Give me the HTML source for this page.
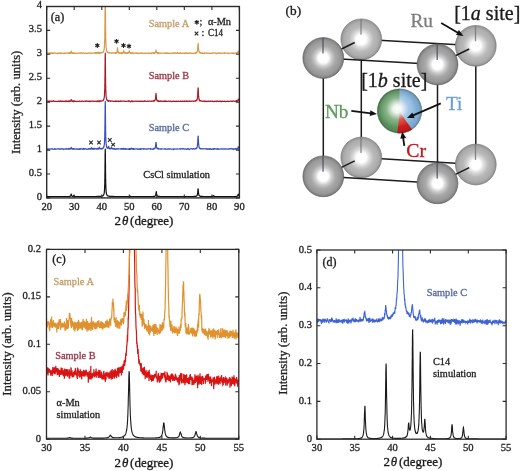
<!DOCTYPE html>
<html><head><meta charset="utf-8"><title>XRD figure</title>
<style>
html,body{margin:0;padding:0;background:#fff;}
body{width:520px;height:471px;overflow:hidden;}
svg{display:block;font-family:'Liberation Serif','Times New Roman',serif;}
text{stroke-width:0.3px;}
</style></head><body>
<svg width="520" height="471" viewBox="0 0 520 471">
<defs>
<clipPath id="clipA"><rect x="46.7" y="6.5" width="192.7" height="191.4"/></clipPath>
<clipPath id="clipC"><rect x="46.5" y="249.4" width="192.3" height="189.8"/></clipPath>
<clipPath id="clipD"><rect x="316.9" y="250.0" width="189.2" height="189.2"/></clipPath>
<radialGradient id="gfront" cx="0.5" cy="0.5" r="0.5" fx="0.5" fy="0.5">
<stop offset="0" stop-color="#ffffff"/><stop offset="0.24" stop-color="#ffffff"/><stop offset="0.42" stop-color="#cbcbcb"/>
<stop offset="0.6" stop-color="#a8a8a8"/><stop offset="0.85" stop-color="#979797"/><stop offset="0.95" stop-color="#848484"/><stop offset="1" stop-color="#6a6a6a"/></radialGradient>
<radialGradient id="gback" cx="0.5" cy="0.5" r="0.5" fx="0.5" fy="0.5">
<stop offset="0" stop-color="#ffffff"/><stop offset="0.24" stop-color="#ffffff"/><stop offset="0.42" stop-color="#d8d8d8"/>
<stop offset="0.6" stop-color="#bababa"/><stop offset="0.85" stop-color="#ababab"/><stop offset="0.95" stop-color="#9a9a9a"/><stop offset="1" stop-color="#828282"/></radialGradient>
<radialGradient id="gcen" cx="0.45" cy="0.45" r="0.42">
<stop offset="0" stop-color="#fff" stop-opacity="1"/><stop offset="0.22" stop-color="#fff" stop-opacity="0.9"/>
<stop offset="0.6" stop-color="#fff" stop-opacity="0.25"/><stop offset="1" stop-color="#fff" stop-opacity="0"/></radialGradient>
<radialGradient id="gedge" cx="0.5" cy="0.5" r="0.5">
<stop offset="0.6" stop-color="#000" stop-opacity="0"/><stop offset="0.9" stop-color="#000" stop-opacity="0.1"/>
<stop offset="1" stop-color="#000" stop-opacity="0.3"/></radialGradient>
</defs>
<rect width="520" height="471" fill="#fff"/>
<g clip-path="url(#clipA)">
<path d="M46.7 196.5L47 196.5L47.4 196.5L47.7 196.5L48 196.5L48.4 196.5L48.7 196.5L49 196.5L49.3 196.5L49.7 196.5L50 196.5L50.3 196.5L50.7 196.5L51 196.5L51.3 196.5L51.7 196.5L52 196.5L52.3 196.5L52.6 196.5L53 196.5L53.3 196.5L53.6 196.5L54 196.5L54.3 196.5L54.6 196.5L55 196.5L55.3 196.5L55.6 196.5L55.9 196.5L56.3 196.5L56.6 196.5L56.9 196.5L57.3 196.5L57.6 196.5L57.9 196.5L58.3 196.5L58.6 196.5L58.9 196.5L59.3 196.5L59.6 196.5L59.9 196.5L60.2 196.5L60.6 196.5L60.9 196.5L61.2 196.5L61.6 196.5L61.9 196.5L62.2 196.5L62.6 196.5L62.9 196.5L63.2 196.5L63.5 196.5L63.9 196.5L64.2 196.5L64.5 196.5L64.9 196.5L65.2 196.5L65.5 196.5L65.9 196.5L66.2 196.5L66.5 196.5L66.9 196.5L67.2 196.5L67.5 196.5L67.8 196.5L68.2 196.5L68.4 196.5L68.5 196.5L68.6 196.5L68.6 196.5L68.7 196.5L68.7 196.5L68.8 196.5L68.8 196.5L68.9 196.5L68.9 196.5L69 196.5L69.1 196.5L69.1 196.4L69.2 196.4L69.2 196.4L69.3 196.4L69.3 196.4L69.4 196.4L69.4 196.4L69.5 196.4L69.5 196.4L69.6 196.4L69.7 196.4L69.7 196.4L69.8 196.4L69.8 196.4L69.9 196.4L69.9 196.4L70 196.3L70 196.3L70.1 196.3L70.2 196.3L70.2 196.3L70.3 196.2L70.3 196.2L70.4 196.2L70.4 196.1L70.5 196.1L70.5 196L70.6 196L70.6 195.9L70.7 195.8L70.8 195.6L70.8 195.5L70.9 195.3L70.9 195.1L71 194.8L71 194.6L71.1 194.3L71.1 194.2L71.2 194.1L71.3 194.2L71.3 194.3L71.4 194.6L71.4 194.8L71.5 195.1L71.5 195.3L71.6 195.5L71.6 195.6L71.7 195.8L71.8 195.9L71.8 195.9L71.9 196L71.9 196.1L72 196.1L72 196.2L72.1 196.2L72.1 196.2L72.2 196.2L72.2 196.3L72.3 196.3L72.4 196.3L72.4 196.3L72.5 196.3L72.5 196.3L72.6 196.3L72.6 196.3L72.7 196.3L72.7 196.3L72.8 196.3L72.9 196.3L72.9 196.3L73 196.3L73 196.3L73.1 196.3L73.1 196.2L73.2 196.2L73.2 196.2L73.3 196.1L73.3 196.1L73.4 196L73.5 195.9L73.5 195.8L73.6 195.6L73.6 195.5L73.7 195.5L73.7 195.5L73.8 195.6L73.8 195.8L73.9 195.9L74 196L74 196.1L74.1 196.2L74.1 196.2L74.2 196.3L74.2 196.3L74.3 196.3L74.3 196.3L74.4 196.4L74.4 196.4L74.5 196.4L74.6 196.4L74.6 196.4L74.7 196.4L74.7 196.4L74.8 196.4L74.8 196.4L74.9 196.4L74.9 196.4L75 196.4L75.1 196.5L75.1 196.5L75.2 196.5L75.2 196.5L75.3 196.5L75.3 196.5L75.4 196.5L75.4 196.5L75.5 196.5L75.5 196.5L75.6 196.5L75.7 196.5L75.7 196.5L75.8 196.5L75.8 196.5L75.9 196.5L75.9 196.5L76 196.5L76 196.5L76.1 196.5L76.2 196.5L76.2 196.5L76.3 196.5L76.3 196.5L76.4 196.5L76.4 196.5L76.8 196.5L77.1 196.5L77.4 196.5L77.8 196.5L78.1 196.5L78.4 196.5L78.7 196.5L79.1 196.5L79.4 196.5L79.7 196.5L80.1 196.5L80.4 196.5L80.7 196.5L81.1 196.5L81.4 196.5L81.7 196.5L82 196.5L82.4 196.5L82.7 196.5L83 196.5L83.4 196.5L83.7 196.5L84 196.5L84.4 196.5L84.7 196.5L85 196.5L85.4 196.5L85.7 196.5L86 196.5L86.3 196.5L86.7 196.5L87 196.5L87.3 196.5L87.7 196.5L88 196.5L88.3 196.5L88.7 196.5L89 196.5L89.3 196.5L89.6 196.5L90 196.5L90.3 196.5L90.6 196.5L91 196.5L91.3 196.5L91.6 196.5L92 196.5L92.3 196.5L92.6 196.5L92.9 196.5L93.3 196.5L93.6 196.5L93.9 196.5L94.3 196.5L94.6 196.5L94.9 196.5L95.3 196.5L95.6 196.5L95.9 196.5L96.3 196.5L96.6 196.5L96.9 196.4L97.2 196.4L97.6 196.4L97.9 196.4L98.2 196.4L98.6 196.4L98.9 196.4L99.2 196.4L99.6 196.4L99.9 196.4L100.2 196.3L100.5 196.3L100.9 196.3L101.2 196.2L101.5 196.2L101.9 196.1L102.2 196L102.5 195.9L102.5 195.9L102.6 195.9L102.6 195.9L102.7 195.9L102.7 195.8L102.8 195.8L102.8 195.8L102.9 195.8L102.9 195.7L102.9 195.7L103 195.7L103.1 195.6L103.1 195.6L103.2 195.5L103.2 195.5L103.2 195.5L103.3 195.4L103.3 195.4L103.4 195.3L103.4 195.2L103.5 195.1L103.5 195.1L103.5 195.1L103.6 195L103.7 194.9L103.7 194.7L103.8 194.6L103.8 194.5L103.8 194.4L103.9 194.3L103.9 194.1L104 193.9L104 193.7L104.1 193.5L104.2 193.2L104.2 193L104.2 192.8L104.3 192.5L104.3 192L104.4 191.5L104.4 190.9L104.5 190.2L104.5 189.7L104.5 189.3L104.6 188.3L104.6 187L104.7 185.5L104.8 183.6L104.8 181.3L104.8 179.9L104.9 178.4L104.9 174.8L105 170.5L105 165.4L105.1 159.9L105.1 154.5L105.2 152.3L105.2 150.5L105.3 149L105.3 150.5L105.4 154.5L105.4 159.9L105.5 165.4L105.5 168L105.5 170.5L105.6 174.8L105.6 178.4L105.7 181.3L105.7 183.6L105.8 185.5L105.8 186.3L105.9 187L105.9 188.3L106 189.3L106 190.2L106.1 190.9L106.1 191.5L106.2 191.8L106.2 192L106.2 192.5L106.3 192.8L106.4 193.2L106.4 193.5L106.5 193.7L106.5 193.8L106.5 193.9L106.6 194.1L106.6 194.3L106.7 194.5L106.7 194.6L106.8 194.7L106.8 194.8L106.8 194.9L106.9 195L107 195.1L107 195.1L107.1 195.2L107.1 195.3L107.2 195.3L107.2 195.4L107.2 195.4L107.3 195.5L107.3 195.5L107.4 195.6L107.5 195.6L107.5 195.7L107.5 195.7L107.6 195.7L107.6 195.7L107.7 195.8L107.7 195.8L107.8 195.8L107.8 195.9L107.8 195.9L107.9 195.9L108 195.9L108.1 196L108.5 196.1L108.8 196.2L109.1 196.2L109.5 196.3L109.8 196.3L110.1 196.3L110.5 196.4L110.8 196.4L111.1 196.4L111.4 196.4L111.8 196.4L112.1 196.4L112.4 196.4L112.8 196.4L113.1 196.4L113.4 196.4L113.8 196.5L114.1 196.5L114.4 196.5L114.8 196.5L115.1 196.5L115.4 196.5L115.7 196.5L116.1 196.5L116.4 196.5L116.7 196.5L117.1 196.5L117.4 196.5L117.7 196.5L118.1 196.5L118.4 196.5L118.7 196.5L119 196.5L119.4 196.5L119.7 196.5L120 196.5L120.4 196.5L120.7 196.5L121 196.5L121.4 196.5L121.7 196.5L122 196.5L122.3 196.5L122.7 196.5L123 196.5L123.3 196.5L123.7 196.5L124 196.5L124.3 196.5L124.7 196.5L125 196.5L125.3 196.5L125.7 196.5L126 196.5L126.3 196.5L126.6 196.5L127 196.5L127.3 196.5L127.4 196.5L127.4 196.5L127.5 196.5L127.5 196.5L127.6 196.5L127.6 196.5L127.7 196.5L127.7 196.5L127.8 196.5L127.9 196.5L127.9 196.5L128 196.5L128 196.5L128.1 196.5L128.1 196.5L128.2 196.5L128.2 196.5L128.3 196.5L128.3 196.5L128.4 196.5L128.5 196.5L128.5 196.5L128.6 196.5L128.6 196.5L128.7 196.5L128.7 196.5L128.8 196.5L128.8 196.5L128.9 196.5L129 196.5L129 196.5L129.1 196.5L129.1 196.5L129.2 196.5L129.2 196.5L129.3 196.5L129.3 196.4L129.4 196.4L129.5 196.4L129.5 196.4L129.6 196.4L129.6 196.4L129.7 196.4L129.7 196.3L129.8 196.3L129.8 196.3L129.9 196.2L129.9 196.2L130 196.1L130.1 196L130.1 196L130.2 196L130.2 196.1L130.3 196.2L130.3 196.2L130.4 196.3L130.4 196.3L130.5 196.3L130.6 196.4L130.6 196.4L130.7 196.4L130.7 196.4L130.8 196.4L130.8 196.4L130.9 196.5L130.9 196.5L131 196.5L131 196.5L131.1 196.5L131.2 196.5L131.2 196.5L131.3 196.5L131.3 196.5L131.4 196.5L131.4 196.5L131.5 196.5L131.5 196.5L131.6 196.5L131.7 196.5L131.7 196.5L131.8 196.5L131.8 196.5L131.9 196.5L131.9 196.5L132 196.5L132 196.5L132.1 196.5L132.1 196.5L132.2 196.5L132.3 196.5L132.3 196.5L132.4 196.5L132.4 196.5L132.5 196.5L132.5 196.5L132.6 196.5L132.6 196.5L132.7 196.5L132.8 196.5L132.8 196.5L132.9 196.5L133.2 196.5L133.6 196.5L133.9 196.5L134.2 196.5L134.6 196.5L134.9 196.5L135.2 196.5L135.6 196.5L135.9 196.5L136.2 196.5L136.6 196.5L136.9 196.5L137.2 196.5L137.5 196.5L137.9 196.5L138.2 196.5L138.5 196.5L138.9 196.5L139.2 196.5L139.5 196.5L139.9 196.5L140.2 196.5L140.5 196.5L140.8 196.5L141.2 196.5L141.5 196.5L141.8 196.5L142.2 196.5L142.5 196.5L142.8 196.5L143.2 196.5L143.5 196.5L143.8 196.5L144.2 196.5L144.5 196.5L144.8 196.5L145.1 196.5L145.5 196.5L145.8 196.5L146.1 196.5L146.5 196.5L146.8 196.5L147.1 196.5L147.5 196.5L147.8 196.5L148.1 196.5L148.4 196.5L148.8 196.5L149.1 196.5L149.4 196.5L149.8 196.5L150.1 196.5L150.4 196.5L150.8 196.5L151.1 196.5L151.4 196.5L151.7 196.5L152.1 196.5L152.4 196.5L152.7 196.5L153.1 196.4L153.4 196.4L153.5 196.4L153.6 196.4L153.6 196.4L153.7 196.4L153.7 196.4L153.8 196.4L153.8 196.4L153.9 196.4L154 196.4L154 196.4L154.1 196.4L154.1 196.4L154.2 196.4L154.2 196.3L154.3 196.3L154.3 196.3L154.4 196.3L154.4 196.3L154.5 196.3L154.6 196.3L154.6 196.3L154.7 196.2L154.7 196.2L154.8 196.2L154.8 196.2L154.9 196.2L154.9 196.1L155 196.1L155.1 196.1L155.1 196L155.2 196L155.2 195.9L155.3 195.9L155.3 195.8L155.4 195.7L155.4 195.7L155.5 195.6L155.5 195.4L155.6 195.3L155.7 195.1L155.7 194.9L155.8 194.7L155.8 194.4L155.9 194.1L155.9 193.8L156 193.3L156 192.9L156.1 192.5L156.2 192.1L156.2 191.8L156.3 191.7L156.3 191.8L156.4 192.1L156.4 192.5L156.5 192.9L156.5 193.3L156.6 193.8L156.6 194.1L156.7 194.4L156.8 194.7L156.8 194.9L156.9 195.1L156.9 195.3L157 195.4L157 195.6L157.1 195.7L157.1 195.7L157.2 195.8L157.3 195.9L157.3 195.9L157.4 196L157.4 196L157.5 196.1L157.5 196.1L157.6 196.1L157.6 196.2L157.7 196.2L157.8 196.2L157.8 196.2L157.9 196.2L157.9 196.3L158 196.3L158 196.3L158.1 196.3L158.1 196.3L158.2 196.3L158.2 196.3L158.3 196.3L158.4 196.4L158.4 196.4L158.5 196.4L158.5 196.4L158.6 196.4L158.6 196.4L158.7 196.4L158.7 196.4L158.8 196.4L158.9 196.4L158.9 196.4L159 196.4L159 196.4L159.3 196.4L159.7 196.4L160 196.5L160.3 196.5L160.7 196.5L161 196.5L161.3 196.5L161.7 196.5L162 196.5L162.3 196.5L162.7 196.5L163 196.5L163.3 196.5L163.6 196.5L164 196.5L164.3 196.5L164.6 196.5L165 196.5L165.3 196.5L165.6 196.5L166 196.5L166.3 196.5L166.6 196.5L166.9 196.5L167.3 196.5L167.6 196.5L167.9 196.5L168.3 196.5L168.6 196.5L168.9 196.5L169.3 196.5L169.6 196.5L169.9 196.5L170.2 196.5L170.6 196.5L170.9 196.5L171.2 196.5L171.6 196.5L171.9 196.5L172.2 196.5L172.6 196.5L172.9 196.5L173.2 196.5L173.6 196.5L173.9 196.5L174.2 196.5L174.5 196.5L174.9 196.5L175.2 196.5L175.5 196.5L175.9 196.5L176.2 196.5L176.5 196.5L176.9 196.5L177.2 196.5L177.5 196.5L177.8 196.5L178.2 196.5L178.5 196.5L178.8 196.5L179.2 196.5L179.5 196.5L179.8 196.5L180.2 196.5L180.5 196.5L180.8 196.5L181.1 196.5L181.5 196.5L181.8 196.5L182.1 196.5L182.5 196.5L182.8 196.5L183.1 196.5L183.5 196.5L183.8 196.5L184.1 196.5L184.5 196.5L184.8 196.5L185.1 196.5L185.4 196.5L185.8 196.5L186.1 196.5L186.4 196.5L186.8 196.5L187.1 196.5L187.4 196.5L187.8 196.5L188.1 196.5L188.4 196.5L188.7 196.5L189.1 196.5L189.4 196.5L189.7 196.5L190.1 196.5L190.4 196.5L190.7 196.5L191.1 196.5L191.4 196.5L191.7 196.5L192.1 196.5L192.4 196.5L192.7 196.5L193 196.5L193.4 196.5L193.7 196.4L194 196.4L194.4 196.4L194.7 196.4L195 196.4L195.4 196.3L195.4 196.3L195.5 196.3L195.5 196.3L195.6 196.3L195.6 196.3L195.7 196.3L195.7 196.3L195.8 196.3L195.8 196.3L195.9 196.3L196 196.2L196 196.2L196.1 196.2L196.1 196.2L196.2 196.2L196.2 196.2L196.3 196.1L196.3 196.1L196.4 196.1L196.5 196.1L196.5 196L196.6 196L196.6 196L196.7 195.9L196.7 195.9L196.8 195.8L196.8 195.8L196.9 195.7L197 195.6L197 195.6L197.1 195.5L197.1 195.4L197.2 195.3L197.2 195.1L197.3 195L197.3 194.8L197.4 194.6L197.4 194.4L197.5 194.1L197.6 193.8L197.6 193.4L197.7 192.9L197.7 192.4L197.8 191.8L197.8 191.2L197.9 190.6L197.9 189.9L198 189.4L198.1 189L198.1 188.9L198.2 189L198.2 189.4L198.3 189.9L198.3 190.6L198.4 191.2L198.4 191.8L198.5 192.4L198.5 192.9L198.6 193.4L198.7 193.8L198.7 194.1L198.8 194.4L198.8 194.6L198.9 194.8L198.9 195L199 195.1L199 195.3L199.1 195.4L199.2 195.5L199.2 195.6L199.3 195.6L199.3 195.7L199.4 195.8L199.4 195.8L199.5 195.9L199.5 195.9L199.6 196L199.6 196L199.7 196L199.8 196.1L199.8 196.1L199.9 196.1L199.9 196.1L200 196.2L200 196.2L200.1 196.2L200.1 196.2L200.2 196.2L200.3 196.2L200.3 196.3L200.4 196.3L200.4 196.3L200.5 196.3L200.5 196.3L200.6 196.3L200.6 196.3L200.7 196.3L200.7 196.3L200.8 196.3L201 196.4L201.3 196.4L201.6 196.4L202 196.4L202.3 196.4L202.6 196.4L203 196.5L203.3 196.5L203.6 196.5L203.9 196.5L204.3 196.5L204.6 196.5L204.9 196.5L205.3 196.5L205.6 196.5L205.9 196.5L206.3 196.5L206.6 196.5L206.9 196.5L207.2 196.5L207.6 196.5L207.9 196.5L208.2 196.5L208.6 196.5L208.9 196.5L209.2 196.5L209.6 196.5L209.9 196.5L210.2 196.5L210.6 196.5L210.8 196.5L210.8 196.5L210.9 196.5L210.9 196.5L211 196.5L211 196.5L211.1 196.5L211.2 196.5L211.2 196.5L211.3 196.5L211.3 196.5L211.4 196.5L211.4 196.5L211.5 196.5L211.5 196.5L211.6 196.5L211.7 196.5L211.7 196.5L211.8 196.5L211.8 196.5L211.9 196.5L211.9 196.5L212 196.5L212 196.5L212.1 196.5L212.1 196.5L212.2 196.4L212.3 196.4L212.3 196.4L212.4 196.4L212.4 196.4L212.5 196.4L212.5 196.4L212.6 196.4L212.6 196.4L212.7 196.4L212.8 196.4L212.8 196.3L212.9 196.3L212.9 196.3L213 196.3L213 196.2L213.1 196.2L213.1 196.1L213.2 196L213.2 195.9L213.3 195.8L213.4 195.7L213.4 195.6L213.5 195.6L213.5 195.5L213.6 195.6L213.6 195.6L213.7 195.7L213.7 195.8L213.8 195.9L213.9 196L213.9 196.1L214 196.2L214 196.2L214.1 196.3L214.1 196.3L214.2 196.3L214.2 196.3L214.3 196.4L214.3 196.4L214.4 196.4L214.5 196.4L214.5 196.4L214.6 196.4L214.6 196.4L214.7 196.4L214.7 196.4L214.8 196.4L214.8 196.5L214.9 196.5L215 196.5L215 196.5L215.1 196.5L215.1 196.5L215.2 196.5L215.2 196.5L215.3 196.5L215.3 196.5L215.4 196.5L215.5 196.5L215.5 196.5L215.6 196.5L215.6 196.5L215.7 196.5L215.7 196.5L215.8 196.5L215.8 196.5L215.9 196.5L215.9 196.5L216 196.5L216.1 196.5L216.1 196.5L216.2 196.5L216.2 196.5L216.5 196.5L216.8 196.5L217.2 196.5L217.5 196.5L217.8 196.5L218.1 196.5L218.5 196.5L218.8 196.5L219.1 196.5L219.5 196.5L219.8 196.5L220.1 196.5L220.5 196.5L220.8 196.5L221.1 196.5L221.5 196.5L221.8 196.5L222.1 196.5L222.4 196.5L222.8 196.5L223.1 196.5L223.4 196.5L223.8 196.5L224.1 196.5L224.4 196.5L224.8 196.5L225.1 196.5L225.4 196.5L225.7 196.5L226.1 196.5L226.4 196.5L226.7 196.5L227.1 196.5L227.4 196.5L227.7 196.5L228.1 196.5L228.4 196.5L228.7 196.5L229 196.5L229.4 196.5L229.7 196.5L230 196.5L230.4 196.5L230.7 196.5L231 196.5L231.4 196.5L231.7 196.5L232 196.5L232.4 196.5L232.7 196.5L233 196.5L233.3 196.5L233.7 196.5L234 196.5L234.3 196.5L234.7 196.5L235 196.5L235.3 196.5L235.5 196.5L235.6 196.5L235.7 196.5L235.7 196.5L235.8 196.4L235.8 196.4L235.9 196.4L235.9 196.4L236 196.4L236 196.4L236.1 196.4L236.2 196.4L236.2 196.4L236.3 196.4L236.3 196.4L236.4 196.4L236.4 196.4L236.5 196.4L236.5 196.4L236.6 196.4L236.6 196.4L236.7 196.4L236.8 196.4L236.8 196.3L236.9 196.3L236.9 196.3L237 196.3L237 196.3L237.1 196.3L237.1 196.2L237.2 196.2L237.3 196.2L237.3 196.2L237.4 196.1L237.4 196.1L237.5 196L237.5 196L237.6 195.9L237.6 195.8L237.7 195.8L237.7 195.6L237.8 195.5L237.9 195.4L237.9 195.2L238 195.1L238 194.9L238.1 194.6L238.1 194.4L238.2 194.3L238.2 194.2L238.3 194.1L238.4 194.2L238.4 194.3L238.5 194.4L238.5 194.6L238.6 194.9L238.6 195.1L238.7 195.2L238.7 195.4L238.8 195.5L238.8 195.6L238.9 195.8L239 195.8L239 195.9L239.1 196L239.1 196L239.2 196.1L239.2 196.1L239.3 196.2L239.3 196.2L239.4 196.2" fill="none" stroke="#111" stroke-width="1.2" stroke-linejoin="round"/>
<path d="M46.7 149L47 148.8L47.4 149.3L47.7 149L48 149.1L48.4 149.1L48.7 149.3L49 149.2L49.3 149L49.7 148.8L50 148.8L50.3 149L50.7 149L51 149.2L51.3 148.9L51.7 149L52 148.9L52.3 148.7L52.6 149L53 149.3L53.3 149.2L53.6 149.3L54 149.2L54.3 148.7L54.6 149L55 149.3L55.3 148.9L55.6 148.8L55.9 149.1L56.3 149.1L56.6 149.1L56.9 148.9L57.3 148.9L57.6 148.8L57.9 148.8L58.3 148.8L58.6 148.7L58.9 148.9L59.3 149.3L59.6 149L59.9 148.9L60.2 149.1L60.6 148.8L60.9 149.1L61.2 149.2L61.6 148.7L61.9 148.9L62.2 149L62.6 148.8L62.9 148.8L63.2 148.9L63.5 149.5L63.9 149.1L64.2 149.1L64.5 149.2L64.9 149L65.2 148.8L65.5 149.1L65.9 149.2L66.2 148.6L66.5 149.1L66.9 149.2L67.2 148.9L67.5 148.9L67.8 149.1L68.2 148.8L68.4 149.1L68.5 149.1L68.6 148.9L68.6 148.8L68.7 149.1L68.7 148.9L68.8 149L68.8 148.4L68.9 149.1L68.9 148.7L69 149L69.1 149L69.1 148.8L69.2 148.8L69.2 148.7L69.3 148.9L69.3 149.1L69.4 149L69.4 148.8L69.5 148.8L69.5 148.7L69.6 148.9L69.7 148.7L69.7 148.6L69.8 148.9L69.8 149.2L69.9 149.1L69.9 149.2L70 148.6L70 149L70.1 148.6L70.2 148.8L70.2 148.5L70.3 148.6L70.3 148.8L70.4 148.8L70.4 148.8L70.5 148.7L70.5 148.8L70.6 148.7L70.6 148.3L70.7 148.9L70.8 148.4L70.8 148.6L70.9 148.2L70.9 148L71 148L71 147.7L71.1 148L71.1 147.4L71.2 147.7L71.3 147.5L71.3 147.7L71.4 148.3L71.4 148.1L71.5 148.1L71.5 148L71.6 148.3L71.6 148.4L71.7 148.8L71.8 148.3L71.8 148.3L71.9 148.7L71.9 148.8L72 149.1L72 148.6L72.1 148.3L72.1 148.7L72.2 148.6L72.2 148.8L72.3 149.1L72.4 148.6L72.4 149.1L72.5 148.9L72.5 148.9L72.6 148.7L72.6 148.8L72.7 148.9L72.7 149.1L72.8 149.2L72.9 148.9L72.9 149.1L73 149.2L73 149.2L73.1 149L73.1 149.3L73.2 149.2L73.2 149.3L73.3 148.9L73.3 148.9L73.4 148.6L73.5 149.2L73.5 149.1L73.6 148.8L73.6 149L73.7 149L73.7 148.6L73.8 149L73.8 149.2L73.9 149.2L74.1 148.9L74.4 148.9L74.8 149.2L75.1 149.2L75.4 148.9L75.8 148.9L76.1 149.1L76.4 148.9L76.8 148.9L77.1 149.3L77.4 149L77.8 148.9L78.1 149.1L78.4 149.4L78.7 149L79.1 148.8L79.4 148.7L79.7 149.4L80.1 148.5L80.4 149.2L80.7 148.8L81.1 148.7L81.4 148.8L81.7 149L82 149.2L82.4 148.9L82.7 149.1L83 149.5L83.4 148.4L83.7 148.8L84 148.6L84.4 149.2L84.7 148.7L85 148.7L85.4 148.7L85.7 149L86 149.2L86.3 149L86.7 149.4L87 149.3L87.3 149L87.7 149.2L88 149L88.3 149L88.7 148.6L88.8 148.7L88.9 149L88.9 148.7L89 149.1L89 149L89.1 148.8L89.1 149.2L89.2 149L89.3 149.2L89.3 148.9L89.4 148.6L89.4 149.1L89.5 148.9L89.5 149.1L89.6 149.2L89.6 149.2L89.7 148.7L89.8 148.5L89.8 148.9L89.9 149.1L89.9 148.8L90 149L90 148.8L90.1 148.9L90.1 148.9L90.2 148.8L90.3 149L90.3 149L90.4 149.2L90.4 149L90.5 149.2L90.5 148.9L90.6 149.1L90.6 148.8L90.7 148.8L90.7 149.1L90.8 149L90.9 149L90.9 148.6L91 148.4L91 148.6L91.1 148.7L91.1 148.3L91.2 148.9L91.2 148.2L91.3 148.5L91.4 148.8L91.4 147.7L91.5 147.8L91.5 148.2L91.6 148L91.6 148.1L91.7 148.1L91.7 148.5L91.8 148.4L91.8 148.3L91.9 148.4L92 148.3L92 148.6L92.1 148.2L92.1 148.9L92.2 148.7L92.2 149.1L92.3 149L92.3 148.6L92.4 149L92.5 148.7L92.5 148.9L92.6 149.1L92.6 148.9L92.7 149L92.7 149L92.8 148.8L92.8 148.8L92.9 149L92.9 149.1L93 148.9L93.1 148.9L93.1 148.7L93.2 148.4L93.2 148.8L93.3 148.9L93.3 149L93.4 149.1L93.4 149.1L93.5 149.1L93.6 149L93.6 149L93.7 148.8L93.7 149L93.8 149L93.8 149.2L93.9 148.6L93.9 148.8L94 148.6L94 148.8L94.1 148.7L94.2 149L94.2 148.8L94.3 148.4L94.6 149.2L94.9 148.7L95.3 148.6L95.6 148.8L95.9 148.8L96.3 148.7L96.5 149L96.6 148.8L96.6 149.1L96.7 149L96.7 149L96.8 148.9L96.9 148.9L96.9 148.8L97 149.2L97 148.5L97.1 148.7L97.1 148.7L97.2 149L97.2 148.9L97.3 148.8L97.4 148.8L97.4 149.2L97.5 148.7L97.5 148.3L97.6 149.2L97.6 148.7L97.7 148.8L97.7 148.9L97.8 148.6L97.8 149.1L97.9 148.8L98 148.5L98 148.9L98.1 148.9L98.1 148.8L98.2 148.9L98.2 148.5L98.3 148.9L98.3 148.6L98.4 149L98.5 148.6L98.5 148.7L98.6 149.1L98.6 148.6L98.7 148.8L98.7 148.6L98.8 148.1L98.8 148.6L98.9 148.5L98.9 147.9L99 148L99.1 147.6L99.1 147.7L99.2 147.8L99.2 147.5L99.3 147.2L99.3 147.3L99.4 147.6L99.4 147.7L99.5 147.9L99.6 148.1L99.6 147.8L99.7 148.2L99.7 148.6L99.8 148.5L99.8 148.3L99.9 148.4L99.9 148.6L100 148.7L100.1 148.6L100.1 149L100.2 148.9L100.2 148.5L100.3 148.8L100.3 148.6L100.4 148.4L100.4 148.6L100.5 148.7L100.5 148.3L100.6 148.6L100.7 148.8L100.7 148.6L100.8 148.6L100.8 148.9L100.9 148.7L100.9 148.7L101 149.1L101 148.7L101.1 148.7L101.2 148.8L101.2 149L101.3 148.7L101.3 148.7L101.4 148.6L101.4 148.9L101.5 148.5L101.5 148.9L101.6 148.7L101.6 148.4L101.7 148.8L101.8 148.7L101.8 148.4L101.9 148.7L101.9 148.6L102 148.5L102.2 148.3L102.5 148.8L102.5 148.6L102.6 148.6L102.6 148.6L102.7 148.5L102.7 148.5L102.8 148.2L102.8 148.4L102.9 148.2L102.9 148.1L102.9 148.3L103 148.1L103.1 147.8L103.1 148L103.2 148.1L103.2 148L103.2 148.1L103.3 147.8L103.3 147.7L103.4 147.9L103.4 147.7L103.5 147.4L103.5 147.7L103.5 147.5L103.6 147.6L103.7 147.5L103.7 147.3L103.8 146.7L103.8 147L103.8 147L103.9 146.9L103.9 146.6L104 146.3L104 146.1L104.1 145.5L104.2 145.6L104.2 145.2L104.2 145.2L104.3 144.8L104.3 144.7L104.4 144L104.4 143.3L104.5 142.6L104.5 142.6L104.5 141.6L104.6 140.8L104.6 139.5L104.7 137.9L104.8 136L104.8 133.6L104.8 132.5L104.9 130.9L104.9 127.1L105 122.8L105 117.8L105.1 112.3L105.1 107L105.2 104.6L105.2 102.6L105.3 101.5L105.3 102.5L105.4 106.7L105.4 112.3L105.5 117.6L105.5 120.7L105.5 123.2L105.6 127.4L105.6 130.8L105.7 133.7L105.7 136.1L105.8 137.9L105.8 139.1L105.9 139.3L105.9 140.3L105.9 140.8L105.9 141.3L106 141.9L106 142.4L106 142.8L106.1 143L106.1 143.2L106.1 143.5L106.1 144.1L106.2 144.3L106.2 144.6L106.2 144.6L106.2 145.3L106.3 144.8L106.3 145.3L106.3 145.6L106.4 145.5L106.4 145.5L106.4 145.8L106.4 145.8L106.5 146.1L106.5 146L106.5 146.1L106.5 146.5L106.6 146.3L106.6 146.6L106.6 146.7L106.7 147L106.7 146.9L106.7 146.8L106.7 147.3L106.8 147L106.8 147.1L106.8 147.2L106.8 147.7L106.9 147.3L106.9 147.2L106.9 147.6L107 147.4L107 147.9L107 147.4L107 147.7L107.1 147.4L107.1 148L107.1 147.5L107.2 147.7L107.2 147.6L107.2 147.9L107.2 147.9L107.3 147.4L107.3 148L107.3 148L107.3 147.9L107.4 148.1L107.4 147.7L107.4 147.6L107.5 148.1L107.5 148.3L107.5 147.7L107.5 147.8L107.6 147.8L107.6 147.8L107.6 148.2L107.6 148.1L107.7 148.3L107.7 148.3L107.7 147.8L107.8 148.2L107.8 147.6L107.8 148L107.8 148.1L107.9 147.9L107.9 147.7L107.9 147.9L108 148.2L108 147.9L108 147.7L108.1 148L108.1 147.9L108.2 147.5L108.3 147.6L108.3 147.7L108.4 147.3L108.4 147.2L108.5 146.8L108.5 146.6L108.6 146.3L108.6 146.3L108.7 146.8L108.7 146.6L108.8 146.7L108.9 147.1L108.9 147.2L109 147.7L109 147.9L109.1 147.7L109.1 148.2L109.2 148.5L109.2 148L109.3 148.4L109.4 148.4L109.4 148.6L109.5 148.7L109.5 148.7L109.6 148.6L109.6 148.4L109.7 149L109.7 148.4L109.8 148.8L109.9 148.8L109.9 148.5L110 148.6L110 148.9L110.1 148.3L110.1 148.8L110.2 148.6L110.2 148.6L110.3 148.4L110.3 148.8L110.4 148.5L110.5 148.8L110.5 148.4L110.6 148.8L110.6 148.7L110.7 148.3L110.7 148.6L110.8 148.6L110.8 148.2L110.9 148.5L111 148.7L111 148.4L111.1 148.7L111.1 148.2L111.2 148.2L111.2 148.4L111.3 148.4L111.3 148.1L111.4 148L111.4 148L111.5 147.6L111.6 148L111.6 147.5L111.7 147.5L111.7 147.5L111.8 147.5L111.8 148L111.9 147.8L111.9 148.1L112 148.3L112.1 148.5L112.1 148.6L112.2 148.4L112.2 148.7L112.3 148.5L112.3 148.4L112.4 148.4L112.4 148.4L112.5 148.8L112.5 148.9L112.6 148.5L112.7 148.7L112.7 148.6L112.8 148.8L112.8 148.6L112.9 148.6L112.9 148.7L113 148.7L113 148.8L113.1 148.8L113.2 148.8L113.2 148.7L113.3 149L113.3 148.5L113.4 148.9L113.4 148.7L113.5 148.9L113.5 148.9L113.6 148.5L113.6 148.9L113.7 149.1L113.8 149L113.8 149L113.9 148.5L113.9 148.9L114 148.7L114 149.1L114.1 148.8L114.1 148.8L114.2 148.6L114.3 149L114.3 148.8L114.4 148.9L114.4 149.1L114.8 148.9L115.1 149L115.4 149.4L115.7 148.8L116.1 148.8L116.4 149L116.7 149.2L117.1 148.7L117.4 148.9L117.7 148.8L118.1 148.7L118.4 149.1L118.7 148.8L119 149L119.4 149L119.7 149L120 149L120.4 148.8L120.5 148.9L120.5 149L120.6 149L120.6 148.9L120.7 149.1L120.8 149.1L120.8 149L120.9 149.1L120.9 149L121 149.1L121 148.6L121.1 148.7L121.1 148.9L121.2 149L121.2 148.5L121.3 148.9L121.4 149L121.4 148.9L121.5 148.9L121.5 148.7L121.6 149L121.6 148.6L121.7 149.1L121.7 148.8L121.8 149.2L121.9 148.6L121.9 149L122 149L122 148.8L122.1 148.7L122.1 149.2L122.2 149L122.2 149.2L122.3 148.9L122.3 149L122.4 149L122.5 149.1L122.5 149L122.6 149.1L122.6 148.8L122.7 148.6L122.7 149.2L122.8 148.9L122.8 148.9L122.9 148.7L123 148.9L123 148.7L123.1 148.8L123.1 148.4L123.2 148.5L123.2 148.5L123.3 148.4L123.3 148.6L123.4 148.9L123.4 148.6L123.5 148.7L123.6 148.8L123.6 148.6L123.7 148.6L123.7 149.1L123.8 149L123.8 148.6L123.9 148.6L123.9 149.1L124 149.2L124.1 149.1L124.1 149L124.2 149.2L124.2 148.9L124.3 149.2L124.3 149.2L124.4 148.8L124.4 149.1L124.5 149L124.6 148.8L124.6 148.8L124.7 149L124.7 149L124.8 149.1L124.8 148.6L124.9 148.8L124.9 149.2L125 149L125 148.8L125.1 148.9L125.2 148.6L125.2 148.7L125.3 149.1L125.3 149L125.4 149.2L125.4 148.9L125.5 148.9L125.5 148.5L125.6 149L125.7 149.4L125.7 149.1L125.8 149L125.8 149.2L125.9 149.1L125.9 149L126 148.9L126.3 149L126.6 149.1L127 148.8L127.3 149.1L127.6 149.1L128 149.2L128.3 149.1L128.6 148.9L128.7 149.3L128.8 149L128.8 148.8L128.9 149.1L129 148.9L129 149.2L129.1 148.7L129.1 148.8L129.2 148.9L129.2 149.3L129.3 149.2L129.3 148.8L129.4 148.6L129.5 148.9L129.5 148.7L129.6 149.1L129.6 149L129.7 149L129.7 148.9L129.8 149.3L129.8 148.8L129.9 148.7L129.9 149.2L130 149.2L130.1 148.9L130.1 149.1L130.2 149.4L130.2 148.8L130.3 148.9L130.3 149.1L130.4 148.6L130.4 148.9L130.5 149.1L130.6 148.9L130.6 149.1L130.7 149.1L130.7 148.9L130.8 149L130.8 149L130.9 148.6L130.9 148.7L131 148.7L131 148.8L131.1 148.7L131.2 148.5L131.2 148.8L131.3 148.3L131.3 148.8L131.4 148.6L131.4 148.8L131.5 148.6L131.5 148.4L131.6 148.3L131.7 148.8L131.7 148.7L131.8 148.8L131.8 148.9L131.9 149.1L131.9 148.8L132 149.2L132 148.9L132.1 148.9L132.1 149L132.2 149.1L132.3 149.2L132.3 148.6L132.4 149.2L132.4 148.7L132.5 148.8L132.5 149L132.6 149.2L132.6 148.8L132.7 148.6L132.8 149.1L132.8 149L132.9 148.8L132.9 148.9L133 148.6L133 149.1L133.1 148.9L133.1 149.2L133.2 148.6L133.2 149.1L133.3 149.4L133.4 149L133.4 149L133.5 148.6L133.5 149L133.6 149L133.6 148.9L133.7 148.7L133.7 149L133.8 148.8L133.9 148.9L133.9 149L134 149L134 149L134.1 149.2L134.1 148.8L134.2 149.2L134.2 148.8L134.6 148.8L134.9 149L135.2 149.1L135.6 149L135.9 148.9L136.2 148.8L136.6 148.9L136.9 148.8L137.2 149.1L137.5 148.9L137.9 149.3L138.2 148.8L138.5 149L138.9 149.1L139.2 148.8L139.5 148.9L139.9 149.5L140.2 149L140.5 149.3L140.8 148.8L141.2 148.5L141.5 149.1L141.8 149L142.2 149L142.5 148.9L142.8 148.9L143.2 148.7L143.5 149.2L143.8 148.7L144.2 149.2L144.5 148.9L144.8 148.8L145.1 148.8L145.5 149.2L145.8 149.1L146.1 149.1L146.5 149L146.8 148.8L147.1 149.2L147.5 148.9L147.8 148.9L148.1 148.9L148.4 148.9L148.8 148.7L149.1 148.9L149.4 148.8L149.8 148.9L150.1 148.6L150.4 149.3L150.8 148.7L151.1 149L151.4 149L151.7 149.1L152.1 149.3L152.4 149L152.7 149L153.1 148.8L153.2 149.1L153.3 148.6L153.3 148.8L153.4 148.9L153.5 149L153.5 149L153.6 149L153.6 148.9L153.7 148.8L153.7 148.8L153.8 149.1L153.8 148.8L153.9 148.9L154 148.7L154 148.4L154.1 148.6L154.1 148.8L154.2 149L154.2 149L154.3 149L154.3 148.5L154.4 148.8L154.4 148.6L154.5 148.7L154.6 148.5L154.6 148.2L154.7 148.6L154.7 148.5L154.8 148.5L154.8 148.2L154.9 148.5L154.9 148.4L155 148.4L155.1 148.3L155.1 147.8L155.2 147.3L155.2 147.8L155.3 147.3L155.3 147.2L155.4 147.3L155.4 146.8L155.5 146.5L155.5 146.2L155.6 145.3L155.7 145.5L155.7 144.5L155.8 143.9L155.8 143.4L155.9 142.8L155.9 142.3L156 142.3L156 142.3L156.1 142.7L156.2 143.7L156.2 143.7L156.3 144.1L156.3 144.9L156.4 145.5L156.4 146.4L156.5 146.5L156.5 146.9L156.6 147.2L156.6 147.1L156.7 147.6L156.8 147.7L156.8 148.2L156.9 147.9L156.9 148L157 148.2L157 148.3L157.1 147.9L157.1 148.6L157.2 148.6L157.3 148.6L157.3 148.2L157.4 148.1L157.4 148.5L157.5 148.7L157.5 148.7L157.6 148.4L157.6 148.8L157.7 148.4L157.8 148.4L157.8 148.7L157.9 148.6L157.9 148.6L158 148.5L158 149L158.1 148.5L158.1 148.9L158.2 148.9L158.2 148.8L158.3 148.9L158.4 149L158.4 149.1L158.5 149L158.5 148.6L158.6 148.5L158.6 148.7L158.7 148.6L159 149L159.3 148.9L159.7 148.9L160 149.1L160.3 149.1L160.7 148.9L161 149L161.3 149.2L161.7 148.9L162 149L162.3 148.8L162.7 149L163 149L163.3 149L163.6 149L164 149.1L164.3 149.1L164.6 148.8L165 148.9L165.3 148.7L165.6 149.3L166 149.1L166.3 149.1L166.6 149L166.9 149.1L167.3 149.1L167.6 148.8L167.9 149L168.3 149.2L168.6 148.7L168.9 148.8L169.3 149.1L169.6 148.8L169.9 149.1L170.2 148.8L170.6 149L170.9 149.1L171.2 149.1L171.6 149.1L171.9 149L172.2 149L172.6 149L172.9 149.1L173.2 149.7L173.6 149L173.9 149.4L174.2 148.9L174.5 148.8L174.9 148.9L175.2 149.1L175.5 149L175.9 149L176.2 149.1L176.5 149.1L176.9 149.2L177.2 148.8L177.5 149L177.8 148.8L178.2 149L178.5 149L178.8 149L179.2 148.9L179.5 148.8L179.8 148.9L180.2 149.1L180.5 149.1L180.8 148.7L181.1 149L181.5 149L181.8 148.7L182.1 148.8L182.5 148.9L182.8 149.1L183.1 148.5L183.5 148.9L183.8 148.9L184.1 149L184.5 149.3L184.8 149.2L185.1 148.9L185.4 148.9L185.8 149L186.1 149.2L186.4 149.3L186.8 149L187.1 149.3L187.4 148.8L187.8 148.8L188.1 148.4L188.4 148.8L188.7 149.1L189.1 149.1L189.4 149.6L189.7 149.1L190.1 149L190.4 148.8L190.7 148.8L191.1 148.8L191.4 148.9L191.7 148.8L192.1 148.7L192.4 149.1L192.7 149L193 149.2L193.4 148.6L193.7 148.6L194 148.7L194.4 149.1L194.7 148.8L195 148.8L195.4 148.7L195.4 148.7L195.5 148.6L195.5 148.8L195.6 148.5L195.6 148.6L195.7 148.7L195.7 148.6L195.8 148.7L195.8 148.4L195.9 148.6L196 148.5L196 148.6L196.1 148.8L196.1 148.3L196.2 148.6L196.2 148.3L196.3 148.3L196.3 148.6L196.4 148.5L196.5 148.3L196.5 148.3L196.6 148.4L196.6 147.9L196.7 148L196.7 147.9L196.8 147.9L196.8 147.7L196.9 147.8L197 147.5L197 147.3L197.1 147.2L197.1 147.2L197.2 147.1L197.2 146.6L197.3 146.3L197.3 146.2L197.4 145.9L197.4 145.3L197.5 144.4L197.6 144.4L197.6 143.6L197.7 142.9L197.7 142.6L197.8 141.1L197.8 140.2L197.9 138.7L197.9 137.9L198 137.1L198.1 136.3L198.1 136L198.2 136.4L198.2 136.9L198.3 138.1L198.3 139L198.4 139.9L198.4 140.7L198.5 142L198.5 142.9L198.6 143.5L198.7 144.1L198.7 144.6L198.8 145.2L198.8 145.8L198.9 146.1L198.9 146.4L199 146.6L199 146.9L199.1 147.2L199.2 147.7L199.2 147.5L199.3 147.9L199.3 147.6L199.4 147.8L199.4 148.2L199.5 147.8L199.5 147.8L199.6 148.1L199.6 147.8L199.7 147.8L199.8 148.5L199.8 148.1L199.9 148.2L199.9 148.3L200 148.2L200 148.6L200.1 148.6L200.1 148.6L200.2 148.7L200.3 148.6L200.3 148.8L200.4 148.8L200.4 148.5L200.5 148.6L200.5 148.6L200.6 149L200.6 148.8L200.7 148.8L200.7 148.7L200.8 148.8L201 148.6L201.3 148.8L201.6 148.8L202 148.8L202.3 148.7L202.6 149L203 148.7L203.3 148.8L203.6 148.9L203.9 148.9L204.3 148.8L204.6 148.7L204.9 148.8L205.3 148.9L205.6 148.8L205.9 148.9L206.3 148.7L206.6 149L206.9 149.4L207.2 148.7L207.6 149L207.9 149.2L208.2 149L208.6 149.1L208.9 148.6L209.2 148.9L209.6 149.3L209.9 148.9L210.2 149.1L210.6 148.6L210.9 149.2L211.2 149.4L211.5 149L211.9 149.1L212.2 149.1L212.5 149.4L212.9 148.9L213.2 148.7L213.5 149.4L213.9 148.8L214.2 149.1L214.5 148.5L214.8 148.9L215.2 149L215.5 148.8L215.8 148.9L216.2 149.1L216.5 148.9L216.8 149.1L217.2 149.3L217.5 148.6L217.8 149.1L218.1 149.1L218.5 148.9L218.8 149.3L219.1 149.2L219.5 149.1L219.8 149.1L220.1 149L220.5 148.8L220.8 149.1L221.1 148.9L221.5 148.9L221.8 149.2L222.1 148.9L222.4 149.2L222.8 148.8L223.1 148.9L223.4 149L223.8 149.2L224.1 149L224.4 149.1L224.8 148.9L225.1 149L225.4 149.1L225.7 148.8L226.1 148.9L226.4 149.1L226.7 148.8L227.1 149L227.4 149.1L227.7 149L228.1 149.1L228.4 149.1L228.7 149L229 148.7L229.4 148.7L229.7 149L230 148.7L230.4 149L230.7 148.9L231 148.8L231.4 148.9L231.7 148.5L232 148.9L232.4 149.2L232.7 148.7L233 149.1L233.3 149L233.7 149.6L234 148.8L234.3 148.8L234.7 148.8L235 148.8L235.3 148.6L235.5 149L235.6 148.8L235.7 149.1L235.7 149L235.8 148.7L235.8 148.9L235.9 149.2L235.9 148.9L236 149L236 149.1L236.1 148.8L236.2 149L236.2 149.2L236.3 149.1L236.3 148.6L236.4 149.2L236.4 148.9L236.5 148.8L236.5 148.8L236.6 149.1L236.6 148.9L236.7 148.8L236.8 148.7L236.8 149L236.9 149.1L236.9 148.6L237 148.6L237 148.7L237.1 148.9L237.1 148.7L237.2 148.7L237.3 148.6L237.3 149L237.4 148.7L237.4 148.7L237.5 148.8L237.5 148.5L237.6 148.5L237.6 148.5L237.7 148.3L237.7 148.6L237.8 148.2L237.9 148L237.9 147.9L238 147.6L238 147.9L238.1 147.8L238.1 147.3L238.2 147.1L238.2 146.7L238.3 147L238.4 147.3L238.4 147.1L238.5 147.5L238.5 147.8L238.6 147.2L238.6 147.8L238.7 147.8L238.7 148L238.8 147.9L238.8 148.3L238.9 148.2L239 148.7L239 148.8L239.1 148.3L239.1 148.3L239.2 148.6L239.2 148.6L239.3 148.7L239.3 148.9L239.4 148.5" fill="none" stroke="#3a50b8" stroke-width="1.2" stroke-linejoin="round"/>
<path d="M46.7 101.2L47 101.2L47.4 101.2L47.7 101.1L48 101.2L48.4 101.1L48.7 101.5L49 101.2L49.3 100.9L49.7 101.4L50 101.3L50.3 101.1L50.7 101.1L51 101.2L51.3 101.6L51.7 101.2L52 101.5L52.3 101.4L52.6 101.2L53 101.3L53.3 101.1L53.6 100.7L54 101.1L54.3 101.2L54.6 101.5L55 101.4L55.3 101.5L55.6 101.4L55.9 101.5L56.3 101.4L56.6 101.3L56.9 101.5L57.3 101.6L57.6 101.5L57.9 101.2L58.3 101.3L58.6 101.1L58.9 101.1L59.3 101.4L59.6 101.2L59.9 101.6L60.2 100.9L60.6 101.1L60.9 101.3L61.2 101.5L61.6 101.2L61.9 101.6L62.2 101.4L62.6 101.1L62.9 101.3L63.2 101.4L63.5 101.1L63.9 101.5L64.2 101.2L64.5 101.4L64.9 101.4L65.2 101.2L65.5 101.5L65.9 100.9L66.2 101.4L66.5 100.9L66.9 101.5L67.2 101.2L67.5 101.5L67.8 101.5L68.2 101.2L68.4 101.1L68.5 101.5L68.6 101L68.6 101.4L68.7 101.2L68.7 101.2L68.8 101.1L68.8 101.6L68.9 100.9L68.9 101.1L69 101.3L69.1 101.5L69.1 101.6L69.2 101.5L69.2 101.1L69.3 101.3L69.3 101.5L69.4 101.3L69.4 100.9L69.5 101.3L69.5 101.3L69.6 101L69.7 101.1L69.7 101.2L69.8 101.3L69.8 101.5L69.9 101.4L69.9 101.3L70 101.2L70 101.1L70.1 101.1L70.2 101.1L70.2 101.1L70.3 101.3L70.3 101.5L70.4 101.2L70.4 101.2L70.5 101.2L70.5 101.1L70.6 101.2L70.6 101.1L70.7 100.9L70.8 100.7L70.8 100.8L70.9 100.5L70.9 100.5L71 100.5L71 100.1L71.1 99.6L71.1 100L71.2 99.6L71.3 99.6L71.3 99.7L71.4 100.3L71.4 99.9L71.5 100.4L71.5 100.6L71.6 100.7L71.6 100.7L71.7 100.8L71.8 100.9L71.8 100.7L71.9 101.1L71.9 101.2L72 100.9L72 101L72.1 100.9L72.1 101.3L72.2 100.9L72.2 101.1L72.3 100.8L72.4 101.4L72.4 101.1L72.5 101.2L72.5 101.5L72.6 101.3L72.6 101L72.7 101.3L72.7 101.4L72.8 101.1L72.9 101L72.9 101L73 101.4L73 101.3L73.1 101L73.1 101.4L73.2 101.4L73.2 101.1L73.3 101L73.3 101.5L73.4 101.8L73.5 101.5L73.5 101.5L73.6 101.3L73.6 101.1L73.7 101.3L73.7 101.4L73.8 101.2L73.8 101.4L73.9 101.3L74.1 101.4L74.4 100.8L74.8 101.1L75.1 101.4L75.4 101.5L75.8 101.4L76.1 101.6L76.4 101.4L76.8 101.4L77.1 101.1L77.4 101.4L77.8 101.4L78.1 101.5L78.4 101.5L78.7 101.3L79.1 101.3L79.4 101.1L79.7 101.4L80.1 101.1L80.4 101.2L80.7 101.3L81.1 101.7L81.4 101.5L81.7 101.1L82 101L82.4 101.2L82.7 101.1L83 101.4L83.4 101.4L83.7 101.4L84 101.1L84.4 101.2L84.7 101.3L85 101.3L85.4 101.2L85.7 101.2L86 101.4L86.3 100.9L86.7 101.2L87 101.3L87.3 101L87.7 101.1L88 101.3L88.3 101.2L88.7 101.5L89 101.4L89.3 101.7L89.6 101L90 101.6L90.3 101.1L90.6 101.4L91 101.5L91.3 101.3L91.6 101.2L92 101.1L92.3 100.9L92.6 101.2L92.9 101.1L93.3 101.4L93.6 101.1L93.9 101.2L94.3 101.3L94.6 101.3L94.9 101.3L95.3 101.2L95.6 101.2L95.9 101.3L96.3 101.4L96.6 101.1L96.9 101.6L97.2 101.3L97.6 100.9L97.9 101.7L98.2 101.3L98.6 101.1L98.9 101.5L99.2 100.7L99.6 101.7L99.9 100.9L100.2 100.8L100.5 100.9L100.9 101.1L101.2 101L101.5 101.1L101.9 100.8L102.2 101L102.5 100.8L102.5 100.5L102.6 100.9L102.6 100.7L102.7 100.6L102.7 100.9L102.8 100.4L102.8 100.5L102.9 100.8L102.9 100.5L102.9 100.6L103 100.6L103.1 100.4L103.1 100.5L103.2 100.1L103.2 100.4L103.2 100.1L103.3 100.2L103.3 100L103.4 100.2L103.4 100.1L103.5 100.1L103.5 99.8L103.5 99.6L103.6 99.3L103.7 99.4L103.7 99.5L103.8 99.4L103.8 99.2L103.8 99.2L103.9 98.8L103.9 98.7L104 98.8L104 98.6L104.1 97.9L104.2 97.8L104.2 97.8L104.2 97.3L104.3 97.3L104.3 96.8L104.4 96.3L104.4 96L104.5 94.7L104.5 94.7L104.5 94.1L104.6 93.1L104.6 91.5L104.7 90.1L104.8 88.2L104.8 86.2L104.8 84.5L104.9 83.2L104.9 79.3L105 74.9L105 69.8L105.1 63.8L105.1 58.7L105.2 56.4L105.2 54.7L105.3 53.2L105.3 54.6L105.4 58.6L105.4 64.5L105.5 69.6L105.5 72.4L105.5 74.8L105.6 79.2L105.6 83.2L105.7 86.1L105.7 87.9L105.8 90.1L105.8 91.2L105.9 91.6L105.9 93L106 94.3L106 95.3L106.1 95.9L106.1 96.2L106.2 96.5L106.2 96.8L106.2 97.1L106.3 97.5L106.4 98.3L106.4 98.3L106.5 98.6L106.5 98.8L106.5 98.8L106.6 98.9L106.6 99.1L106.7 99.5L106.7 99.5L106.8 99.1L106.8 99.8L106.8 99.9L106.9 99.7L107 99.7L107 99.8L107.1 100.2L107.1 99.9L107.2 100.2L107.2 100.3L107.2 100.3L107.3 100.3L107.3 100.2L107.4 100.2L107.5 100.4L107.5 100.2L107.5 100.4L107.6 100.3L107.6 100.8L107.7 100.9L107.7 100.4L107.8 100.9L107.8 100.7L107.8 100.7L107.9 100.8L108 100.8L108.1 100.5L108.5 101.4L108.8 100.8L109.1 100.6L109.5 101L109.8 101.1L110.1 101L110.5 100.8L110.8 101.4L111.1 101.1L111.4 101.2L111.8 101.1L112.1 101.2L112.4 101.1L112.8 101.3L113.1 101.2L113.4 101.4L113.8 101.4L114.1 101.3L114.4 101.3L114.8 101.5L115.1 100.9L115.4 101.3L115.7 101.5L116.1 101L116.4 101.4L116.7 101.2L117.1 101.3L117.4 101.2L117.7 101.2L118.1 101.4L118.4 101.3L118.7 100.9L119 101.7L119.4 101.3L119.7 101.2L120 101.5L120.4 101.5L120.7 100.9L121 101.3L121.4 100.9L121.7 101.2L122 101.3L122.3 101.2L122.7 101.2L123 101L123.3 101.2L123.7 101.2L124 101.2L124.3 101L124.7 101.1L125 101.5L125.3 101.4L125.7 101.2L126 101.4L126.3 101.4L126.6 101.5L127 101.3L127.3 101.2L127.6 101.1L128 101.3L128.3 100.9L128.6 101.3L129 100.7L129.3 101.1L129.6 101.2L129.9 101.4L130.3 101.8L130.6 101.3L130.9 101.2L131.3 100.9L131.6 101.5L131.9 100.9L132.3 101.3L132.6 101.1L132.9 101.8L133.2 101.3L133.6 101.3L133.9 101.2L134.2 101.3L134.6 101.5L134.9 101.1L135.2 101.1L135.6 101.2L135.9 101.1L136.2 101.1L136.6 101.3L136.9 101.5L137.2 101.5L137.5 101L137.9 101.1L138.2 101.3L138.5 101.4L138.9 101.3L139.2 101.3L139.5 101.3L139.9 101.4L140.2 100.9L140.5 101.2L140.8 101.4L141.2 101.5L141.5 101.4L141.8 101.1L142.2 101.1L142.5 101.3L142.8 101.3L143.2 101.3L143.5 101.5L143.8 101L144.2 101.2L144.5 100.8L144.8 101.4L145.1 101.3L145.5 101.1L145.8 101.3L146.1 101.5L146.5 101.5L146.8 101.3L147.1 101.2L147.5 101.3L147.8 101.1L148.1 101.1L148.4 101.2L148.8 101.3L149.1 101.3L149.4 101.2L149.8 101.1L150.1 101.2L150.4 101.2L150.8 101.3L151.1 101.5L151.4 101.4L151.7 101.1L152.1 101.1L152.4 100.9L152.7 101.2L153.1 101L153.2 100.9L153.3 100.9L153.3 101.2L153.4 101.2L153.5 101.1L153.5 101.3L153.6 101L153.6 100.9L153.7 101.2L153.7 100.7L153.8 101.1L153.8 101.1L153.9 101.1L154 101.2L154 100.9L154.1 101L154.1 100.7L154.2 100.8L154.2 100.8L154.3 101L154.3 101.2L154.4 100.9L154.4 101L154.5 100.6L154.6 100.8L154.6 100.4L154.7 100.5L154.7 100.5L154.8 100.5L154.8 100.5L154.9 100.3L154.9 100.2L155 100.4L155.1 100.1L155.1 99.6L155.2 99.9L155.2 99.8L155.3 99.7L155.3 99.6L155.4 98.9L155.4 98.8L155.5 98.3L155.5 97.6L155.6 97L155.7 97L155.7 96L155.8 95.4L155.8 94.7L155.9 94.1L155.9 93.8L156 93.3L156 93.7L156.1 94.1L156.2 94.6L156.2 95.3L156.3 96.1L156.3 96.8L156.4 97.1L156.4 97.9L156.5 98.4L156.5 98.9L156.6 99.1L156.6 99.5L156.7 99.5L156.8 99.7L156.8 100.3L156.9 100.1L156.9 100.1L157 100.2L157 100.6L157.1 100.2L157.1 100.7L157.2 100.8L157.3 100.8L157.3 100.7L157.4 100.5L157.4 100.5L157.5 100.8L157.5 101.1L157.6 101L157.6 101.1L157.7 101L157.8 101.3L157.8 100.9L157.9 100.9L157.9 101L158 100.9L158 101.2L158.1 101.3L158.1 101.2L158.2 100.8L158.2 100.9L158.3 101.2L158.4 100.9L158.4 101.2L158.5 100.8L158.5 101L158.6 101.2L158.6 101L158.7 101.3L159 101.3L159.3 101.5L159.7 101.2L160 101.2L160.3 101.2L160.7 101.3L161 101L161.3 101.3L161.7 101.4L162 101L162.3 101L162.7 101.2L163 101.6L163.3 101.4L163.6 101.2L164 101.3L164.3 101L164.6 101.5L165 101.1L165.3 101.4L165.6 101L166 101.3L166.3 101.1L166.6 101.4L166.9 101.5L167.3 101.5L167.6 101.4L167.9 101.5L168.3 101L168.6 101L168.9 101.2L169.3 101.5L169.6 101.3L169.9 101.4L170.2 101L170.6 101.2L170.9 101.2L171.2 101.4L171.6 101.7L171.9 101.4L172.2 101.5L172.6 101.2L172.9 101.3L173.2 101.4L173.6 101.4L173.9 101L174.2 101.5L174.5 101.5L174.9 101.3L175.2 101.4L175.5 101.4L175.9 101.2L176.2 101L176.5 101.6L176.9 101.3L177.2 101.3L177.5 101.3L177.8 101.3L178.2 101.3L178.5 101.1L178.8 101.4L179.2 101.3L179.5 101.3L179.8 101.3L180.2 101.3L180.5 101.1L180.8 101.3L181.1 101.2L181.5 101.3L181.8 101.5L182.1 101.4L182.5 101.5L182.8 101.2L183.1 101.4L183.5 101.5L183.8 101.2L184.1 101.2L184.5 101.6L184.8 101L185.1 101.3L185.4 101.3L185.8 101.1L186.1 101.3L186.4 101.4L186.8 100.9L187.1 101.5L187.4 101.3L187.8 101.1L188.1 101.5L188.4 101.3L188.7 101.2L189.1 100.8L189.4 101.4L189.7 101.3L190.1 101.1L190.4 101.2L190.7 101.5L191.1 101.2L191.4 101.2L191.7 101.1L192.1 101L192.4 101L192.7 101.1L193 101.1L193.4 101.4L193.7 101.2L194 101.1L194.4 101.2L194.7 101.1L195 101.2L195.4 100.7L195.4 100.6L195.5 101L195.5 100.9L195.6 101L195.6 100.7L195.7 100.8L195.7 100.9L195.8 100.9L195.8 100.8L195.9 101L196 100.7L196 100.9L196.1 100.7L196.1 100.7L196.2 100.5L196.2 100.7L196.3 100.4L196.3 100.8L196.4 100.4L196.5 100.5L196.5 100.4L196.6 100.4L196.6 100.2L196.7 100.6L196.7 100.1L196.8 100.4L196.8 99.8L196.9 100.3L197 100L197 100L197.1 99.2L197.1 99.6L197.2 99.1L197.2 99L197.3 99L197.3 98.4L197.4 97.8L197.4 97.6L197.5 96.9L197.6 96.5L197.6 95.8L197.7 95.1L197.7 94.1L197.8 92.8L197.8 91.9L197.9 90.8L197.9 89.9L198 88.9L198.1 87.8L198.1 88.1L198.2 88.3L198.2 88.8L198.3 89.8L198.3 90.5L198.4 92.5L198.4 93.1L198.5 94L198.5 95.2L198.6 95.9L198.7 96.4L198.7 96.7L198.8 97.7L198.8 98.2L198.9 98.1L198.9 98.3L199 98.9L199 99.5L199.1 99L199.2 99.5L199.2 99.4L199.3 99.8L199.3 100L199.4 100.1L199.4 99.8L199.5 99.9L199.5 100.7L199.6 100.5L199.6 100.1L199.7 100.5L199.8 100.8L199.8 100.5L199.9 100.6L199.9 100.7L200 100.8L200 100.8L200.1 100.8L200.1 100.7L200.2 100.9L200.3 100.9L200.3 100.9L200.4 100.6L200.4 100.8L200.5 100.9L200.5 100.8L200.6 100.8L200.6 100.7L200.7 100.9L200.7 100.6L200.8 100.7L201 101L201.3 101.1L201.6 100.9L202 101L202.3 101.2L202.6 101.5L203 101.5L203.3 101.1L203.6 101.1L203.9 101.1L204.3 101.5L204.6 101L204.9 101.3L205.3 101.2L205.6 101.2L205.9 101.4L206.3 101.4L206.6 101.7L206.9 101.4L207.2 101.6L207.6 101.2L207.9 101.3L208.2 101.1L208.6 101.2L208.9 101.4L209.2 101.2L209.6 101.3L209.9 101.2L210.2 101.2L210.6 101.5L210.9 101.3L211.2 101.3L211.5 101.3L211.9 101.1L212.2 101L212.5 101.3L212.9 101.3L213.2 101.7L213.5 101.3L213.9 101.4L214.2 101.7L214.5 101.2L214.8 101.2L215.2 101.4L215.5 101.4L215.8 101.5L216.2 101.1L216.5 101.6L216.8 101.3L217.2 100.9L217.5 101.3L217.8 101.2L218.1 101.3L218.5 101.5L218.8 101.3L219.1 101.2L219.5 101.5L219.8 101.2L220.1 101L220.5 101.1L220.8 101.6L221.1 101.5L221.5 101.6L221.8 101.1L222.1 101.2L222.4 101.2L222.8 101.5L223.1 101.5L223.4 101.3L223.8 101.3L224.1 101.4L224.4 101.3L224.8 101.2L225.1 101.2L225.4 101.5L225.7 101.7L226.1 101.3L226.4 101.3L226.7 101.3L227.1 101.4L227.4 101.4L227.7 101.1L228.1 101.3L228.4 101.3L228.7 101.5L229 101.4L229.4 101.3L229.7 101.5L230 101.5L230.4 101.3L230.7 101.1L231 101.2L231.4 101L231.7 101.3L232 101.3L232.4 101.5L232.7 101.4L233 101L233.3 101.2L233.7 101.1L234 101.1L234.3 101.3L234.7 101.3L235 101.2L235.3 101.1L235.5 101.2L235.6 101.2L235.7 101.2L235.7 101.4L235.8 101.3L235.8 101.4L235.9 101L235.9 101.6L236 101.3L236 100.8L236.1 101.3L236.2 101.4L236.2 101.2L236.3 101L236.3 101.2L236.4 101.1L236.4 101.2L236.5 101.3L236.5 100.6L236.6 101.2L236.6 101.3L236.7 101.3L236.8 101.1L236.8 101.1L236.9 101L236.9 101.1L237 101.4L237 101L237.1 101.1L237.1 101.1L237.2 101.3L237.3 101.1L237.3 101.1L237.4 101L237.4 101.2L237.5 100.9L237.5 100.8L237.6 101L237.6 100.9L237.7 100.8L237.7 100.4L237.8 101L237.9 100.5L237.9 100.6L238 100.2L238 99.8L238.1 99.9L238.1 99.6L238.2 99.7L238.2 99L238.3 99.2L238.4 99.2L238.4 99.8L238.5 99.8L238.5 99.6L238.6 100L238.6 100.2L238.7 100.2L238.7 100.6L238.8 100.4L238.8 100.6L238.9 100.6L239 100.9L239 100.7L239.1 101L239.1 100.7L239.2 100.7L239.2 100.8L239.3 100.9L239.3 100.9L239.4 101.6" fill="none" stroke="#a81c2c" stroke-width="1.2" stroke-linejoin="round"/>
<path d="M46.7 53L47 53.3L47.4 53.2L47.7 53.3L48 53.5L48.4 53.3L48.7 53.1L49 52.9L49.3 53.3L49.7 53.4L50 52.9L50.3 53.4L50.7 52.8L51 53.2L51.3 53.4L51.7 53L52 52.9L52.3 53.5L52.6 52.9L53 53.3L53.3 52.9L53.6 53.3L54 53.5L54.3 53.1L54.6 53L55 52.8L55.3 52.9L55.6 53.1L55.9 53.2L56.3 53.3L56.6 53.3L56.9 53.4L57.3 53.3L57.6 53.7L57.9 53.2L58.3 53.2L58.6 52.7L58.9 53.1L59.3 53.3L59.6 53.1L59.9 53.4L60.2 53.3L60.6 53.6L60.9 52.9L61.2 53.1L61.6 53.4L61.9 53.2L62.2 53L62.6 53.1L62.9 53.1L63.2 53.4L63.5 53.3L63.9 53.2L64.2 53L64.5 53.4L64.9 53.4L65.2 53L65.5 53.4L65.9 53L66.2 53.1L66.5 53L66.9 52.9L67.2 53.1L67.5 53L67.8 53.4L68.2 53.3L68.4 53L68.5 52.9L68.6 52.9L68.6 52.7L68.7 53.1L68.7 53.1L68.8 53L68.8 53.2L68.9 53.2L68.9 53.4L69 53L69.1 53.4L69.1 53.1L69.2 53.4L69.2 52.9L69.3 53.3L69.3 53L69.4 53.4L69.4 53.2L69.5 52.9L69.5 53.3L69.6 53.1L69.7 53.2L69.7 53.5L69.8 53L69.8 53L69.9 53.3L69.9 53L70 53.2L70 53.2L70.1 53L70.2 53.2L70.2 52.6L70.3 53.3L70.3 52.8L70.4 52.7L70.4 53.3L70.5 53.2L70.5 52.7L70.6 52.8L70.6 52.6L70.7 52.4L70.8 52.6L70.8 52.6L70.9 52.8L70.9 52L71 52L71 51.6L71.1 51.4L71.1 51.6L71.2 51L71.3 51.1L71.3 51.3L71.4 51.9L71.4 51.9L71.5 52.2L71.5 52.3L71.6 52.6L71.6 52.4L71.7 52.6L71.8 52.6L71.8 52.9L71.9 52.6L71.9 52.8L72 53.4L72 53.1L72.1 53L72.1 52.8L72.2 53.1L72.2 53.1L72.3 53.2L72.4 52.9L72.4 53.1L72.5 53.2L72.5 53.2L72.6 53L72.6 53.2L72.7 53.4L72.7 53L72.8 53.3L72.9 53.1L72.9 53.1L73 52.9L73 52.9L73.1 53.2L73.1 53.2L73.2 53.4L73.2 52.8L73.3 53.1L73.3 52.9L73.4 53.2L73.5 53.5L73.5 52.9L73.6 53.1L73.6 53.1L73.7 53.2L73.7 53L73.8 53.1L73.8 53.5L73.9 53L74.1 53.3L74.4 53.3L74.8 52.8L75.1 53L75.4 53.2L75.8 53.5L76.1 53.2L76.4 53.1L76.8 53.2L77.1 53.4L77.4 53.3L77.8 53.4L78.1 53.1L78.4 53L78.7 53L79.1 53.3L79.4 53.1L79.7 53.1L80.1 53.3L80.4 53.2L80.7 52.8L81.1 53.2L81.4 53L81.7 53.3L82 53.2L82.4 53.5L82.7 53.2L83 53L83.4 52.8L83.7 53L84 53.1L84.4 53.2L84.7 53.3L85 53.2L85.4 53.1L85.7 53.3L86 53L86.3 53.4L86.7 53.5L87 53.4L87.3 53.5L87.7 53.4L88 53L88.3 53.2L88.7 53.1L89 53L89.3 52.9L89.6 53.3L90 52.9L90.3 53.1L90.6 53.2L91 53.1L91.3 53.4L91.6 53.3L92 53.2L92.3 53L92.6 53.2L92.9 53.2L93.3 53L93.6 52.9L93.9 53L94.3 52.9L94.6 53.2L94.9 53.2L95.2 53.1L95.2 53.2L95.3 53.2L95.3 52.8L95.4 53.2L95.4 53.3L95.5 53L95.5 52.8L95.6 53.1L95.6 52.9L95.7 53.2L95.8 53.2L95.8 53.3L95.9 53.1L95.9 52.8L96 53.3L96 52.8L96.1 53.3L96.1 53.2L96.2 52.9L96.3 53L96.3 53.1L96.4 53.4L96.4 53L96.5 53.3L96.5 52.6L96.6 53.1L96.6 53L96.7 53.3L96.7 53.2L96.8 53.3L96.9 52.9L96.9 53.1L97 52.9L97 53.2L97.1 53.1L97.1 52.8L97.2 53.2L97.2 53.3L97.3 52.9L97.4 53.1L97.4 53L97.5 52.7L97.5 53L97.6 52.6L97.6 52.8L97.7 52.3L97.7 52.3L97.8 52.5L97.8 52.4L97.9 52.5L98 52.4L98 52.2L98.1 52.8L98.1 52.4L98.2 52.9L98.2 52.9L98.3 53.1L98.3 52.4L98.4 52.9L98.5 52.8L98.5 53L98.6 52.7L98.6 53.4L98.7 53L98.7 52.6L98.8 53.1L98.8 53L98.9 52.9L98.9 53.2L99 53L99.1 52.8L99.1 53L99.2 52.9L99.2 53.1L99.3 53L99.3 53L99.4 52.7L99.4 52.9L99.5 53.1L99.6 53.5L99.6 52.9L99.7 52.9L99.7 53.2L99.8 53.4L99.8 53.2L99.9 52.8L99.9 53.2L100 53.1L100.1 52.9L100.1 52.8L100.2 53L100.2 53L100.3 53.1L100.3 52.7L100.4 52.8L100.4 53L100.5 53.2L100.5 53.1L100.6 52.8L100.9 53.1L101.2 52.7L101.5 52.7L101.9 52.7L102.2 52.5L102.5 52.4L102.5 52.7L102.6 52.5L102.6 52L102.7 52.6L102.7 52.5L102.8 52.1L102.8 52.3L102.9 52.4L102.9 52.5L102.9 52.1L103 52L103.1 51.9L103.1 52.1L103.2 51.8L103.2 52.2L103.2 51.9L103.3 52L103.3 51.8L103.4 51.6L103.4 51.4L103.5 51.7L103.5 51.3L103.5 51.5L103.6 51.5L103.7 51.2L103.7 51.3L103.8 50.9L103.8 50.7L103.8 50.7L103.9 50.4L103.9 50.4L104 50.1L104 50.1L104.1 49.5L104.2 49.3L104.2 49.1L104.2 48.8L104.3 48.3L104.3 48.1L104.4 47.4L104.4 46.4L104.5 45.4L104.5 45L104.5 44.3L104.6 43L104.6 41.6L104.7 39.9L104.8 37.8L104.8 34.9L104.8 33.2L104.9 31.2L104.9 26.9L105 21.8L105 15.7L105.1 8.8L105.1 2.4L105.2 -0.3L105.2 -2.4L105.3 -3.1L105.3 -2.2L105.4 2.4L105.4 8.9L105.5 15.7L105.5 18.9L105.5 21.3L105.6 27.1L105.6 31.3L105.7 34.7L105.7 37.8L105.8 39.8L105.8 40.5L105.9 41.5L105.9 43.1L106 44.4L106 45.5L106.1 46.2L106.1 47.2L106.2 47.5L106.2 47.7L106.2 48.1L106.3 48.7L106.4 49L106.4 49.9L106.5 49.6L106.5 49.5L106.5 49.8L106.6 50.4L106.6 50.7L106.7 50.7L106.7 51.1L106.8 50.9L106.8 51.2L106.8 51L106.9 51.1L107 51.8L107 51.5L107.1 51.8L107.1 52L107.2 51.9L107.2 51.9L107.2 51.7L107.3 52.2L107.3 51.8L107.4 51.7L107.5 52L107.5 52L107.5 52.2L107.6 52.5L107.6 52.2L107.7 52.2L107.7 52.2L107.8 51.9L107.8 52.3L107.8 52.3L107.9 52.2L108 52.7L108.1 52.8L108.5 52.8L108.8 52.9L109.1 52.7L109.5 53L109.8 52.6L110.1 52.7L110.5 52.8L110.8 53.1L111.1 52.9L111.4 52.9L111.8 53.3L112.1 53L112.4 52.9L112.8 53L113.1 52.8L113.4 52.9L113.8 53.2L114.1 53.1L114.4 53.2L114.8 53L114.8 53.2L114.9 52.9L114.9 53L115 52.9L115 53.1L115.1 53.3L115.1 52.7L115.2 53.1L115.2 52.8L115.3 53L115.4 52.9L115.4 52.7L115.5 53L115.5 52.8L115.6 53.3L115.6 52.8L115.7 53.1L115.7 53L115.8 53L115.9 52.9L115.9 52.6L116 53.3L116 52.9L116.1 53.1L116.1 52.7L116.2 53L116.2 52.8L116.3 52.9L116.3 52.7L116.4 52.6L116.5 52.8L116.5 52.7L116.6 52.9L116.6 52.5L116.7 52.4L116.7 52.6L116.8 52.1L116.8 52.6L116.9 52.5L117 52.2L117 51.8L117.1 51.5L117.1 51.2L117.2 50.8L117.2 50.1L117.3 49.8L117.3 49.3L117.4 48.7L117.4 47.7L117.5 48.3L117.6 48.1L117.6 48.2L117.7 49L117.7 49.9L117.8 50.3L117.8 50.6L117.9 50.9L117.9 51.6L118 51.6L118.1 51.9L118.1 51.9L118.2 52L118.2 52.4L118.3 52.7L118.3 52.5L118.4 52.3L118.4 52.5L118.5 52.7L118.5 52.3L118.6 53L118.7 52.6L118.7 53L118.8 52.9L118.8 52.9L118.9 52.6L118.9 53.1L119 53.1L119 53.3L119.1 52.9L119.2 53.1L119.2 52.9L119.3 53.2L119.3 53.1L119.4 52.8L119.4 53.1L119.5 52.9L119.5 52.9L119.6 53.1L119.7 53.4L119.7 52.9L119.8 53L119.8 52.9L119.9 53.5L119.9 53.4L120 53.5L120 53.2L120.1 52.9L120.1 53L120.2 53.1L120.4 53.1L120.7 53L121 53.2L121.1 53L121.1 53.1L121.2 53.5L121.2 53.2L121.3 52.8L121.4 53.2L121.4 53.1L121.5 53.2L121.5 53.2L121.6 52.9L121.6 53.1L121.7 53.3L121.7 53.7L121.8 53.2L121.9 53.5L121.9 53.4L122 52.9L122 52.9L122.1 53.4L122.1 52.9L122.2 53L122.2 53.2L122.3 52.9L122.3 53.3L122.4 53.3L122.5 53.3L122.5 53.2L122.6 52.8L122.6 53.2L122.7 53.2L122.7 53.1L122.8 52.9L122.8 53L122.9 52.7L123 53L123 53L123.1 52.8L123.1 52.7L123.2 52.8L123.2 52.5L123.3 52.1L123.3 52.4L123.4 52.1L123.4 51.7L123.5 51.9L123.6 51.7L123.6 51.5L123.7 50.9L123.7 50.7L123.8 50.8L123.8 50.8L123.9 50.8L123.9 51.1L124 51.8L124.1 51.8L124.1 52L124.2 52L124.2 52.4L124.3 52.6L124.3 52.6L124.4 53L124.4 52.7L124.5 52.9L124.6 52.7L124.6 53L124.7 53L124.7 53.1L124.8 53.1L124.8 52.8L124.9 53.1L124.9 52.9L125 53.2L125 53L125.1 53.4L125.2 53.1L125.2 53.1L125.3 52.9L125.3 53L125.4 53.1L125.4 52.9L125.5 53L125.5 53L125.6 52.9L125.7 53.1L125.7 53.2L125.8 53L125.8 53.2L125.9 53L125.9 52.9L126 53L126 53.2L126.1 53.4L126.1 53.1L126.2 53.1L126.3 52.9L126.3 53.2L126.4 53.2L126.4 53L126.5 53.2L126.5 53.2L126.5 52.8L126.6 52.8L126.6 53L126.6 53.1L126.7 53.3L126.7 53L126.8 53.1L126.8 53.1L126.9 53.2L126.9 53.1L127 53.2L127 53.1L127.1 52.8L127.1 53L127.2 53.4L127.2 53.3L127.3 53.4L127.3 53.3L127.3 53L127.4 53L127.4 53.2L127.5 53L127.6 53.2L127.6 53.4L127.6 53.4L127.7 53.2L127.7 52.8L127.8 53.3L127.8 52.8L127.9 52.8L127.9 53.1L128 53L128 53.1L128 53L128.1 52.9L128.2 53L128.2 52.8L128.3 52.7L128.3 52.9L128.3 52.9L128.4 52.9L128.4 52.8L128.5 53L128.5 52.7L128.6 52.7L128.6 52.8L128.7 52.2L128.7 52.7L128.8 52.6L128.8 52.2L128.9 52.5L128.9 52.1L129 52.1L129 51.9L129 51.5L129.1 51.2L129.1 50.9L129.2 50.9L129.3 50.9L129.3 51.1L129.3 51.3L129.4 51.3L129.4 51.8L129.5 52L129.5 51.8L129.6 52.1L129.6 52.3L129.6 52.3L129.7 52.4L129.8 52.9L129.8 52.7L129.9 53L129.9 52.8L129.9 53L130 52.6L130 52.8L130.1 53.1L130.1 53L130.2 53.2L130.2 53L130.3 52.9L130.3 53L130.4 53.4L130.4 53.1L130.5 53L130.5 53L130.6 52.9L130.6 53.3L130.6 53L130.7 53.2L130.7 53.1L130.8 53L130.9 53L130.9 53.2L130.9 53.1L131 53.3L131 53.4L131.1 53L131.1 53.1L131.2 53.4L131.2 53.3L131.3 53.1L131.3 52.8L131.4 52.9L131.4 53L131.5 53.5L131.5 53.2L131.6 53.1L131.6 53.1L131.6 53.1L131.7 53.2L131.7 52.8L131.8 52.9L131.8 53.2L131.9 53.4L131.9 52.8L132.3 53.3L132.6 52.9L132.9 52.8L133.2 53.4L133.6 53.1L133.9 53.3L134.2 53.1L134.6 53.1L134.9 52.8L135.2 53.1L135.6 53.2L135.9 53L136.2 53.2L136.6 53.3L136.9 52.8L137.2 53.4L137.5 53.3L137.9 53.2L138.2 53.4L138.5 53.6L138.9 53L139.2 53.4L139.5 53.3L139.9 53.3L140.2 53.4L140.5 53.4L140.8 53.2L141.2 52.7L141.5 53.1L141.8 53.1L142.2 53.5L142.5 53.2L142.8 53.4L143.2 53.1L143.5 53.2L143.8 53.2L144.2 53.2L144.5 53.3L144.8 53.5L145.1 53.1L145.5 53.5L145.8 53.4L146.1 53.3L146.5 53.3L146.8 53.2L147.1 53L147.5 53.2L147.8 53.2L148.1 53.2L148.4 53L148.8 53.6L149.1 53.1L149.4 53.4L149.8 53.4L150.1 53.2L150.4 53.3L150.8 53.1L151.1 53L151.4 53.6L151.7 53.2L152.1 52.8L152.4 53L152.7 52.9L153.1 53.1L153.2 53.4L153.3 53.4L153.3 53L153.4 53L153.5 53.3L153.5 53.2L153.6 53.1L153.6 53.5L153.7 53.2L153.7 52.8L153.8 52.7L153.8 53.1L153.9 52.8L154 53.2L154 53.3L154.1 53.5L154.1 52.9L154.2 53.2L154.2 52.6L154.3 53L154.3 53L154.4 53.4L154.4 52.8L154.5 53.1L154.6 53L154.6 53.4L154.7 52.8L154.7 52.8L154.8 53.1L154.8 52.9L154.9 52.8L154.9 52.7L155 52.8L155.1 52.5L155.1 52.8L155.2 52.8L155.2 52.7L155.3 53L155.3 52.6L155.4 52.2L155.4 52.2L155.5 52.3L155.5 51.9L155.6 52.2L155.7 51.6L155.7 51.2L155.8 50.9L155.8 50.9L155.9 50.4L155.9 50L156 50.4L156 50.3L156.1 50.9L156.2 51.2L156.2 50.9L156.3 51.3L156.3 51.5L156.4 51.9L156.4 52L156.5 52L156.5 51.9L156.6 52.4L156.6 52.8L156.7 52.3L156.8 52.5L156.8 52.6L156.9 52.7L156.9 52.3L157 52.8L157 52.8L157.1 53.2L157.1 53L157.2 53.1L157.3 53L157.3 52.9L157.4 53.1L157.4 52.7L157.5 53.2L157.5 53.1L157.6 53L157.6 53.3L157.7 53L157.8 53L157.8 53.1L157.9 52.7L157.9 53.1L158 53L158 53.3L158.1 53.4L158.1 53.2L158.2 53.2L158.2 53.2L158.3 53L158.4 53.6L158.4 53.4L158.5 53.5L158.5 52.9L158.6 53.3L158.6 53.2L158.7 53.4L159 53L159.3 53.2L159.7 53.1L160 53.6L160.3 53L160.7 53.1L161 53.1L161.3 53L161.7 53.2L162 53.2L162.3 53.1L162.7 53.1L163 53.2L163.3 53.2L163.6 53.3L164 53.1L164.3 53L164.6 53.2L165 52.8L165.3 53.5L165.6 53.2L166 52.9L166.3 53.3L166.6 53.5L166.9 52.9L167.3 53.1L167.6 53.4L167.9 53.1L168.3 53.4L168.6 53.5L168.9 53.2L169.3 53.3L169.6 53.4L169.9 53.3L170.2 53.4L170.6 53.2L170.9 53.2L171.2 53.1L171.6 53.3L171.9 53.5L172.2 53.5L172.6 53.3L172.9 52.9L173.2 53L173.6 53.3L173.9 53L174.2 53.4L174.5 53L174.9 53.3L175.2 53.1L175.5 53.1L175.9 53.3L176.2 53.1L176.5 53.4L176.9 53.2L177.2 53L177.5 52.4L177.8 53.1L178.2 53.2L178.5 53.4L178.8 53L179.2 53.5L179.5 53.4L179.8 53.1L180.2 53.4L180.5 52.9L180.8 53L181.1 53.3L181.5 53.3L181.8 53.5L182.1 53.5L182.5 53.1L182.8 53.1L183.1 53.1L183.5 53.1L183.8 53.3L184.1 53.1L184.5 53.5L184.8 53.2L185.1 52.9L185.4 52.9L185.8 53.3L186.1 53.3L186.4 52.9L186.8 52.9L187.1 53.5L187.4 53.3L187.8 53.1L188.1 53L188.4 53.4L188.7 53.1L189.1 53.2L189.4 52.7L189.7 53.1L190.1 53.2L190.4 53.2L190.7 53L191.1 53L191.4 53.4L191.7 53.1L192.1 53.4L192.4 53.3L192.7 53.4L193 53.4L193.4 53.3L193.7 53.3L194 53L194.4 52.9L194.7 53.1L195 53.3L195.4 52.8L195.4 53.4L195.5 53.4L195.5 52.8L195.6 52.8L195.6 52.8L195.7 53L195.7 53.2L195.8 53L195.8 52.8L195.9 53L196 53L196 53.1L196.1 53.1L196.1 52.6L196.2 52.7L196.2 53L196.3 52.9L196.3 52.8L196.4 52.6L196.5 52.9L196.5 52.6L196.6 53L196.6 52.8L196.7 52.4L196.7 52.2L196.8 52.6L196.8 52.4L196.9 52.1L197 52.2L197 52.1L197.1 51.8L197.1 51.8L197.2 51.4L197.2 51.3L197.3 51.4L197.3 51.1L197.4 50.8L197.4 50.8L197.5 50.4L197.6 49.6L197.6 49.6L197.7 48.5L197.7 48L197.8 47.4L197.8 46.5L197.9 45.7L197.9 44.7L198 44.4L198.1 43.8L198.1 43.7L198.2 43.4L198.2 44.1L198.3 45.1L198.3 45.8L198.4 46.7L198.4 47.4L198.5 48.1L198.5 48.3L198.6 49.6L198.7 49.6L198.7 50.1L198.8 50.7L198.8 50.8L198.9 51.2L198.9 51.3L199 51.3L199 51.9L199.1 51.5L199.2 52L199.2 51.7L199.3 52L199.3 52L199.4 52.2L199.4 52.1L199.5 52.4L199.5 52.6L199.6 52.4L199.6 52.4L199.7 52.2L199.8 53L199.8 52.7L199.9 52.5L199.9 53L200 52.8L200 52.4L200.1 52.5L200.1 53L200.2 52.6L200.3 52.6L200.3 52.7L200.4 52.8L200.4 52.9L200.5 53.1L200.5 53L200.6 52.8L200.6 52.9L200.7 52.6L200.7 53L200.8 53.4L201 53.1L201.3 53L201.6 53L202 53.1L202.3 53.3L202.6 52.8L203 53.3L203.3 53L203.6 53.2L203.9 53.4L204.3 52.9L204.6 53.6L204.9 53.3L205.3 53.1L205.6 53.2L205.9 53L206.3 53.2L206.6 53.3L206.9 52.8L207.2 53.2L207.6 53.2L207.9 53.4L208.2 53.3L208.6 53.1L208.9 53.1L209.2 53.2L209.6 53.3L209.9 53.1L210.2 53.5L210.6 53.3L210.9 53.2L211.2 53.4L211.5 53.2L211.9 53.3L212.2 53.3L212.5 52.9L212.9 53.1L213.2 53L213.5 53.2L213.9 53L214.2 53L214.5 53L214.8 52.7L215.2 53.2L215.5 53.1L215.8 53.2L216.2 53.9L216.5 53.5L216.8 53.2L217.2 53.1L217.5 53.3L217.8 53L218.1 53L218.5 53.3L218.8 52.9L219.1 52.9L219.5 53.1L219.8 53.4L220.1 52.9L220.5 53.2L220.8 53.3L221.1 53.2L221.5 53.3L221.8 53L222.1 53L222.4 53L222.8 53.1L223.1 53.3L223.4 53.2L223.8 53L224.1 53.3L224.4 52.6L224.8 53.2L225.1 53.3L225.4 53L225.7 53.1L226.1 53.2L226.4 53.2L226.7 53.1L227.1 53L227.4 53.1L227.7 53.3L228.1 53.1L228.4 53L228.7 53L229 53.8L229.4 53.4L229.7 53.3L230 53.2L230.4 53.2L230.7 53L231 53.1L231.4 53.2L231.7 53.2L232 52.9L232.4 53.3L232.7 53.1L233 52.9L233.3 53.1L233.7 53.6L234 53.1L234.3 53.3L234.7 53.2L235 53L235.3 53.1L235.5 53.2L235.6 53L235.7 53.1L235.7 53.1L235.8 53.1L235.8 53.1L235.9 53.2L235.9 53.2L236 53.1L236 53.3L236.1 53.4L236.2 52.9L236.2 53.2L236.3 53.1L236.3 53.1L236.4 53.1L236.4 53.1L236.5 53.1L236.5 53.3L236.6 52.9L236.6 53.2L236.7 52.9L236.8 53.4L236.8 53.3L236.9 52.9L236.9 53.1L237 53.2L237 52.9L237.1 53.2L237.1 53L237.2 53.4L237.3 53L237.3 53L237.4 52.8L237.4 52.7L237.5 53L237.5 52.5L237.6 52.8L237.6 53.1L237.7 53L237.7 52.2L237.8 52.4L237.9 52.4L237.9 52.3L238 52.2L238 51.6L238.1 51.7L238.1 51.2L238.2 51.5L238.2 51.8L238.3 51.1L238.4 51.4L238.4 51.5L238.5 51.3L238.5 51.8L238.6 51.7L238.6 52L238.7 52.3L238.7 52.2L238.8 52.5L238.8 52.3L238.9 52.4L239 52.7L239 52.6L239.1 52.7L239.1 52.9L239.2 52.7L239.2 52.9L239.3 52.8L239.3 53.1L239.4 52.9" fill="none" stroke="#d89a48" stroke-width="1.2" stroke-linejoin="round"/>
</g>
<rect x="46.7" y="6.5" width="192.7" height="191.4" fill="none" stroke="#2b2b2b" stroke-width="1.4"/>
<path d="M46.7 197.9v-3.5M46.7 6.5v3.5M74.2 197.9v-3.5M74.2 6.5v3.5M101.8 197.9v-3.5M101.8 6.5v3.5M129.3 197.9v-3.5M129.3 6.5v3.5M156.8 197.9v-3.5M156.8 6.5v3.5M184.3 197.9v-3.5M184.3 6.5v3.5M211.9 197.9v-3.5M211.9 6.5v3.5M239.4 197.9v-3.5M239.4 6.5v3.5M46.7 197.9h3.5M239.4 197.9h-3.5M46.7 174.0h3.5M239.4 174.0h-3.5M46.7 150.1h3.5M239.4 150.1h-3.5M46.7 126.1h3.5M239.4 126.1h-3.5M46.7 102.2h3.5M239.4 102.2h-3.5M46.7 78.3h3.5M239.4 78.3h-3.5M46.7 54.3h3.5M239.4 54.3h-3.5M46.7 30.4h3.5M239.4 30.4h-3.5M46.7 6.5h3.5M239.4 6.5h-3.5" stroke="#2b2b2b" stroke-width="1.1" fill="none"/>
<g font-size="10.6" fill="#222" stroke="#222"><text x="46.7" y="210.1" text-anchor="middle">20</text><text x="74.2" y="210.1" text-anchor="middle">30</text><text x="101.8" y="210.1" text-anchor="middle">40</text><text x="129.3" y="210.1" text-anchor="middle">50</text><text x="156.8" y="210.1" text-anchor="middle">60</text><text x="184.3" y="210.1" text-anchor="middle">70</text><text x="211.9" y="210.1" text-anchor="middle">80</text><text x="239.4" y="210.1" text-anchor="middle">90</text><text x="42" y="200.4" text-anchor="end">0</text><text x="42" y="175.5" text-anchor="end">0.5</text><text x="42" y="151.6" text-anchor="end">1</text><text x="42" y="127.6" text-anchor="end">1.5</text><text x="42" y="103.7" text-anchor="end">2</text><text x="42" y="79.8" text-anchor="end">2.5</text><text x="42" y="55.8" text-anchor="end">3</text><text x="42" y="31.9" text-anchor="end">3.5</text><text x="42" y="8.0" text-anchor="end">4</text></g>
<g clip-path="url(#clipC)">
<path d="M46.5 438.2L47.3 438.2L48 438.2L48.8 438.2L49.6 438.2L50.3 438.2L51.1 438.2L51.9 438.2L52.7 438.2L53.4 438.2L54.2 438.2L55 438.2L55.7 438.2L56.5 438.2L57.3 438.2L58 438.2L58.8 438.2L59.6 438.2L60.3 438.2L61.1 438.2L61.9 438.2L62 438.2L62.2 438.2L62.3 438.2L62.5 438.2L62.7 438.2L62.8 438.2L63 438.2L63.1 438.2L63.3 438.2L63.4 438.2L63.6 438.2L63.7 438.2L63.9 438.2L64 438.2L64.2 438.2L64.3 438.2L64.5 438.2L64.7 438.2L64.8 438.2L65 438.2L65.1 438.2L65.3 438.2L65.4 438.2L65.6 438.2L65.7 438.2L65.9 438.2L66 438.2L66.2 438.2L66.3 438.2L66.5 438.2L66.7 438.2L66.8 438.2L67 438.1L67.1 438.1L67.3 438.1L67.4 438.1L67.6 438.1L67.7 438.1L67.9 438.1L68 438L68.2 438L68.3 438L68.5 437.9L68.7 437.8L68.8 437.8L69 437.7L69.1 437.6L69.3 437.5L69.4 437.5L69.6 437.5L69.7 437.5L69.9 437.5L70 437.6L70.2 437.7L70.3 437.8L70.5 437.8L70.7 437.9L70.8 438L71 438L71.1 438L71.3 438.1L71.4 438.1L71.6 438.1L71.7 438.1L71.9 438.1L72 438.1L72.2 438.1L72.3 438.1L72.5 438.2L72.7 438.2L72.8 438.2L73 438.2L73.1 438.2L73.3 438.2L73.4 438.2L73.6 438.2L73.7 438.2L73.9 438.2L74 438.2L74.2 438.2L74.3 438.2L74.5 438.2L74.7 438.2L74.8 438.2L75 438.2L75.1 438.2L75.3 438.2L75.4 438.2L75.6 438.2L75.7 438.2L75.9 438.2L76 438.2L76.2 438.2L76.3 438.2L76.5 438.2L76.7 438.2L76.8 438.2L77 438.2L77.1 438.2L77.3 438.2L78 438.2L78.8 438.2L79.6 438.2L80.3 438.2L81.1 438.2L81.9 438.2L82.7 438.2L82.8 438.2L83 438.2L83.1 438.2L83.3 438.2L83.4 438.2L83.6 438.2L83.7 438.2L83.9 438.2L84 438.2L84.2 438.2L84.3 438.2L84.5 438.2L84.7 438.2L84.8 438.2L85 438.2L85.1 438.2L85.3 438.2L85.4 438.2L85.6 438.2L85.7 438.2L85.9 438.2L86 438.2L86.2 438.2L86.3 438.1L86.5 438.1L86.7 438.1L86.8 438.1L87 438.1L87.1 438.1L87.3 438.1L87.4 438.1L87.6 438.1L87.7 438.1L87.9 438.1L88 438L88.2 438L88.3 438L88.5 438L88.7 437.9L88.8 437.9L89 437.9L89.1 437.8L89.3 437.7L89.4 437.6L89.6 437.5L89.7 437.4L89.9 437.3L90 437.2L90.2 437.1L90.3 437.1L90.5 437.1L90.7 437.2L90.8 437.3L91 437.4L91.1 437.5L91.3 437.6L91.4 437.7L91.6 437.8L91.7 437.8L91.9 437.9L92 437.9L92.2 438L92.3 438L92.5 438L92.7 438L92.8 438L93 438.1L93.1 438.1L93.3 438.1L93.4 438.1L93.6 438.1L93.7 438.1L93.9 438.1L94 438.1L94.2 438.1L94.3 438.1L94.5 438.1L94.7 438.1L94.8 438.1L95 438.1L95.1 438.1L95.3 438.1L95.4 438.1L95.6 438.1L95.7 438.1L95.9 438.1L96 438.1L96.2 438.1L96.3 438.1L96.5 438.1L96.7 438.1L96.8 438.1L97 438.1L97.1 438.1L97.3 438.1L97.4 438.1L97.6 438.1L97.7 438.1L97.9 438.1L98 438.1L98.8 438.1L99.6 438.1L100.3 438.1L101.1 438.1L101.9 438.1L102.7 438.1L102.8 438.1L103 438.1L103.1 438.1L103.3 438.1L103.4 438.1L103.6 438.1L103.7 438.1L103.9 438.1L104 438.1L104.2 438.1L104.3 438L104.5 438L104.7 438L104.8 438L105 438L105.1 438L105.3 438L105.4 438L105.6 438L105.7 438L105.9 438L106 437.9L106.2 437.9L106.3 437.9L106.5 437.9L106.7 437.9L106.8 437.9L107 437.8L107.1 437.8L107.3 437.8L107.4 437.7L107.6 437.7L107.7 437.7L107.9 437.6L108 437.5L108.2 437.5L108.3 437.4L108.5 437.3L108.7 437.2L108.8 437.1L109 436.9L109.1 436.8L109.3 436.6L109.4 436.4L109.6 436.1L109.7 435.9L109.9 435.6L110 435.4L110.2 435.3L110.3 435.2L110.5 435.3L110.7 435.4L110.8 435.6L111 435.9L111.1 436.1L111.3 436.3L111.4 436.5L111.6 436.7L111.7 436.9L111.9 437L112 437.1L112.2 437.2L112.3 437.3L112.5 437.4L112.7 437.5L112.8 437.5L113 437.6L113.1 437.6L113.3 437.6L113.4 437.7L113.6 437.7L113.7 437.7L113.9 437.7L114 437.7L114.2 437.8L114.3 437.8L114.5 437.8L114.7 437.8L114.8 437.8L115 437.8L115.1 437.8L115.3 437.8L115.4 437.8L115.6 437.8L115.7 437.8L115.9 437.8L116 437.8L116.2 437.8L116.3 437.8L116.5 437.8L116.7 437.8L116.8 437.8L117 437.8L117.1 437.8L117.3 437.8L117.4 437.8L117.6 437.7L117.7 437.7L117.9 437.7L118 437.7L118.8 437.7L119.6 437.6L120.3 437.5L121.1 437.3L121.4 437.3L121.6 437.2L121.7 437.2L121.9 437.1L122 437.1L122.2 437L122.3 437L122.5 436.9L122.7 436.9L122.8 436.8L123 436.7L123.1 436.7L123.3 436.6L123.4 436.5L123.6 436.4L123.7 436.3L123.9 436.2L124 436.1L124.2 435.9L124.3 435.8L124.5 435.6L124.7 435.5L124.8 435.3L125 435.1L125.1 434.8L125.3 434.6L125.4 434.3L125.6 434L125.7 433.6L125.9 433.2L126 432.7L126.2 432.2L126.3 431.5L126.5 430.8L126.7 430L126.8 429L127 427.8L127.1 426.5L127.3 424.8L127.4 422.9L127.6 420.5L127.7 417.6L127.9 414.1L128 409.9L128.2 404.8L128.3 398.7L128.5 391.9L128.7 384.7L128.8 378L129 373.1L129.1 371.3L129.3 373.1L129.4 378L129.6 384.7L129.7 391.9L129.9 398.7L130 404.8L130.2 409.9L130.3 414.1L130.5 417.6L130.7 420.5L130.8 422.9L131 424.8L131.1 426.5L131.3 427.8L131.4 429L131.6 430L131.7 430.8L131.9 431.5L132 432.2L132.2 432.7L132.3 433.2L132.5 433.6L132.7 434L132.8 434.3L133 434.6L133.1 434.8L133.3 435.1L133.4 435.3L133.6 435.5L133.7 435.6L133.9 435.8L134 435.9L134.2 436.1L134.3 436.2L134.5 436.3L134.7 436.4L134.8 436.5L135 436.6L135.1 436.7L135.3 436.7L135.4 436.8L135.6 436.9L135.7 436.9L135.9 437L136 437.1L136.2 437.1L136.3 437.1L136.5 437.2L136.7 437.2L137.3 437.4L138 437.5L138.8 437.6L139.6 437.7L140.3 437.8L141.1 437.8L141.9 437.9L142.7 437.9L143.4 437.9L144.2 438L145 438L145.7 438L146.5 438L147.3 438L148 438L148.8 438L149.6 438L150.3 438L151.1 438L151.9 438L152.6 438L153.4 438L154.2 438L155 438L155.7 437.9L156.1 437.9L156.3 437.9L156.4 437.9L156.5 437.9L156.6 437.9L156.7 437.9L156.9 437.8L157 437.8L157.2 437.8L157.3 437.8L157.3 437.8L157.5 437.8L157.6 437.8L157.8 437.8L158 437.7L158 437.7L158.1 437.7L158.3 437.7L158.4 437.7L158.6 437.6L158.7 437.6L158.8 437.6L158.9 437.6L159 437.5L159.2 437.5L159.3 437.4L159.5 437.4L159.6 437.4L159.6 437.3L159.8 437.3L160 437.2L160.1 437.1L160.3 437L160.3 437L160.4 437L160.6 436.8L160.7 436.7L160.9 436.6L161 436.4L161.1 436.3L161.2 436.2L161.3 436L161.5 435.8L161.6 435.5L161.8 435.1L161.9 434.9L162 434.7L162.1 434.2L162.3 433.7L162.4 433L162.6 432.1L162.6 431.7L162.7 431.1L162.9 430L163 428.6L163.2 427.2L163.3 425.7L163.4 424.9L163.5 424.3L163.6 423.3L163.8 423L164 423.3L164.1 424.3L164.2 424.9L164.3 425.7L164.4 427.2L164.6 428.6L164.7 430L164.9 431.1L165 431.7L165 432.1L165.2 433L165.3 433.7L165.5 434.2L165.6 434.7L165.7 434.9L165.8 435.1L166 435.5L166.1 435.8L166.3 436L166.4 436.2L166.5 436.3L166.6 436.4L166.7 436.6L166.9 436.7L167 436.8L167.2 436.9L167.3 437L167.3 437L167.5 437.1L167.6 437.2L167.8 437.3L168 437.3L168 437.4L168.1 437.4L168.3 437.4L168.4 437.5L168.6 437.5L168.7 437.6L168.8 437.6L168.9 437.6L169 437.6L169.2 437.6L169.3 437.7L169.5 437.7L169.6 437.7L169.6 437.7L169.8 437.7L170 437.8L170.1 437.8L170.3 437.8L170.3 437.8L170.4 437.8L170.6 437.8L170.7 437.8L170.9 437.8L171 437.9L171.1 437.9L171.2 437.9L171.3 437.9L171.9 437.9L172.6 437.9L172.8 437.9L173 437.9L173.1 437.9L173.3 437.9L173.4 437.9L173.6 437.9L173.7 437.9L173.9 437.9L174 437.9L174.2 437.9L174.3 437.9L174.5 437.9L174.6 437.9L174.8 437.9L175 437.9L175.1 437.9L175.3 437.9L175.4 437.9L175.6 437.8L175.7 437.8L175.9 437.8L176 437.8L176.2 437.8L176.3 437.7L176.5 437.7L176.6 437.7L176.8 437.7L177 437.6L177.1 437.6L177.3 437.5L177.4 437.5L177.6 437.4L177.7 437.3L177.9 437.3L178 437.2L178.2 437L178.3 436.9L178.5 436.7L178.6 436.5L178.8 436.3L179 436L179.1 435.7L179.3 435.3L179.4 434.8L179.6 434.3L179.7 433.7L179.9 433.1L180 432.5L180.2 432.1L180.3 432L180.5 432.1L180.6 432.5L180.8 433.1L181 433.7L181.1 434.3L181.3 434.8L181.4 435.3L181.6 435.7L181.7 436L181.9 436.3L182 436.6L182.2 436.8L182.3 436.9L182.5 437.1L182.6 437.2L182.8 437.3L183 437.4L183.1 437.4L183.3 437.5L183.4 437.6L183.6 437.6L183.7 437.7L183.9 437.7L184 437.7L184.2 437.8L184.3 437.8L184.5 437.8L184.6 437.8L184.8 437.9L185 437.9L185.1 437.9L185.3 437.9L185.4 437.9L185.6 437.9L185.7 437.9L185.9 437.9L186 438L186.2 438L186.3 438L186.5 438L186.6 438L186.8 438L187 438L187.1 438L187.3 438L187.4 438L187.6 438L187.7 438L187.9 438L188 438L188.3 438L188.5 438L188.6 438L188.8 438L189 438L189.1 438L189.3 438L189.4 438L189.6 438L189.7 438L189.9 438L190 438L190.2 438L190.3 438L190.5 437.9L190.6 437.9L190.8 437.9L191 437.9L191.1 437.9L191.3 437.9L191.4 437.9L191.6 437.8L191.7 437.8L191.9 437.8L192 437.8L192.2 437.8L192.3 437.7L192.5 437.7L192.6 437.6L192.8 437.6L193 437.5L193.1 437.5L193.3 437.4L193.4 437.3L193.6 437.2L193.7 437.1L193.9 437L194 436.9L194.2 436.7L194.3 436.5L194.5 436.2L194.6 435.9L194.8 435.6L195 435.1L195.1 434.6L195.3 434L195.4 433.4L195.6 432.7L195.7 432.1L195.9 431.7L196 431.6L196.2 431.7L196.3 432.1L196.5 432.7L196.6 433.4L196.8 434L197 434.6L197.1 435.1L197.3 435.6L197.4 435.9L197.6 436.2L197.7 436.5L197.9 436.7L198 436.9L198.2 437L198.3 437.2L198.5 437.3L198.6 437.4L198.8 437.4L199 437.5L199.1 437.6L199.3 437.6L199.4 437.7L199.6 437.7L199.7 437.8L199.9 437.8L200 437.8L200.2 437.8L200.3 437.9L200.5 437.9L200.6 437.9L200.8 437.9L201 438L201.1 438L201.3 438L201.4 438L201.6 438L201.7 438L201.9 438L202 438L202.2 438L202.3 438.1L202.5 438.1L202.6 438.1L202.8 438.1L203 438.1L203.1 438.1L203.3 438.1L203.4 438.1L203.6 438.1L204.2 438.1L205 438.1L205.7 438.2L206.5 438.2L207.3 438.2L208 438.2L208.8 438.2L209.6 438.2L210.3 438.2L211.1 438.2L211.9 438.2L212.6 438.2L213.4 438.2L214.2 438.2L215 438.2L215.7 438.2L216.5 438.2L217.3 438.2L218 438.2L218.8 438.2L219.6 438.2L220.3 438.2L221.1 438.2L221.9 438.2L222.6 438.2L223.4 438.2L224.2 438.2L225 438.2L225.7 438.2L226.5 438.2L227.3 438.2L228 438.2L228.8 438.2L229.6 438.2L230.3 438.2L231.1 438.2L231.9 438.2L232.6 438.2L233.4 438.2L234.2 438.2L235 438.2L235.7 438.2L236.5 438.2L237.3 438.2L238 438.2L238.8 438.2" fill="none" stroke="#1a1a1a" stroke-width="1.1"/>
<path d="M46.5 370L46.7 373.2L46.8 372.3L47 372.6L47.2 369.2L47.3 373.1L47.5 370L47.7 367.2L47.9 370.3L48 375.5L48.2 370.9L48.4 368.5L48.5 372L48.7 368.3L48.9 369.7L49 370.2L49.2 372L49.4 372.7L49.5 372L49.7 371.2L49.9 370L50.1 370.3L50.2 372.2L50.4 371.3L50.6 370.4L50.7 375.8L50.9 373.5L51.1 373.6L51.2 372L51.4 372.2L51.6 372.2L51.7 373.9L51.9 369.8L52.1 370.8L52.3 375.9L52.4 371.6L52.6 374.6L52.8 367.1L52.9 372.8L53.1 372.7L53.3 371.4L53.4 372.2L53.6 371.8L53.8 367.6L53.9 371.1L54.1 369.5L54.3 368.7L54.5 374.3L54.6 367.3L54.8 369.9L55 369.2L55.1 374.1L55.3 369.6L55.5 370.7L55.6 373.3L55.8 365.8L56 370.4L56.1 372.5L56.3 371.4L56.5 369.5L56.7 368.9L56.8 370.4L57 368.7L57.2 368.1L57.3 375.3L57.5 373.3L57.7 374.5L57.8 371.8L58 368.2L58.2 370.3L58.3 374.8L58.5 372.9L58.7 369.4L58.9 373.5L59 372.4L59.2 371.3L59.4 377L59.5 370.1L59.7 371.3L59.9 370.7L60 374.8L60.2 374.3L60.4 373.8L60.5 371.6L60.7 372.1L60.9 371.9L61.1 367.5L61.2 368.8L61.4 374.2L61.6 374.1L61.7 367.8L61.9 373.2L62.1 368.7L62.2 368.1L62.4 373.8L62.6 373.1L62.7 372.2L62.9 374.7L63.1 375L63.3 373.5L63.4 370.2L63.6 373.7L63.8 373L63.9 373.7L64.1 376.2L64.3 368.6L64.4 378.8L64.6 374.3L64.8 371.1L64.9 376.3L65.1 371L65.3 369.3L65.5 374.9L65.6 372.1L65.8 375.6L66 371.3L66.1 372.5L66.3 372.1L66.5 369.1L66.6 371.5L66.8 369.2L67 371.1L67.1 376L67.3 372.1L67.5 371.5L67.7 376.7L67.8 369.3L68 372.7L68.2 371.9L68.3 375.3L68.5 372.7L68.7 372.1L68.8 373.8L69 372.7L69.2 378.6L69.3 369.3L69.5 375.9L69.7 378.8L69.9 375.5L70 375.2L70.2 371.6L70.4 375.5L70.5 372.3L70.7 375.6L70.9 367.2L71 371.6L71.2 367.9L71.4 375.8L71.5 371.4L71.7 375.7L71.9 371.6L72.1 371.4L72.2 377.4L72.4 376.2L72.6 376.3L72.7 377.2L72.9 375.2L73.1 375.8L73.2 377.1L73.4 373L73.6 371.8L73.7 376.8L73.9 374.8L74.1 373.3L74.3 374L74.4 375.2L74.6 371.2L74.8 371.1L74.9 371.6L75.1 374L75.3 368.2L75.4 368.8L75.6 374.5L75.8 373.8L75.9 370.3L76.1 375.6L76.3 372.5L76.5 373.4L76.6 375.4L76.8 374.2L77 377.7L77.1 375L77.3 378.9L77.5 367.5L77.6 369.6L77.8 370.4L78 372.8L78.1 371L78.3 370.3L78.5 371L78.7 371.3L78.8 376.1L79 372.6L79.2 375.2L79.3 376.9L79.5 376.8L79.7 372.6L79.8 371L80 377.4L80.2 369.2L80.3 369.9L80.5 374.9L80.7 375.1L80.9 374.1L81 371.3L81.2 374.9L81.4 376.9L81.5 373L81.7 379.4L81.9 373.6L82 370.9L82.2 373.2L82.4 371.9L82.5 372.7L82.7 372.1L82.9 373.6L83.1 376.2L83.2 374.6L83.4 374.3L83.6 370.7L83.7 369.8L83.9 373L84.1 376.1L84.2 376.1L84.4 374.6L84.6 370.5L84.7 373.3L84.9 374.3L85.1 376.2L85.3 371.9L85.4 373.4L85.6 374.4L85.8 374L85.9 369.8L86.1 374.7L86.3 369.8L86.4 371L86.6 374.1L86.8 372L86.9 374.6L87.1 376.5L87.3 375L87.5 376.8L87.6 373L87.8 374.3L88 372.9L88.1 372.2L88.3 382.7L88.5 373.6L88.6 379.2L88.8 374L89 376.8L89.1 374.2L89.3 370.8L89.5 379L89.7 374L89.8 374.7L90 379.5L90.2 372.8L90.3 374.4L90.5 375.9L90.7 376.5L90.8 366L91 375.6L91.2 379.4L91.3 377.1L91.5 375.6L91.7 375.6L91.9 374.8L92 377.4L92.2 373.2L92.4 375.9L92.5 378.3L92.7 376.8L92.9 375.7L93 372.4L93.2 373.4L93.4 375.6L93.5 374.7L93.7 374.2L93.9 369.3L94.1 376.4L94.2 373.5L94.4 372.8L94.6 377.3L94.7 374.3L94.9 374.4L95.1 376.1L95.2 373.3L95.4 372.1L95.6 371.8L95.7 375.3L95.9 374.3L96.1 368.6L96.3 377.8L96.4 374.3L96.6 372.5L96.8 374.5L96.9 373.1L97.1 374.4L97.3 372.9L97.4 371.5L97.6 375.5L97.8 374.4L97.9 375.1L98.1 376L98.3 375L98.5 378L98.6 373L98.8 370.4L99 370.4L99.1 371.6L99.3 377.6L99.5 371L99.6 376.9L99.8 375.1L100 370.1L100.1 377.9L100.3 372.8L100.5 374.3L100.7 375.4L100.8 377.4L101 373.9L101.2 376.3L101.3 372.3L101.5 371.8L101.7 378.7L101.8 376.4L102 375.9L102.2 378.2L102.3 378L102.5 374.8L102.7 375.6L102.9 379.5L103 376.5L103.2 373.7L103.4 378.3L103.5 377.5L103.7 370.9L103.9 371.6L104 379.4L104.2 378.7L104.4 374.1L104.5 378.3L104.7 375.8L104.9 376.3L105.1 373.6L105.2 381.8L105.4 381L105.6 378.4L105.7 372.4L105.9 375.5L106.1 379.6L106.2 373.8L106.4 373.2L106.6 375.7L106.7 376L106.9 373.9L107.1 371.9L107.3 374.7L107.4 373.6L107.6 375.2L107.8 376.1L107.9 377.5L108.1 374.4L108.3 375.8L108.4 375.7L108.6 372.5L108.8 373.7L108.9 372.7L109.1 379.1L109.3 373.4L109.5 376.5L109.6 377L109.8 377.1L110 371.6L110.1 372.6L110.3 376.7L110.5 377.8L110.6 374.7L110.8 376L111 370.3L111.1 378.6L111.3 379.5L111.5 375.3L111.7 374.6L111.8 374.2L112 372.6L112.2 369L112.3 375.4L112.5 375.9L112.7 379.1L112.8 373.8L113 372.1L113.2 375L113.3 371.2L113.5 374.2L113.7 370.2L113.9 373.3L114 377L114.2 375.8L114.4 378.1L114.5 378.6L114.7 373.3L114.9 371.6L115 368.7L115.2 374L115.4 374.4L115.5 376.6L115.7 371L115.9 372.5L116.1 375.1L116.2 371.6L116.4 371.9L116.6 378.3L116.7 371.3L116.9 372.8L117.1 374.1L117.2 374.1L117.4 368.3L117.6 368.8L117.7 367.9L117.9 375.7L118.1 374.3L118.3 370L118.4 375.6L118.6 374.1L118.8 376.9L118.9 367.1L119.1 369L119.3 370.5L119.4 371L119.6 372.6L119.8 372.4L119.9 369.5L120.1 372.9L120.3 367.6L120.5 372L120.6 372.8L120.8 366.8L121 370.5L121.1 368.4L121.3 370.7L121.5 375.4L121.6 367.7L121.8 372.5L122 365.8L122.1 372.5L122.3 373L122.5 366.9L122.7 366.3L122.8 366.8L123 369.9L123.2 363.9L123.3 369.7L123.5 366.6L123.7 367L123.8 365.4L124 361.6L124.2 365L124.3 361.2L124.5 360.2L124.7 365.9L124.9 363.8L125 360.9L125.2 360.6L125.4 357.3L125.5 362.2L125.7 354.1L125.9 352.9L126 354.1L126.2 356L126.4 350.8L126.5 350.6L126.7 345.9L126.9 345.8L127.1 341.5L127.2 342.2L127.4 334.7L127.6 341.8L127.7 335.1L127.9 327.6L128.1 328.9L128.2 318.5L128.4 318.6L128.6 309.3L128.7 305.4L128.9 296.5L129.1 286.2L129.3 276.7L129.4 265.6L129.6 244.8L129.8 233.9L129.9 216.7L130.1 202L130.3 202L130.4 202L130.6 202L130.8 202L130.9 202L131.1 202L131.3 202L131.5 202L131.6 202L131.8 202L132 202L132.1 202L132.3 202L132.5 202L132.6 202L132.8 202L133 202L133.1 202L133.3 202L133.5 202L133.7 202L133.8 202L134 202L134.2 214.8L134.3 242.7L134.5 252.5L134.7 264.9L134.8 278.5L135 287.9L135.2 288.2L135.3 304.5L135.5 313L135.7 315.5L135.9 322L136 326.5L136.2 329.8L136.4 331.1L136.5 335.7L136.7 342.4L136.9 342.1L137 342.8L137.2 347.4L137.4 345.1L137.5 347.8L137.7 354.1L137.9 352.1L138.1 349.1L138.2 351.4L138.4 356.9L138.6 355.4L138.7 360.6L138.9 363.6L139.1 359.1L139.2 360.7L139.4 360.8L139.6 362.9L139.7 362.6L139.9 365.5L140.1 363.4L140.3 363L140.4 365.9L140.6 364.1L140.8 371.4L140.9 369.2L141.1 363.7L141.3 363.2L141.4 367.6L141.6 368.9L141.8 372.3L141.9 368.3L142.1 367.5L142.3 373.8L142.5 368.7L142.6 369.1L142.8 369.5L143 373.9L143.1 369.7L143.3 375.3L143.5 367.6L143.6 371.4L143.8 375L144 368.5L144.1 369.2L144.3 374.2L144.5 366.8L144.6 375.5L144.8 372.1L145 369.9L145.2 379.3L145.3 370.7L145.5 373.7L145.7 373.7L145.8 376.6L146 373L146.2 376.9L146.3 376.6L146.5 375.4L146.7 377.5L146.8 370.2L147 378L147.2 376.6L147.4 375.5L147.5 374.7L147.7 372.7L147.9 372.7L148 375.8L148.2 376.1L148.4 375.1L148.5 373L148.7 373.4L148.9 376.7L149 380.9L149.2 369.8L149.4 373L149.6 374.9L149.7 374.8L149.9 377.1L150.1 378.5L150.2 376.7L150.4 376.5L150.6 377.6L150.7 379.9L150.9 376.9L151.1 374.6L151.2 377.5L151.4 376.2L151.6 381.8L151.8 376.9L151.9 376.7L152.1 379.7L152.3 381L152.4 375.4L152.6 378.7L152.8 375.3L152.9 377.7L153.1 375L153.3 377.6L153.4 380.7L153.6 377L153.8 377.6L154 375.1L154.1 378L154.3 377.9L154.5 374.6L154.6 373.8L154.8 374.9L155 374.2L155.1 375.8L155.3 375L155.5 374.7L155.6 376L155.8 376.9L156 376.7L156.2 370.8L156.3 377.1L156.5 377.8L156.7 378.2L156.8 377.3L157 376.6L157.2 380.3L157.3 382.5L157.5 376.5L157.7 381.6L157.8 376.6L158 376.9L158.2 374.3L158.4 372.9L158.5 376.4L158.7 378.8L158.9 380.5L159 379.4L159.2 377.2L159.4 382.8L159.5 377.1L159.7 377.3L159.9 375.6L160 378.2L160.2 377L160.4 379.2L160.6 378.4L160.7 381.8L160.9 376.8L161.1 372.9L161.2 376.5L161.4 375.9L161.6 379.4L161.7 372.9L161.9 378.6L162.1 374.3L162.2 376L162.4 378.6L162.6 373.1L162.8 375.5L162.9 374.8L163.1 373.8L163.3 374.7L163.4 375.4L163.6 372.8L163.8 374.9L163.9 373.4L164.1 375.3L164.3 377.5L164.4 375.5L164.6 375.2L164.8 374.2L165 371.4L165.1 379.4L165.3 374.9L165.5 381.4L165.6 378.6L165.8 377.5L166 382.4L166.1 381.5L166.3 376.4L166.5 376.8L166.6 377.4L166.8 379.4L167 371.7L167.2 377.9L167.3 379.9L167.5 373.2L167.7 376.1L167.8 378.8L168 374.7L168.2 377.5L168.3 376.3L168.5 377.4L168.7 380.8L168.8 375.6L169 377.8L169.2 380.9L169.4 380.3L169.5 375.8L169.7 379.3L169.9 378.2L170 376.7L170.2 378.1L170.4 382.5L170.5 376.8L170.7 376L170.9 376.2L171 374.3L171.2 377.6L171.4 376.5L171.6 374.4L171.7 379.4L171.9 374L172.1 374.1L172.2 376.6L172.4 373.8L172.6 376.5L172.7 381.1L172.9 375.7L173.1 377.9L173.2 377.7L173.4 378.4L173.6 375.2L173.8 377.4L173.9 380.7L174.1 377.6L174.3 376.9L174.4 380.8L174.6 380L174.8 379.9L174.9 380.5L175.1 378L175.3 376.2L175.4 373.9L175.6 375.8L175.8 376.3L176 376L176.1 375.5L176.3 380L176.5 377.2L176.6 378.2L176.8 379.4L177 380.3L177.1 380.4L177.3 379.8L177.5 382.4L177.6 377.7L177.8 379.2L178 378.8L178.2 378.2L178.3 377.2L178.5 380.7L178.7 379.4L178.8 383.4L179 385.1L179.2 384.4L179.3 375.1L179.5 384.1L179.7 378L179.8 375.3L180 380.5L180.2 374.9L180.4 374.4L180.5 376.8L180.7 373L180.9 377.6L181 381.2L181.2 377.9L181.4 380.5L181.5 382.8L181.7 382.7L181.9 373.2L182 380.8L182.2 379.4L182.4 381.1L182.6 379L182.7 380L182.9 380.5L183.1 382.6L183.2 383.1L183.4 381.4L183.6 378.6L183.7 373.9L183.9 376.6L184.1 374.6L184.2 378.1L184.4 379.7L184.6 383L184.8 379.4L184.9 385.2L185.1 380.3L185.3 375.1L185.4 378.6L185.6 376.5L185.8 380.5L185.9 383.2L186.1 380.8L186.3 380.6L186.4 376.3L186.6 374.3L186.8 381.5L187 380.5L187.1 379.9L187.3 380.5L187.5 382.9L187.6 379.3L187.8 378.6L188 378.6L188.1 382.8L188.3 379.9L188.5 384.2L188.6 377.2L188.8 382.3L189 380.4L189.2 380.8L189.3 381.2L189.5 382.5L189.7 384.3L189.8 375.1L190 379L190.2 379L190.3 374.1L190.5 380L190.7 378.2L190.8 379.6L191 376.5L191.2 378.4L191.4 378.9L191.5 380.4L191.7 379L191.9 376.6L192 385.3L192.2 380.1L192.4 380.9L192.5 380.6L192.7 385L192.9 377.8L193 382L193.2 380.4L193.4 381.1L193.6 384.2L193.7 381L193.9 384.7L194.1 382.3L194.2 380.7L194.4 379.8L194.6 379.7L194.7 380.2L194.9 374.2L195.1 378.7L195.2 383.1L195.4 381.5L195.6 381.6L195.8 380.4L195.9 381.5L196.1 382.2L196.3 375.5L196.4 379.8L196.6 380.8L196.8 380.6L196.9 380.5L197.1 376.2L197.3 378.7L197.4 377L197.6 388.2L197.8 379.1L198 377.1L198.1 374.7L198.3 379.9L198.5 384.5L198.6 378.4L198.8 381.6L199 384.7L199.1 381.6L199.3 377.2L199.5 376.8L199.6 378.1L199.8 382.8L200 373.3L200.2 383.1L200.3 380.2L200.5 383.9L200.7 376.5L200.8 378.8L201 377.7L201.2 379.8L201.3 380.2L201.5 379.5L201.7 385L201.8 377.4L202 377.6L202.2 381L202.4 380L202.5 379.2L202.7 375.8L202.9 378.8L203 379.8L203.2 381.3L203.4 383.9L203.5 381.5L203.7 379.7L203.9 380.5L204 379.6L204.2 377.8L204.4 378.6L204.6 379L204.7 377.9L204.9 379.1L205.1 379.5L205.2 378.1L205.4 383.8L205.6 375.8L205.7 382.3L205.9 376.5L206.1 378.4L206.2 375.2L206.4 377.8L206.6 380L206.8 374.3L206.9 376.4L207.1 376.3L207.3 376.3L207.4 374L207.6 374.7L207.8 376.6L207.9 381.7L208.1 379L208.3 378L208.4 373.8L208.6 377.8L208.8 379.3L209 376L209.1 379.7L209.3 379.6L209.5 379.2L209.6 383.7L209.8 377.3L210 378.7L210.1 380.7L210.3 383L210.5 379.5L210.6 376.4L210.8 381.8L211 383L211.2 379.1L211.3 384.5L211.5 386.2L211.7 381.5L211.8 382.1L212 381.1L212.2 381.8L212.3 379.5L212.5 381L212.7 382L212.8 381.6L213 378.7L213.2 377.9L213.4 378L213.5 378.6L213.7 389.2L213.9 383.2L214 381.3L214.2 380L214.4 384.8L214.5 376.8L214.7 379.7L214.9 382.2L215 380.1L215.2 381.5L215.4 382.6L215.6 379.2L215.7 381.8L215.9 384.4L216.1 382.3L216.2 380.9L216.4 383.5L216.6 377.3L216.7 383.5L216.9 376L217.1 378.3L217.2 383.2L217.4 380.3L217.6 377.5L217.8 381.2L217.9 383.9L218.1 380.4L218.3 375.4L218.4 384.7L218.6 379.3L218.8 380.7L218.9 381.1L219.1 381.8L219.3 381.6L219.4 378L219.6 379.2L219.8 383.4L220 376.6L220.1 384.2L220.3 379L220.5 380.3L220.6 377.6L220.8 379.9L221 378L221.1 380.9L221.3 378.2L221.5 379.9L221.6 375.1L221.8 382.7L222 377.7L222.2 379.6L222.3 380.4L222.5 382.4L222.7 379.7L222.8 384.8L223 384.5L223.2 379L223.3 385L223.5 377.1L223.7 381.7L223.8 380.3L224 380.7L224.2 379.8L224.4 381.7L224.5 381.9L224.7 381.3L224.9 378.2L225 378L225.2 377.6L225.4 380L225.5 381.5L225.7 385.5L225.9 379.3L226 378.8L226.2 382.1L226.4 378.9L226.6 377.6L226.7 380.8L226.9 378.2L227.1 380.2L227.2 385.7L227.4 382.3L227.6 382.2L227.7 379.7L227.9 383.4L228.1 382.3L228.2 383.7L228.4 381.2L228.6 380.9L228.8 378.5L228.9 379L229.1 380.7L229.3 380.5L229.4 380.9L229.6 380.8L229.8 377L229.9 387.8L230.1 381.6L230.3 380.3L230.4 378.2L230.6 384.1L230.8 380.3L231 378.9L231.1 382.4L231.3 386.3L231.5 382.2L231.6 384.4L231.8 379.5L232 383.5L232.1 376.5L232.3 380.9L232.5 383.4L232.6 382.6L232.8 384.2L233 380.2L233.2 377.3L233.3 381.9L233.5 378.8L233.7 383.8L233.8 380.5L234 375.2L234.2 385.1L234.3 378.1L234.5 378.2L234.7 386.3L234.8 385.2L235 383.9L235.2 378.8L235.4 382.5L235.5 381.8L235.7 379.5L235.9 381.1L236 380.8L236.2 382.3L236.4 378.4L236.5 383.5L236.7 377L236.9 382.3L237 383.6L237.2 379.7L237.4 380.2L237.6 386.7L237.7 380.9L237.9 385.1L238.1 383.7L238.2 379.4L238.4 383.8L238.6 380.6L238.7 382.5" fill="none" stroke="#d81515" stroke-width="1.2"/>
<path d="M46.5 318.5L46.7 324.3L46.8 327.4L47 327.2L47.2 326.6L47.3 323.7L47.5 324.1L47.7 321.3L47.9 323.6L48 323.7L48.2 323.2L48.4 324.5L48.5 323.3L48.7 321.9L48.9 321.9L49 325.7L49.2 329.2L49.4 326.4L49.5 323.3L49.7 331.2L49.9 325.5L50.1 322.9L50.2 325.8L50.4 327.3L50.6 319.2L50.7 320.2L50.9 324.9L51.1 320.4L51.2 320.5L51.4 327.4L51.6 316.6L51.7 326.9L51.9 325L52.1 327.3L52.3 324L52.4 328L52.6 324.3L52.8 321.2L52.9 323.6L53.1 325L53.3 319.9L53.4 326.8L53.6 321.5L53.8 325.1L53.9 323.7L54.1 324.2L54.3 323.9L54.5 324.5L54.6 326.5L54.8 325.9L55 323.1L55.1 324.6L55.3 327.6L55.5 326.3L55.6 326.3L55.8 324.5L56 323.8L56.1 324.1L56.3 326.2L56.5 324.3L56.7 328.3L56.8 332.6L57 324.6L57.2 329.1L57.3 327.1L57.5 327.8L57.7 322.6L57.8 327.9L58 323.6L58.2 325.8L58.3 328L58.5 328.9L58.7 323.1L58.9 323.4L59 322.3L59.2 319.3L59.4 323.7L59.5 323.7L59.7 324.9L59.9 324.2L60 325.5L60.2 327.1L60.4 318.9L60.5 329.8L60.7 323.8L60.9 323.3L61.1 324.1L61.2 327.3L61.4 325.1L61.6 325.9L61.7 327.6L61.9 324.7L62.1 325.7L62.2 326.2L62.4 322.7L62.6 327.6L62.7 323.4L62.9 326.4L63.1 323.4L63.3 324.4L63.4 323.9L63.6 327.4L63.8 326.8L63.9 327.1L64.1 324.1L64.3 322.5L64.4 321.6L64.6 326.1L64.8 324.4L64.9 329.2L65.1 330.9L65.3 327.1L65.5 326.5L65.6 329L65.8 329.7L66 323.1L66.1 326.9L66.3 329.4L66.5 318L66.6 324.1L66.8 325.5L67 322.6L67.1 326.7L67.3 320L67.5 328.8L67.7 328.1L67.8 324.7L68 326.4L68.2 320L68.3 328.4L68.5 325.5L68.7 322.3L68.8 320.7L69 318.6L69.2 319.3L69.3 312.7L69.5 319L69.7 315.9L69.9 313.2L70 316.4L70.2 317L70.4 318.6L70.5 320.5L70.7 323.2L70.9 322.8L71 326.6L71.2 321.8L71.4 328L71.5 318L71.7 319.3L71.9 321.2L72.1 325L72.2 326.2L72.4 321.1L72.6 324.1L72.7 323.1L72.9 326.8L73.1 321.8L73.2 327.1L73.4 324.5L73.6 329.8L73.7 326.7L73.9 323.5L74.1 326.2L74.3 326.2L74.4 322.7L74.6 325.2L74.8 321.5L74.9 331.8L75.1 323.4L75.3 323.6L75.4 329.4L75.6 328.7L75.8 322.6L75.9 328.1L76.1 326.9L76.3 323.4L76.5 326L76.6 323.7L76.8 327.6L77 324.3L77.1 322L77.3 324.2L77.5 331.3L77.6 323.3L77.8 325L78 327.7L78.1 321.2L78.3 330.1L78.5 319.8L78.7 326.9L78.8 320.7L79 325.3L79.2 328.9L79.3 324.9L79.5 324.2L79.7 323.6L79.8 322.2L80 327.7L80.2 323.8L80.3 323.1L80.5 326L80.7 327.9L80.9 327.9L81 323.1L81.2 323L81.4 327.6L81.5 329L81.7 321.7L81.9 329.6L82 324.8L82.2 327.5L82.4 330.2L82.5 324.9L82.7 325.8L82.9 321.2L83.1 318.8L83.2 325.8L83.4 322.4L83.6 322.3L83.7 326.8L83.9 327.7L84.1 320.7L84.2 326.3L84.4 325.4L84.6 326.1L84.7 325.7L84.9 327L85.1 323.2L85.3 321.7L85.4 326.4L85.6 329.2L85.8 325.2L85.9 329.5L86.1 327.1L86.3 321.8L86.4 318.7L86.6 324.2L86.8 328.3L86.9 323.1L87.1 331.7L87.3 327.3L87.5 321L87.6 323.2L87.8 329.2L88 330L88.1 322.9L88.3 325.5L88.5 327L88.6 324.2L88.8 327L89 330.8L89.1 323L89.3 327.2L89.5 328.2L89.7 329.1L89.8 324.6L90 327.6L90.2 323.6L90.3 326.1L90.5 322.3L90.7 326.4L90.8 327.2L91 330.9L91.2 328.5L91.3 323.3L91.5 316.7L91.7 328.9L91.9 328.3L92 324.4L92.2 324L92.4 327.3L92.5 325.1L92.7 329.9L92.9 326.2L93 322.8L93.2 320.7L93.4 325.8L93.5 326.1L93.7 324.1L93.9 322.2L94.1 324L94.2 327.5L94.4 324.3L94.6 322.6L94.7 327.4L94.9 329.1L95.1 323.9L95.2 324.3L95.4 322.6L95.6 325.1L95.7 327.2L95.9 326.6L96.1 328.2L96.3 328L96.4 326.9L96.6 326.7L96.8 322.2L96.9 328.8L97.1 325.5L97.3 327L97.4 321.1L97.6 324.6L97.8 326.4L97.9 323L98.1 325.1L98.3 326.6L98.5 320.9L98.6 323.3L98.8 320.4L99 322L99.1 323.1L99.3 324.9L99.5 328.3L99.6 323.2L99.8 325L100 323.3L100.1 325.3L100.3 327.2L100.5 328.1L100.7 323.2L100.8 321.5L101 326L101.2 323.9L101.3 321.3L101.5 327.5L101.7 326.1L101.8 328.3L102 321.8L102.2 324.4L102.3 326.4L102.5 329.8L102.7 325.6L102.9 322.3L103 325.9L103.2 326.3L103.4 323.2L103.5 328.5L103.7 324.9L103.9 323.3L104 327.2L104.2 327.3L104.4 324.3L104.5 325.2L104.7 325.6L104.9 324.3L105.1 324.3L105.2 327.5L105.4 326.8L105.6 323.6L105.7 321.7L105.9 321L106.1 327.2L106.2 321.7L106.4 322.6L106.6 324.8L106.7 323.3L106.9 322.3L107.1 319.6L107.3 327.6L107.4 322.8L107.6 324.9L107.8 325L107.9 321.2L108.1 322.1L108.3 327.2L108.4 325.1L108.6 323.6L108.8 328.2L108.9 321.7L109.1 324.3L109.3 323.5L109.5 322.9L109.6 318.7L109.8 323.5L110 324.5L110.1 318.4L110.3 324.4L110.5 324.1L110.6 326.1L110.8 318.6L111 320.1L111.1 318.5L111.3 318.1L111.5 317.5L111.7 317.5L111.8 315.5L112 309.8L112.2 308.3L112.3 301.7L112.5 306.4L112.7 304.1L112.8 304.9L113 298.4L113.2 306.8L113.3 302.9L113.5 303.2L113.7 310L113.9 309.8L114 320L114.2 317L114.4 322.2L114.5 318.4L114.7 320L114.9 323L115 318.8L115.2 321L115.4 323.8L115.5 324.1L115.7 327L115.9 323.5L116.1 317.1L116.2 325.2L116.4 322L116.6 324.8L116.7 321L116.9 322.1L117.1 324L117.2 328.3L117.4 324.7L117.6 319.9L117.7 323.9L117.9 321.4L118.1 324.5L118.3 328.4L118.4 321.9L118.6 322.1L118.8 324.6L118.9 324L119.1 322L119.3 324.4L119.4 321.7L119.6 323.2L119.8 329.1L119.9 322.8L120.1 324L120.3 324.5L120.5 320.9L120.6 323.3L120.8 320.3L121 318.6L121.1 321.1L121.3 325.7L121.5 323.3L121.6 318.5L121.8 321.6L122 322.9L122.1 320.7L122.3 318.8L122.5 319.3L122.7 318L122.8 321.9L123 320L123.2 319.7L123.3 318.7L123.5 324.3L123.7 318.7L123.8 321.4L124 313.4L124.2 312.5L124.3 311.7L124.5 313.7L124.7 316.9L124.9 312.3L125 315L125.2 312.1L125.4 315.8L125.5 314.2L125.7 310.5L125.9 306.1L126 310.3L126.2 303L126.4 300.6L126.5 310.9L126.7 306.3L126.9 307.6L127.1 304L127.2 303.6L127.4 300.7L127.6 296.1L127.7 294.3L127.9 294.1L128.1 292.5L128.2 289.6L128.4 286.7L128.6 282.3L128.7 280.3L128.9 275L129.1 275.6L129.3 264.6L129.4 256.1L129.6 254L129.8 250.9L129.9 234.4L130.1 229L130.3 224.6L130.4 202.8L130.6 202L130.8 202L130.9 202L131.1 202L131.3 202L131.5 202L131.6 202L131.8 202L132 202L132.1 202L132.3 202L132.5 202L132.6 202L132.8 202L133 202L133.1 202L133.3 202L133.5 202L133.7 202L133.8 202L134 202L134.2 202L134.3 202L134.5 202L134.7 202L134.8 202L135 202L135.2 202L135.3 202L135.5 219.8L135.7 227.2L135.9 239.1L136 251.3L136.2 256.2L136.4 264L136.5 269.8L136.7 273.1L136.9 274.8L137 282.7L137.2 285L137.4 292.6L137.5 291.1L137.7 290.7L137.9 294L138.1 297.1L138.2 301.9L138.4 304.9L138.6 304L138.7 309L138.9 310.1L139.1 305.2L139.2 311.7L139.4 305.1L139.6 315.2L139.7 310.9L139.9 316.3L140.1 313.3L140.3 317.5L140.4 315.2L140.6 316.4L140.8 317.8L140.9 315.7L141.1 313.5L141.3 319.9L141.4 316.3L141.6 319L141.8 319.8L141.9 313.9L142.1 326.6L142.3 322.8L142.5 326.3L142.6 322.5L142.8 322.6L143 311.5L143.1 321.5L143.3 317.7L143.5 319.4L143.6 324.6L143.8 322.2L144 319.1L144.1 323.6L144.3 323.7L144.5 323.1L144.6 328.9L144.8 327.2L145 324.1L145.2 323.7L145.3 328L145.5 326.5L145.7 326.1L145.8 326.3L146 324.1L146.2 325.9L146.3 325.9L146.5 330.5L146.7 329.6L146.8 325.9L147 331.4L147.2 326.3L147.4 329L147.5 329.5L147.7 325.5L147.9 329.4L148 330L148.2 329.6L148.4 327.6L148.5 320.1L148.7 333.9L148.9 328.1L149 328.8L149.2 325.5L149.4 329.4L149.6 335.4L149.7 324.7L149.9 331.6L150.1 328.8L150.2 332.6L150.4 331.9L150.6 330.3L150.7 326.5L150.9 326.6L151.1 330.7L151.2 327.7L151.4 330.2L151.6 328.9L151.8 328.9L151.9 327.6L152.1 331.2L152.3 329.8L152.4 328.9L152.6 329.3L152.8 331.9L152.9 324.8L153.1 331L153.3 327.6L153.4 329.2L153.6 326.4L153.8 336.1L154 324.2L154.1 330.6L154.3 333.5L154.5 329.7L154.6 323.7L154.8 328.6L155 333.6L155.1 331.4L155.3 326.3L155.5 334.1L155.6 330.6L155.8 331L156 324L156.2 331L156.3 326.4L156.5 332.1L156.7 332.4L156.8 327.3L157 328.4L157.2 335L157.3 328.3L157.5 328.3L157.7 331.8L157.8 329.5L158 329.3L158.2 331.4L158.4 331.7L158.5 331.9L158.7 330.7L158.9 333.7L159 330L159.2 334.1L159.4 329.6L159.5 330L159.7 332.6L159.9 327.2L160 324.1L160.2 325.8L160.4 333.3L160.6 325.7L160.7 328.6L160.9 329.3L161.1 330.7L161.2 328.9L161.4 324.8L161.6 327L161.7 329.6L161.9 330.1L162.1 329.2L162.2 326.1L162.4 322.2L162.6 330.2L162.8 326.9L162.9 327.6L163.1 328.2L163.3 324.5L163.4 323.5L163.6 328.4L163.8 326.5L163.9 319.3L164.1 320.6L164.3 318.5L164.4 319.6L164.6 316.8L164.8 311.3L165 310.1L165.1 306.8L165.3 297.4L165.5 287.2L165.6 283.5L165.8 267.1L166 256.4L166.1 248.3L166.3 233.3L166.5 222.1L166.6 211.5L166.8 207L167 213.2L167.2 219.1L167.3 222L167.5 236.4L167.7 248.2L167.8 260.8L168 268.9L168.2 286.8L168.3 289L168.5 301.7L168.7 303.3L168.8 306.3L169 317.7L169.2 315.5L169.4 319.7L169.5 321.5L169.7 322L169.9 326.2L170 326.8L170.2 323L170.4 323.1L170.5 327.7L170.7 330.7L170.9 320.5L171 324.3L171.2 326.7L171.4 330.9L171.6 329.9L171.7 327.8L171.9 331.4L172.1 324.4L172.2 328.7L172.4 328.2L172.6 332.3L172.7 332.1L172.9 331.9L173.1 329.1L173.2 330.7L173.4 330.9L173.6 329.3L173.8 329.6L173.9 326.1L174.1 330.9L174.3 333.3L174.4 330.5L174.6 326.4L174.8 332.2L174.9 330.5L175.1 331.7L175.3 329.6L175.4 330L175.6 333.1L175.8 331.5L176 328.2L176.1 327.8L176.3 328.3L176.5 328.5L176.6 331.8L176.8 331.9L177 328.3L177.1 334.2L177.3 331.1L177.5 336.1L177.6 331.9L177.8 332.8L178 334.2L178.2 329.1L178.3 332.8L178.5 331.7L178.7 331.3L178.8 332.6L179 326.5L179.2 331.8L179.3 329.7L179.5 333.8L179.7 331.3L179.8 330.7L180 330.5L180.2 331L180.4 328.7L180.5 324.3L180.7 328.6L180.9 327.9L181 327.8L181.2 318.4L181.4 319.5L181.5 320.5L181.7 317.7L181.9 318.6L182 313.4L182.2 308.2L182.4 303.7L182.6 301.4L182.7 296.1L182.9 287.8L183.1 284.7L183.2 289.2L183.4 282.8L183.6 281.2L183.7 290L183.9 292L184.1 301.8L184.2 300.5L184.4 310.8L184.6 315.5L184.8 316.7L184.9 312.4L185.1 323.4L185.3 327.3L185.4 324.1L185.6 326L185.8 323L185.9 331.9L186.1 333.4L186.3 330.2L186.4 328.6L186.6 329L186.8 327.2L187 334.6L187.1 332.9L187.3 331.1L187.5 328.5L187.6 329.7L187.8 332.3L188 334L188.1 328.8L188.3 328.7L188.5 323.9L188.6 332L188.8 327L189 335L189.2 333.2L189.3 333.6L189.5 333L189.7 334.2L189.8 333.3L190 332L190.2 333.1L190.3 330.1L190.5 332.2L190.7 332L190.8 327.9L191 331.1L191.2 331.6L191.4 332.1L191.5 331.9L191.7 330.5L191.9 334.3L192 328.9L192.2 327.7L192.4 328.9L192.5 333.5L192.7 336.5L192.9 333.3L193 331.6L193.2 329.8L193.4 332.6L193.6 332.9L193.7 327.8L193.9 333.9L194.1 329L194.2 329.5L194.4 335.7L194.6 331.2L194.7 333.5L194.9 334.5L195.1 337L195.2 336.2L195.4 330.6L195.6 332.8L195.8 330.8L195.9 334.5L196.1 332.3L196.3 332.1L196.4 335.5L196.6 335.7L196.8 329.7L196.9 330.3L197.1 333.1L197.3 330.4L197.4 327.9L197.6 324.1L197.8 330.9L198 325.8L198.1 320.4L198.3 324.5L198.5 318.6L198.6 327.5L198.8 313.3L199 314.1L199.1 315.6L199.3 304.4L199.5 299.9L199.6 296.2L199.8 293.8L200 296L200.2 298.4L200.3 299.4L200.5 301.1L200.7 303.4L200.8 309.7L201 312L201.2 313.2L201.3 317.9L201.5 315.1L201.7 317.7L201.8 328.8L202 328.6L202.2 331.8L202.4 332.2L202.5 328.1L202.7 332.9L202.9 333.4L203 331.6L203.2 328.8L203.4 332.3L203.5 332.4L203.7 329L203.9 330.4L204 330.5L204.2 329.3L204.4 334.8L204.6 331.5L204.7 333.9L204.9 329.3L205.1 330L205.2 335.3L205.4 328.6L205.6 335.7L205.7 329.2L205.9 331.9L206.1 335L206.2 335.7L206.4 333.5L206.6 332.7L206.8 334.7L206.9 331.1L207.1 336.6L207.3 332.8L207.4 332.8L207.6 338L207.8 331.9L207.9 336.4L208.1 339.8L208.3 334.6L208.4 333.5L208.6 330.4L208.8 334.3L209 328.8L209.1 328.9L209.3 329.9L209.5 329.3L209.6 332L209.8 334.6L210 331.2L210.1 330.3L210.3 332.4L210.5 333.7L210.6 337.5L210.8 331.2L211 332.1L211.2 336.7L211.3 332.8L211.5 331.1L211.7 333.4L211.8 330.9L212 331L212.2 337.3L212.3 334L212.5 331.8L212.7 330.6L212.8 329.2L213 338.6L213.2 333.4L213.4 331.2L213.5 329.8L213.7 328.5L213.9 335.8L214 334.3L214.2 336.2L214.4 330.9L214.5 337L214.7 329.9L214.9 330.6L215 331.9L215.2 339.4L215.4 335.2L215.6 331.2L215.7 337.3L215.9 334L216.1 333.6L216.2 330.8L216.4 332.5L216.6 332.5L216.7 334.6L216.9 333.3L217.1 333.7L217.2 331.3L217.4 333.8L217.6 330.4L217.8 338.1L217.9 330L218.1 333.8L218.3 330.2L218.4 333.1L218.6 331L218.8 329.2L218.9 334.9L219.1 333.2L219.3 333.9L219.4 332.8L219.6 338L219.8 333.9L220 334.1L220.1 335.6L220.3 334L220.5 337.8L220.6 329.5L220.8 332.2L221 328.1L221.1 335.9L221.3 336.7L221.5 332.7L221.6 338.2L221.8 332.8L222 335.4L222.2 334.4L222.3 332.8L222.5 333.4L222.7 328.3L222.8 331.7L223 337.1L223.2 330.7L223.3 337.3L223.5 333.3L223.7 337L223.8 335.8L224 329.8L224.2 335.1L224.4 335.3L224.5 335.1L224.7 334.4L224.9 329.5L225 336.9L225.2 337L225.4 331.9L225.5 338.1L225.7 334.6L225.9 330.4L226 333.6L226.2 334.9L226.4 335.6L226.6 336.2L226.7 335.3L226.9 333.2L227.1 330.1L227.2 330.9L227.4 335.2L227.6 335.7L227.7 331.7L227.9 338.7L228.1 334.9L228.2 334.6L228.4 336.8L228.6 336.5L228.8 332.7L228.9 338.3L229.1 336.3L229.3 335.5L229.4 333.5L229.6 337.6L229.8 330.7L229.9 334.6L230.1 334.4L230.3 334.7L230.4 335.6L230.6 336.5L230.8 330.5L231 333.2L231.1 334.1L231.3 331L231.5 335.8L231.6 332L231.8 333.7L232 336.3L232.1 331.7L232.3 338L232.5 332L232.6 336.3L232.8 332.7L233 329.9L233.2 332.2L233.3 335.5L233.5 333.9L233.7 334.9L233.8 337.1L234 337L234.2 333.7L234.3 332.4L234.5 338.8L234.7 334.1L234.8 332.5L235 333.6L235.2 336.7L235.4 331L235.5 337.3L235.7 332.1L235.9 329.4L236 339.6L236.2 333.2L236.4 333.1L236.5 333.3L236.7 336.1L236.9 334.8L237 337.9L237.2 333.6L237.4 332.5L237.6 335.8L237.7 336.6L237.9 335.3L238.1 334L238.2 333.8L238.4 334.3L238.6 333.8L238.7 337.7" fill="none" stroke="#e0922e" stroke-width="1.2"/>
</g>
<rect x="46.5" y="249.4" width="192.3" height="189.8" fill="none" stroke="#2b2b2b" stroke-width="1.3"/>
<path d="M46.5 439.2v-3.5M46.5 249.4v3.5M85.0 439.2v-3.5M85.0 249.4v3.5M123.4 439.2v-3.5M123.4 249.4v3.5M161.9 439.2v-3.5M161.9 249.4v3.5M200.3 439.2v-3.5M200.3 249.4v3.5M238.8 439.2v-3.5M238.8 249.4v3.5M46.5 439.2h3.5M238.8 439.2h-3.5M46.5 391.8h3.5M238.8 391.8h-3.5M46.5 344.3h3.5M238.8 344.3h-3.5M46.5 296.9h3.5M238.8 296.9h-3.5M46.5 249.4h3.5M238.8 249.4h-3.5" stroke="#2b2b2b" stroke-width="1.1" fill="none"/>
<g font-size="10.6" fill="#222" stroke="#222"><text x="46.5" y="451.2" text-anchor="middle">30</text><text x="85.0" y="451.2" text-anchor="middle">35</text><text x="123.4" y="451.2" text-anchor="middle">40</text><text x="161.9" y="451.2" text-anchor="middle">45</text><text x="200.3" y="451.2" text-anchor="middle">50</text><text x="238.8" y="451.2" text-anchor="middle">55</text><text x="41" y="441.6" text-anchor="end">0</text><text x="41" y="394.1" text-anchor="end">0.05</text><text x="41" y="346.7" text-anchor="end">0.1</text><text x="41" y="299.2" text-anchor="end">0.15</text><text x="41" y="251.8" text-anchor="end">0.2</text></g>
<g clip-path="url(#clipD)">
<path d="M316.9 439L317.7 439L318.4 439L319.2 439L319.9 439L320.7 439L321.4 439L322.2 439L323 439L323.7 439L324.5 439L325.2 439L326 439L326.7 439L327.5 439L328.3 439L329 439L329.8 439L330.5 439L331.3 439L332 439L332.8 439L333.5 439L334.3 439L335.1 439L335.8 439L336.6 439L337.3 439L338.1 439L338.8 439L339.6 439L340.4 439L341.1 439L341.9 439L342.6 438.9L343.4 438.9L344.1 438.9L344.9 438.9L345.7 438.9L346.4 438.9L347.2 438.9L347.9 438.9L348.7 438.9L349.4 438.9L350.2 438.9L351 438.9L351.7 438.9L352.5 438.9L353.2 438.9L354 438.8L354.7 438.8L355.5 438.8L355.8 438.8L355.9 438.8L356 438.8L356.1 438.8L356.3 438.8L356.4 438.8L356.5 438.8L356.6 438.7L356.7 438.7L356.8 438.7L356.9 438.7L357 438.7L357 438.7L357.2 438.7L357.3 438.7L357.4 438.7L357.5 438.7L357.6 438.7L357.7 438.7L357.8 438.7L357.8 438.7L358 438.7L358.1 438.6L358.2 438.6L358.3 438.6L358.4 438.6L358.5 438.6L358.6 438.6L358.8 438.6L358.9 438.6L359 438.5L359.1 438.5L359.2 438.5L359.3 438.5L359.3 438.5L359.4 438.5L359.5 438.5L359.7 438.4L359.8 438.4L359.9 438.4L360 438.4L360 438.4L360.1 438.3L360.2 438.3L360.3 438.3L360.5 438.2L360.6 438.2L360.7 438.2L360.8 438.1L360.9 438.1L361 438L361.1 438L361.2 437.9L361.4 437.9L361.5 437.8L361.6 437.7L361.6 437.7L361.7 437.6L361.8 437.5L361.9 437.4L362 437.3L362.2 437.2L362.3 437L362.3 437L362.4 436.9L362.5 436.7L362.6 436.5L362.7 436.2L362.8 435.9L363 435.6L363.1 435.2L363.2 434.8L363.3 434.2L363.4 433.6L363.5 432.9L363.6 432L363.7 430.8L363.8 430L363.9 429.5L364 427.8L364.1 425.8L364.2 423.3L364.3 420.2L364.4 416.8L364.5 413L364.6 411.7L364.7 409.4L364.8 406.7L364.9 405.7L365 406.7L365.1 409.4L365.2 413L365.3 416.8L365.4 420.2L365.6 423.3L365.7 425.8L365.8 427.8L365.9 429.5L366 430.8L366.1 431.6L366.1 431.9L366.2 432.8L366.4 433.6L366.5 434.2L366.6 434.7L366.7 435.2L366.8 435.6L366.8 435.7L366.9 435.9L367 436.2L367.2 436.4L367.3 436.6L367.4 436.8L367.5 437L367.6 437.1L367.7 437.3L367.8 437.4L367.9 437.5L368.1 437.6L368.2 437.7L368.3 437.7L368.4 437.8L368.4 437.8L368.5 437.9L368.6 437.9L368.7 438L368.9 438L369 438.1L369.1 438.1L369.1 438.1L369.2 438.1L369.3 438.2L369.4 438.2L369.5 438.2L369.6 438.3L369.8 438.3L369.9 438.3L370 438.3L370.1 438.3L370.2 438.4L370.3 438.4L370.4 438.4L370.6 438.4L370.6 438.4L370.7 438.4L370.8 438.4L370.9 438.5L371 438.5L371.1 438.5L371.2 438.5L371.4 438.5L371.4 438.5L371.5 438.5L371.6 438.5L371.7 438.5L371.8 438.5L371.9 438.5L372 438.5L372.1 438.5L372.3 438.5L372.4 438.6L372.5 438.6L372.6 438.6L372.7 438.6L372.8 438.6L372.9 438.6L372.9 438.6L373.1 438.6L373.2 438.6L373.3 438.6L373.4 438.6L373.5 438.6L373.6 438.6L373.7 438.6L373.7 438.6L373.8 438.6L374 438.6L374.4 438.6L375.2 438.6L375.9 438.5L376.7 438.5L377 438.5L377.1 438.5L377.2 438.5L377.3 438.5L377.4 438.4L377.6 438.4L377.7 438.4L377.8 438.4L377.9 438.4L378 438.4L378.1 438.4L378.2 438.4L378.2 438.4L378.4 438.3L378.5 438.3L378.6 438.3L378.7 438.3L378.8 438.3L378.9 438.3L379 438.3L379 438.2L379.1 438.2L379.3 438.2L379.4 438.2L379.5 438.2L379.6 438.1L379.7 438.1L379.8 438.1L379.9 438.1L380.1 438L380.2 438L380.3 438L380.4 437.9L380.5 437.9L380.5 437.9L380.6 437.8L380.7 437.8L380.8 437.8L381 437.7L381.1 437.6L381.2 437.6L381.2 437.6L381.3 437.5L381.4 437.5L381.5 437.4L381.6 437.3L381.8 437.2L381.9 437.2L382 437.1L382.1 437L382.2 436.8L382.3 436.7L382.4 436.6L382.6 436.4L382.7 436.3L382.7 436.2L382.8 436.1L382.9 435.9L383 435.7L383.1 435.5L383.2 435.2L383.3 434.9L383.5 434.6L383.5 434.4L383.6 434.2L383.7 433.8L383.8 433.3L383.9 432.7L384 432.1L384.1 431.3L384.3 430.5L384.4 429.5L384.5 428.3L384.6 426.9L384.7 425.1L384.8 423.1L384.9 420.6L385 418.6L385 417.5L385.2 413.7L385.3 409.1L385.4 403.4L385.5 396.5L385.6 388.6L385.7 380.1L385.8 377.2L385.8 371.9L386 365.8L386.1 363.6L386.2 365.8L386.3 371.9L386.4 380.1L386.5 388.6L386.6 396.5L386.8 403.4L386.9 409.1L387 413.7L387.1 417.5L387.2 420.6L387.3 422.3L387.3 423.1L387.4 425.1L387.5 426.8L387.7 428.3L387.8 429.5L387.9 430.5L388 431.3L388 431.6L388.1 432.1L388.2 432.7L388.3 433.3L388.5 433.7L388.6 434.2L388.7 434.5L388.8 434.9L388.9 435.2L389 435.4L389.1 435.7L389.3 435.9L389.4 436.1L389.5 436.2L389.6 436.4L389.6 436.4L389.7 436.6L389.8 436.7L389.9 436.8L390 436.9L390.2 437L390.3 437.1L390.3 437.1L390.4 437.2L390.5 437.3L390.6 437.4L390.7 437.4L390.8 437.5L391 437.5L391.1 437.6L391.2 437.6L391.3 437.7L391.4 437.7L391.5 437.8L391.6 437.8L391.7 437.9L391.8 437.9L391.9 437.9L392 437.9L392.1 438L392.2 438L392.3 438L392.4 438L392.5 438.1L392.6 438.1L392.7 438.1L392.8 438.1L392.9 438.1L393 438.2L393.1 438.2L393.2 438.2L393.3 438.2L393.5 438.2L393.6 438.2L393.7 438.3L393.8 438.3L393.9 438.3L394 438.3L394.1 438.3L394.1 438.3L394.2 438.3L394.4 438.3L394.5 438.3L394.6 438.3L394.7 438.3L394.8 438.4L394.9 438.4L394.9 438.4L395 438.4L395.2 438.4L395.6 438.4L396.4 438.4L397.1 438.4L397.9 438.4L398.6 438.4L399.4 438.4L399.5 438.4L399.7 438.4L399.8 438.4L399.9 438.4L400 438.4L400.1 438.4L400.1 438.4L400.2 438.4L400.3 438.4L400.5 438.4L400.6 438.4L400.7 438.3L400.8 438.3L400.9 438.3L401 438.3L401.1 438.3L401.2 438.3L401.4 438.3L401.5 438.3L401.6 438.3L401.7 438.3L401.7 438.3L401.8 438.3L401.9 438.2L402 438.2L402.2 438.2L402.3 438.2L402.4 438.2L402.4 438.2L402.5 438.2L402.6 438.2L402.7 438.1L402.8 438.1L402.9 438.1L403.1 438.1L403.2 438.1L403.3 438.1L403.4 438L403.5 438L403.6 438L403.6 438L403.7 438L403.7 438L403.8 438L403.9 437.9L403.9 437.9L403.9 437.9L404 437.9L404 437.9L404.1 437.9L404.1 437.9L404.2 437.9L404.2 437.8L404.3 437.8L404.3 437.8L404.4 437.8L404.5 437.8L404.5 437.8L404.6 437.7L404.7 437.7L404.7 437.7L404.8 437.7L404.8 437.7L404.9 437.6L404.9 437.6L405 437.6L405 437.6L405.1 437.5L405.1 437.5L405.2 437.5L405.3 437.5L405.3 437.4L405.4 437.4L405.4 437.4L405.5 437.3L405.6 437.3L405.6 437.3L405.7 437.2L405.7 437.2L405.8 437.2L405.8 437.1L405.9 437.1L405.9 437L406 437L406.1 436.9L406.1 436.9L406.2 436.8L406.2 436.8L406.2 436.8L406.3 436.7L406.4 436.6L406.4 436.6L406.5 436.5L406.5 436.4L406.6 436.3L406.6 436.3L406.7 436.2L406.7 436.1L406.8 436L406.8 435.9L406.9 435.7L407 435.7L407 435.5L407.1 435.4L407.1 435.2L407.2 435.1L407.3 434.8L407.3 434.7L407.4 434.4L407.4 434.2L407.5 433.9L407.5 433.7L407.6 433.3L407.6 433.1L407.7 432.6L407.8 432.3L407.8 431.7L407.9 431.3L407.9 430.6L408 430.2L408.1 429.3L408.1 428.9L408.2 427.9L408.2 427.4L408.3 426.3L408.3 425.8L408.4 424.8L408.4 424.3L408.5 423.9L408.5 423.6L408.5 423.3L408.6 423.1L408.7 423.1L408.7 423.3L408.8 423.5L408.9 424.1L408.9 424.5L409 425.3L409 425.8L409.1 426.6L409.1 427L409.2 427.7L409.2 428.1L409.3 428.6L409.3 428.9L409.4 429.3L409.5 429.5L409.5 429.8L409.6 430L409.6 430.1L409.7 430.2L409.8 430.3L409.8 430.3L409.9 430.3L409.9 430.3L410 430.2L410 430.1L410.1 429.9L410.1 429.8L410.2 429.6L410.3 429.4L410.3 429.1L410.4 428.9L410.4 428.5L410.5 428.3L410.6 427.8L410.6 427.5L410.7 426.9L410.7 426.5L410.7 426.2L410.8 425.8L410.8 425.4L410.9 424.5L410.9 424L411 422.9L411 422.4L411.1 421.1L411.2 420.4L411.2 419.6L411.2 418.8L411.3 418L411.3 417L411.3 416.1L411.4 415L411.4 413.9L411.5 412.7L411.5 411.4L411.5 410.1L411.6 408.6L411.6 407L411.7 405.4L411.7 403.5L411.7 401.6L411.8 399.5L411.8 397.3L411.8 394.9L411.9 392.4L411.9 389.6L412 386.7L412 383.6L412 380.4L412.1 376.9L412.1 373.2L412.1 369.4L412.2 365.5L412.2 361.4L412.3 357.3L412.3 353.1L412.3 349.1L412.4 345.1L412.4 341.4L412.4 338L412.5 335.1L412.5 332.7L412.6 330.9L412.6 329.8L412.6 329.4L412.7 329.8L412.7 330.9L412.7 332.7L412.8 335.1L412.8 338L412.9 341.4L412.9 345.1L412.9 349.1L413 353.1L413 357.3L413.1 361.4L413.1 365.5L413.1 369.4L413.2 373.2L413.2 376.9L413.2 380.4L413.3 383.6L413.3 386.7L413.4 389.6L413.4 392.4L413.4 394.9L413.5 397.3L413.5 399.5L413.5 401.6L413.6 403.6L413.6 405.4L413.7 407.1L413.7 408.6L413.7 410.1L413.8 411.5L413.8 412.8L413.8 413.9L413.9 415.1L413.9 416.1L414 417.1L414 418L414 418.9L414.1 419.7L414.1 420.5L414.1 421.2L414.2 421.8L414.2 422.5L414.3 423.1L414.3 423.6L414.3 424.2L414.4 424.7L414.4 425.1L414.5 425.6L414.5 426L414.5 426.4L414.6 426.8L414.6 427.2L414.6 427.5L414.7 427.8L414.7 428.1L414.8 428.4L414.8 428.7L414.8 429L414.9 429.2L414.9 429.5L414.9 429.7L415 429.9L415 430.1L415.1 430.3L415.1 430.5L415.1 430.7L415.2 430.8L415.2 431L415.2 431.2L415.3 431.3L415.3 431.5L415.4 431.6L415.4 431.7L415.4 431.8L415.5 431.9L415.5 432.1L415.5 432.2L415.6 432.3L415.6 432.4L415.7 432.4L415.7 432.5L415.7 432.6L415.8 432.7L415.8 432.7L415.9 432.8L415.9 432.9L415.9 432.9L416 433L416 433L416 433.1L416.1 433.1L416.1 433.2L416.2 433.2L416.2 433.3L416.2 433.3L416.3 433.3L416.3 433.3L416.3 433.4L416.4 433.4L416.4 433.4L416.5 433.4L416.5 433.4L416.5 433.4L416.6 433.4L416.6 433.4L416.6 433.4L416.7 433.4L416.7 433.4L416.8 433.4L416.8 433.4L416.8 433.4L416.9 433.4L416.9 433.3L416.9 433.3L417 433.3L417 433.3L417.1 433.2L417.1 433.2L417.1 433.1L417.2 433.1L417.2 433L417.3 433L417.3 432.9L417.3 432.9L417.4 432.8L417.4 432.7L417.4 432.7L417.5 432.6L417.5 432.5L417.6 432.4L417.6 432.3L417.6 432.2L417.7 432.1L417.7 432L417.7 431.9L417.8 431.7L417.9 431.5L417.9 431.3L418 431L418 430.8L418.1 430.5L418.1 430.3L418.2 429.8L418.2 429.6L418.3 429.1L418.3 428.8L418.4 428.2L418.5 427.8L418.5 427.1L418.6 426.7L418.7 425.9L418.7 425.4L418.8 424.4L418.8 423.8L418.9 422.6L418.9 421.9L419 420.4L419 419.6L419.1 418.7L419.1 417.8L419.1 416.8L419.2 414.5L419.3 413.3L419.3 410.5L419.4 409L419.4 405.6L419.5 403.7L419.6 399.5L419.6 397.2L419.7 392.2L419.7 389.5L419.8 383.6L419.8 380.4L419.9 374L419.9 370.7L420 364.3L420.1 361.4L420.1 356.4L420.2 354.5L420.2 352.2L420.3 351.9L420.4 353.1L420.4 354.5L420.5 358.8L420.5 361.4L420.6 367.5L420.6 370.7L420.7 377.3L420.7 380.5L420.8 386.6L420.8 389.5L420.9 394.9L421 397.3L421 401.8L421.1 403.8L421.1 407.4L421.2 409.1L421.3 412L421.3 413.4L421.3 414.6L421.4 415.8L421.4 416.9L421.5 418.8L421.5 419.7L421.6 421.3L421.6 422L421.7 423.3L421.8 423.9L421.9 425.5L422 426.8L422.1 427.9L422.2 428.8L422.3 429.6L422.4 430.2L422.5 430.8L422.7 431.2L422.8 431.5L422.9 431.7L422.9 431.8L423 432L423.1 432.1L423.2 432.1L423.3 432L423.5 431.9L423.6 431.6L423.6 431.5L423.7 431.2L423.8 430.7L423.9 429.9L424 429L424.1 427.7L424.3 426.2L424.4 424.4L424.5 422.5L424.6 420.6L424.7 419.3L424.8 418.8L424.9 419.4L425 421L425.1 422.3L425.2 423L425.3 425.2L425.4 427.1L425.5 428.8L425.6 430.3L425.7 431.4L425.8 432.4L425.9 432.7L426 433.2L426.1 433.9L426.2 434.4L426.3 434.8L426.4 435.2L426.5 435.6L426.6 435.8L426.7 436.1L426.9 436.3L427 436.5L427.1 436.6L427.2 436.8L427.3 436.9L427.4 437L427.4 437L427.5 437.1L427.7 437.2L427.8 437.3L427.9 437.4L428 437.5L428.1 437.5L428.1 437.6L428.2 437.6L428.3 437.6L428.5 437.7L428.6 437.8L428.7 437.8L428.8 437.8L428.9 437.9L429 437.9L429.1 438L429.2 438L429.4 438L429.5 438L429.6 438.1L429.7 438.1L429.7 438.1L429.8 438.1L429.9 438.1L430 438.2L430.2 438.2L430.3 438.2L430.4 438.2L430.4 438.2L430.5 438.3L430.6 438.3L430.7 438.3L430.8 438.3L430.9 438.3L431.1 438.3L431.2 438.4L431.3 438.4L431.4 438.4L431.5 438.4L431.6 438.4L431.7 438.4L431.9 438.4L431.9 438.4L432 438.4L432.1 438.4L432.2 438.5L432.3 438.5L432.4 438.5L432.5 438.5L432.7 438.5L432.7 438.5L432.8 438.5L432.9 438.5L433 438.5L433.1 438.5L433.2 438.5L433.3 438.5L433.4 438.6L433.6 438.6L433.7 438.6L433.8 438.6L433.9 438.6L434.2 438.6L435 438.6L435.7 438.7L436.5 438.7L437.2 438.7L438 438.7L438.7 438.7L439.5 438.8L440.3 438.8L441 438.8L441.8 438.8L442.5 438.8L443 438.8L443.1 438.8L443.2 438.8L443.3 438.8L443.3 438.8L443.4 438.8L443.6 438.8L443.7 438.8L443.8 438.8L443.9 438.8L444 438.8L444 438.8L444.1 438.8L444.2 438.8L444.3 438.8L444.5 438.8L444.6 438.8L444.7 438.8L444.8 438.7L444.9 438.7L445 438.7L445.1 438.7L445.3 438.7L445.4 438.7L445.5 438.7L445.6 438.7L445.6 438.7L445.7 438.7L445.8 438.7L445.9 438.7L446 438.7L446.2 438.7L446.3 438.7L446.3 438.7L446.4 438.7L446.5 438.7L446.6 438.7L446.7 438.7L446.8 438.7L447 438.7L447.1 438.6L447.2 438.6L447.3 438.6L447.4 438.6L447.5 438.6L447.6 438.6L447.8 438.6L447.8 438.6L447.9 438.6L448 438.5L448.1 438.5L448.2 438.5L448.3 438.5L448.4 438.4L448.5 438.4L448.6 438.4L448.7 438.4L448.8 438.4L448.9 438.3L449 438.3L449.1 438.2L449.2 438.2L449.3 438.1L449.5 438.1L449.6 438L449.7 437.9L449.8 437.8L449.9 437.7L450 437.6L450.1 437.5L450.1 437.4L450.2 437.3L450.4 437.1L450.5 436.9L450.6 436.6L450.7 436.3L450.8 435.9L450.9 435.7L450.9 435.4L451 434.8L451.2 434.1L451.3 433.2L451.4 432.1L451.5 430.8L451.6 429.3L451.7 427.7L451.8 426.1L452 424.9L452.1 424.5L452.2 424.9L452.3 426.1L452.4 427.1L452.4 427.7L452.5 429.3L452.6 430.8L452.7 432.1L452.9 433.2L453 434.1L453.1 434.8L453.1 435L453.2 435.4L453.3 435.9L453.4 436.3L453.5 436.6L453.7 436.9L453.8 437.1L453.9 437.3L454 437.4L454.1 437.6L454.2 437.7L454.3 437.8L454.4 437.9L454.6 438L454.6 438L454.7 438.1L454.8 438.1L454.9 438.2L455 438.2L455.1 438.3L455.2 438.3L455.4 438.3L455.4 438.3L455.5 438.4L455.6 438.4L455.7 438.4L455.8 438.4L455.9 438.5L456 438.5L456.2 438.5L456.3 438.5L456.4 438.5L456.5 438.5L456.6 438.6L456.7 438.6L456.8 438.6L456.9 438.6L456.9 438.6L457.1 438.6L457.2 438.6L457.3 438.6L457.4 438.6L457.5 438.6L457.6 438.6L457.7 438.6L457.7 438.6L457.9 438.6L458 438.6L458.1 438.6L458.2 438.6L458.3 438.6L458.4 438.6L458.5 438.6L458.6 438.6L458.8 438.6L458.9 438.6L459 438.6L459.1 438.6L459.2 438.6L459.2 438.6L459.3 438.6L459.4 438.5L459.6 438.5L459.7 438.5L459.8 438.5L459.9 438.5L459.9 438.5L460 438.5L460.1 438.4L460.2 438.4L460.4 438.4L460.5 438.3L460.6 438.3L460.7 438.3L460.8 438.2L460.9 438.1L461 438.1L461.1 438L461.3 437.9L461.4 437.8L461.4 437.8L461.5 437.7L461.6 437.6L461.7 437.4L461.8 437.2L461.9 437L462.1 436.8L462.2 436.4L462.2 436.3L462.3 436.1L462.4 435.6L462.5 435L462.6 434.3L462.7 433.4L462.8 432.3L463 431.1L463.1 429.7L463.2 428.5L463.3 427.5L463.4 427.2L463.5 427.5L463.6 428.5L463.7 429.3L463.8 429.8L463.9 431.1L464 432.3L464.1 433.4L464.2 434.3L464.3 435L464.4 435.6L464.5 435.8L464.6 436.1L464.7 436.5L464.8 436.8L464.9 437.1L465 437.3L465.1 437.5L465.2 437.6L465.3 437.8L465.5 437.9L465.6 438L465.7 438.1L465.8 438.1L465.9 438.2L466 438.2L466 438.3L466.1 438.3L466.3 438.4L466.4 438.4L466.5 438.4L466.6 438.5L466.7 438.5L466.7 438.5L466.8 438.5L466.9 438.6L467 438.6L467.2 438.6L467.3 438.6L467.4 438.6L467.5 438.7L467.6 438.7L467.7 438.7L467.8 438.7L468 438.7L468.1 438.7L468.2 438.7L468.3 438.7L468.3 438.7L468.4 438.8L468.5 438.8L468.6 438.8L468.8 438.8L468.9 438.8L469 438.8L469 438.8L469.1 438.8L469.2 438.8L469.3 438.8L469.4 438.8L469.5 438.8L469.7 438.8L469.8 438.8L469.9 438.8L470 438.8L470.1 438.8L470.2 438.9L470.3 438.9L470.5 438.9L470.5 438.9L470.6 438.9L470.7 438.9L470.8 438.9L470.9 438.9L471 438.9L471.1 438.9L471.2 438.9L471.3 438.9L471.4 438.9L471.5 438.9L471.6 438.9L471.7 438.9L471.8 438.9L471.9 438.9L472 438.9L472.2 438.9L472.3 438.9L472.4 438.9L472.5 438.9L472.8 438.9L473.6 438.9L474.3 438.9L475.1 438.9L475.8 438.9L476.6 438.9L477.3 438.9L478.1 438.9L478.9 439L479.6 439L480.4 439L481.1 439L481.9 439L482.6 439L483.4 439L484.2 439L484.9 439L485.7 439L486.4 439L487.2 439L487.9 439L488.7 439L489.5 439L490.2 439L491 439L491.7 439L492.5 439L493.2 439L494 439L494.7 439L495.5 439L496.3 439L497 439L497.8 439L498.5 439L499.3 439L500 439L500.8 439L501.6 439L502.3 439L503.1 439L503.8 439L504.6 439L505.3 439L506.1 439" fill="none" stroke="#1a1a1a" stroke-width="1.1"/>
<path d="M316.9 324.1L317.1 319.9L317.4 318.8L317.6 322.4L317.8 321.5L318 320.3L318.3 319.4L318.5 319.8L318.7 319L318.9 320.7L319.2 320.1L319.4 320.1L319.6 321.2L319.9 319.1L320.1 319.9L320.3 319.4L320.5 321.2L320.8 319.4L321 322L321.2 320.2L321.4 324L321.7 321.9L321.9 319.7L322.1 321.2L322.3 320.5L322.6 322.7L322.8 318.7L323 319.9L323.3 320.7L323.5 320.2L323.7 320.3L323.9 318.9L324.2 320.4L324.4 322.6L324.6 321L324.8 319.1L325.1 320L325.3 321.2L325.5 319.9L325.8 320.6L326 319.9L326.2 322.7L326.4 321.8L326.7 319.9L326.9 321L327.1 320.3L327.3 318.3L327.6 321.1L327.8 320.4L328 321.4L328.3 321.5L328.5 320.8L328.7 322.6L328.9 323.4L329.2 319L329.4 320.9L329.6 319.3L329.8 320.6L330.1 320.5L330.3 319.9L330.5 319.8L330.7 322.3L331 319.2L331.2 322L331.4 320.5L331.7 317.5L331.9 320.6L332.1 318.7L332.3 321.2L332.6 320L332.8 320.7L333 320.2L333.2 321.8L333.5 321.9L333.7 320.3L333.9 322.7L334.2 321.8L334.4 320L334.6 321.5L334.8 321.9L335.1 322.2L335.3 320.6L335.5 321.2L335.7 320.6L336 321L336.2 318.4L336.4 321.3L336.7 323.2L336.9 320.6L337.1 320.8L337.3 320.6L337.6 322.8L337.8 319.4L338 320.8L338.2 320.8L338.5 322.8L338.7 320.2L338.9 320.9L339.1 319.1L339.4 321.3L339.6 322.3L339.8 320.6L340.1 321.9L340.3 320.3L340.5 322.2L340.7 321L341 321.1L341.2 320.8L341.4 321.4L341.6 321.8L341.9 320.9L342.1 321.5L342.3 320.6L342.6 321.1L342.8 323.6L343 320.9L343.2 319.1L343.5 320.4L343.7 320.1L343.9 320.2L344.1 321.4L344.4 322.5L344.6 319.8L344.8 319.5L345.1 320.1L345.3 320.3L345.5 320.3L345.7 320.8L346 320.5L346.2 320.8L346.4 320.4L346.6 322L346.9 321.6L347.1 320.1L347.3 321.2L347.6 323.8L347.8 320.7L348 323.7L348.2 318.4L348.5 319.9L348.7 320L348.9 321.6L349.1 322.2L349.4 321.1L349.6 320.8L349.8 321.8L350 320.6L350.3 320L350.5 320.1L350.7 322.1L351 323.5L351.2 320.8L351.4 321.6L351.6 320.3L351.9 318.8L352.1 318.8L352.3 320.5L352.5 319.4L352.8 318.8L353 320.7L353.2 320.5L353.5 319.8L353.7 320.8L353.9 321.4L354.1 321.7L354.4 320.8L354.6 321.6L354.8 319.8L355 321.2L355.3 319L355.5 319.3L355.7 322.3L356 319.4L356.2 321.3L356.4 319.1L356.6 320.1L356.9 320.8L357.1 319.9L357.3 321.4L357.5 320.3L357.8 320.3L358 320.9L358.2 320.2L358.4 321.9L358.7 320L358.9 322.2L359.1 319.9L359.4 320.1L359.6 319.8L359.8 321.3L360 316.9L360.3 320.8L360.5 320.4L360.7 321.4L360.9 318.7L361.2 321L361.4 319.2L361.6 321.5L361.9 319.8L362.1 320.6L362.3 318.8L362.5 320.2L362.8 320.6L363 318.7L363.2 320.3L363.4 319.3L363.7 316.3L363.9 318.1L364.1 313L364.4 312.4L364.6 312L364.8 311.6L365 313.2L365.3 316.5L365.5 317.4L365.7 317.2L365.9 317.9L366.2 319.3L366.4 320.5L366.6 320.9L366.8 320.6L367.1 319.2L367.3 319.4L367.5 319.9L367.8 318.6L368 320.7L368.2 320.8L368.4 320.9L368.7 318.1L368.9 323L369.1 320.1L369.3 319.9L369.6 320.4L369.8 317.7L370 319.1L370.3 319.6L370.5 321.6L370.7 319.9L370.9 321L371.2 320.5L371.4 320.3L371.6 321.1L371.8 319.8L372.1 318.5L372.3 319.3L372.5 320.3L372.8 322.9L373 319.2L373.2 319.2L373.4 320.7L373.7 321.1L373.9 319.7L374.1 321.5L374.3 319.5L374.6 321.8L374.8 321.6L375 320.4L375.2 322.2L375.5 320.4L375.7 319.8L375.9 322L376.2 319.3L376.4 321.1L376.6 319.7L376.8 320.1L377.1 320.9L377.3 320.9L377.5 322.4L377.7 321.1L378 321.2L378.2 318.3L378.4 319L378.7 321.9L378.9 319.2L379.1 319.9L379.3 320.6L379.6 319.5L379.8 319.1L380 320.7L380.2 320.3L380.5 319.8L380.7 321.1L380.9 319.6L381.2 319.9L381.4 320.6L381.6 320.7L381.8 319.3L382.1 318.5L382.3 319.1L382.5 320.4L382.7 318.3L383 318.9L383.2 318.2L383.4 317.3L383.6 319.5L383.9 318.2L384.1 318.3L384.3 318L384.6 313.6L384.8 313.6L385 315.2L385.2 310.2L385.5 308.8L385.7 305L385.9 306.6L386.1 309L386.4 311.1L386.6 312.9L386.8 314.7L387.1 316.1L387.3 316.6L387.5 316.3L387.7 318.6L388 317.5L388.2 317.8L388.4 318.3L388.6 316.9L388.9 319.4L389.1 318.2L389.3 318.8L389.6 317.1L389.8 318.2L390 317.5L390.2 317L390.5 319.3L390.7 316.7L390.9 318L391.1 317.2L391.4 316.9L391.6 315.6L391.8 315.4L392.1 314L392.3 315.6L392.5 316.1L392.7 315.8L393 314.1L393.2 312.6L393.4 313.7L393.6 314.4L393.9 312.9L394.1 312.4L394.3 312L394.5 312.3L394.8 313.7L395 310.5L395.2 307.6L395.5 307.6L395.7 309.3L395.9 305.2L396.1 305.9L396.4 299.4L396.6 299.5L396.8 298.7L397 293.3L397.3 291.7L397.5 285.9L397.7 281.5L398 276.7L398.2 266.8L398.4 259.5L398.6 243.9L398.9 229.5L399.1 212.2L399.3 212.2L399.5 212.2L399.8 212.2L400 212.2L400.2 212.2L400.5 212.2L400.7 212.2L400.9 212.2L401.1 212.2L401.4 212.2L401.6 212.2L401.8 212.2L402 212.2L402.3 222.2L402.5 242L402.7 254.5L402.9 265.7L403.2 272.9L403.4 279.1L403.6 284.8L403.9 290.2L404.1 294.2L404.3 295.3L404.5 299L404.8 298.4L405 304L405.2 303.8L405.4 306.1L405.7 308.3L405.9 306.9L406.1 309.3L406.4 311.4L406.6 311.5L406.8 310.6L407 313.9L407.3 311.3L407.5 312.6L407.7 314.2L407.9 312.6L408.2 312.5L408.4 314.2L408.6 314.9L408.9 313.1L409.1 313.7L409.3 316.8L409.5 316L409.8 316.1L410 316.3L410.2 317.5L410.4 314.4L410.7 315.1L410.9 314.5L411.1 312L411.3 313.1L411.6 310.6L411.8 307.8L412 306.2L412.3 304.8L412.5 304.9L412.7 308.5L412.9 309.5L413.2 314.1L413.4 314.5L413.6 317.5L413.8 316.7L414.1 318L414.3 315.9L414.5 317L414.8 317.6L415 316.2L415.2 316.8L415.4 317.8L415.7 319.6L415.9 320.6L416.1 318.9L416.3 319.4L416.6 319.7L416.8 319.2L417 320.8L417.3 316.9L417.5 319.9L417.7 319.1L417.9 317.2L418.2 319.3L418.4 315.4L418.6 314.2L418.8 314.1L419.1 313.1L419.3 310.7L419.5 312.1L419.7 309.5L420 313.2L420.2 316L420.4 317.6L420.7 316.8L420.9 316.4L421.1 320.3L421.3 319.8L421.6 321.5L421.8 318.8L422 319.6L422.2 317.2L422.5 320.2L422.7 320.7L422.9 321.1L423.2 319.3L423.4 322.4L423.6 319.5L423.8 320.2L424.1 321.1L424.3 321.7L424.5 319.3L424.7 318.4L425 321.2L425.2 320.1L425.4 318.6L425.7 321.5L425.9 321.1L426.1 322.3L426.3 321L426.6 320.9L426.8 321.4L427 321.8L427.2 322.8L427.5 322.6L427.7 322.1L427.9 320.2L428.1 321.6L428.4 322L428.6 320.2L428.8 320.3L429.1 322L429.3 321.8L429.5 320.2L429.7 320.6L430 322.1L430.2 320.8L430.4 321.1L430.6 319.7L430.9 322.2L431.1 320.1L431.3 320.6L431.6 322.4L431.8 319.9L432 320.1L432.2 322.8L432.5 318.8L432.7 322.6L432.9 322.3L433.1 321.6L433.4 320.3L433.6 320.5L433.8 321.4L434.1 319.6L434.3 320.8L434.5 319.5L434.7 317.8L435 321L435.2 324.5L435.4 321.8L435.6 322.6L435.9 321.2L436.1 321.2L436.3 322.8L436.6 322.7L436.8 321.7L437 321.6L437.2 324.6L437.5 320.1L437.7 321.3L437.9 321.4L438.1 321L438.4 322.6L438.6 321.4L438.8 320.1L439 320L439.3 320.8L439.5 321.7L439.7 322.4L440 319.8L440.2 320.8L440.4 321.9L440.6 324.1L440.9 322.5L441.1 323.8L441.3 319.9L441.5 321.2L441.8 322.4L442 321.8L442.2 318.2L442.5 319.9L442.7 323.1L442.9 321.6L443.1 323L443.4 323.6L443.6 321.3L443.8 318.4L444 319.5L444.3 321.4L444.5 322L444.7 321.2L445 320.2L445.2 323.3L445.4 323.9L445.6 319.1L445.9 321.2L446.1 319.5L446.3 321.2L446.5 319.6L446.8 322.3L447 320.9L447.2 319.6L447.4 320.2L447.7 322.1L447.9 320.4L448.1 322.4L448.4 323.3L448.6 320.8L448.8 319.7L449 320.4L449.3 323.1L449.5 320.4L449.7 320.6L449.9 322L450.2 324.6L450.4 320.1L450.6 320.2L450.9 320.6L451.1 323.3L451.3 322.9L451.5 319.5L451.8 319.5L452 319.5L452.2 320.1L452.4 319.3L452.7 320.7L452.9 320.8L453.1 321.8L453.4 320.6L453.6 321.7L453.8 320L454 320.4L454.3 322.4L454.5 319.1L454.7 322.9L454.9 320.9L455.2 320.2L455.4 319.9L455.6 324.4L455.8 320.3L456.1 320.1L456.3 319.8L456.5 324.5L456.8 322.5L457 321.8L457.2 322.2L457.4 319.9L457.7 322.5L457.9 320.1L458.1 321L458.3 323.6L458.6 323L458.8 322.3L459 321.6L459.3 320.4L459.5 321.9L459.7 320.5L459.9 323.7L460.2 325.6L460.4 322.2L460.6 321.1L460.8 322.2L461.1 323L461.3 321.2L461.5 319.3L461.8 321.9L462 322.7L462.2 322.8L462.4 319.2L462.7 321.8L462.9 321L463.1 320.2L463.3 320.4L463.6 323L463.8 320.5L464 320.7L464.2 321.2L464.5 320.5L464.7 322.5L464.9 321.9L465.2 322.5L465.4 320.8L465.6 322.6L465.8 321.3L466.1 323.2L466.3 322L466.5 322.3L466.7 322L467 321.6L467.2 322L467.4 322.1L467.7 324.5L467.9 320.4L468.1 322.6L468.3 322.1L468.6 322.9L468.8 320.5L469 323L469.2 321.2L469.5 320.3L469.7 319.7L469.9 320.3L470.2 321L470.4 323.4L470.6 320.2L470.8 320.3L471.1 320.7L471.3 320.8L471.5 321.7L471.7 322.4L472 320.4L472.2 320.1L472.4 323.1L472.6 320.5L472.9 321.4L473.1 320.5L473.3 321.2L473.6 320.1L473.8 320.1L474 320.1L474.2 322.8L474.5 319.7L474.7 320.3L474.9 321.5L475.1 319.1L475.4 322L475.6 319.5L475.8 318.8L476.1 321.9L476.3 320.2L476.5 320.9L476.7 320.8L477 323.4L477.2 320.9L477.4 321.6L477.6 320.8L477.9 321.8L478.1 320.4L478.3 321.5L478.6 321L478.8 320.1L479 321.6L479.2 320.6L479.5 321.6L479.7 321.2L479.9 322.6L480.1 320.9L480.4 320.3L480.6 322L480.8 320.9L481 321.4L481.3 323.3L481.5 321.5L481.7 320.3L482 322.6L482.2 324.2L482.4 321.7L482.6 322.8L482.9 319.5L483.1 322L483.3 322L483.5 322.8L483.8 321.6L484 322.7L484.2 323.1L484.5 322L484.7 323L484.9 320.3L485.1 323.5L485.4 322.1L485.6 322.9L485.8 323.7L486 319.9L486.3 324.6L486.5 320.2L486.7 323.8L487 321.9L487.2 319.1L487.4 324.7L487.6 323.7L487.9 320.3L488.1 321.8L488.3 322.7L488.5 322.1L488.8 323.2L489 321.9L489.2 320.1L489.5 322.5L489.7 321.9L489.9 320.5L490.1 319.5L490.4 322.8L490.6 321.7L490.8 322.7L491 322.9L491.3 322.5L491.5 322.8L491.7 324.2L491.9 324.6L492.2 323L492.4 321.9L492.6 320.5L492.9 322.7L493.1 322.3L493.3 321.2L493.5 321.1L493.8 322.2L494 322.1L494.2 319.7L494.4 322.5L494.7 322.7L494.9 324.1L495.1 321.5L495.4 322.4L495.6 319.7L495.8 322.5L496 321.1L496.3 320.9L496.5 320L496.7 323.7L496.9 320.1L497.2 322.1L497.4 322.2L497.6 322.5L497.9 322.6L498.1 322.5L498.3 325.1L498.5 321.5L498.8 322L499 323.3L499.2 322.2L499.4 319.2L499.7 321.7L499.9 322.6L500.1 320L500.3 323.1L500.6 322.3L500.8 322.8L501 322.4L501.3 321.2L501.5 321.4L501.7 323.1L501.9 322.3L502.2 322L502.4 322.7L502.6 322.2L502.8 323.1L503.1 323.1L503.3 322.1L503.5 323.5L503.8 321.6L504 322.4L504.2 323.3L504.4 322.9L504.7 322.8L504.9 322.4L505.1 322L505.3 322.5L505.6 323.3L505.8 320.4L506 321.1" fill="none" stroke="#3d63d3" stroke-width="1.1"/>
</g>
<rect x="316.9" y="250.0" width="189.2" height="189.2" fill="none" stroke="#2b2b2b" stroke-width="1.3"/>
<path d="M316.9 439.2v-3.5M316.9 250.0v3.5M354.7 439.2v-3.5M354.7 250.0v3.5M392.6 439.2v-3.5M392.6 250.0v3.5M430.4 439.2v-3.5M430.4 250.0v3.5M468.3 439.2v-3.5M468.3 250.0v3.5M506.1 439.2v-3.5M506.1 250.0v3.5M316.9 439.2h3.5M506.1 439.2h-3.5M316.9 401.4h3.5M506.1 401.4h-3.5M316.9 363.5h3.5M506.1 363.5h-3.5M316.9 325.7h3.5M506.1 325.7h-3.5M316.9 287.8h3.5M506.1 287.8h-3.5M316.9 250.0h3.5M506.1 250.0h-3.5" stroke="#2b2b2b" stroke-width="1.1" fill="none"/>
<g font-size="10.6" fill="#222" stroke="#222"><text x="316.9" y="451.2" text-anchor="middle">30</text><text x="354.7" y="451.2" text-anchor="middle">35</text><text x="392.6" y="451.2" text-anchor="middle">40</text><text x="430.4" y="451.2" text-anchor="middle">45</text><text x="468.3" y="451.2" text-anchor="middle">50</text><text x="506.1" y="451.2" text-anchor="middle">55</text><text x="312" y="441.8" text-anchor="end">0</text><text x="312" y="404.0" text-anchor="end">0.1</text><text x="312" y="366.1" text-anchor="end">0.2</text><text x="312" y="328.3" text-anchor="end">0.3</text><text x="312" y="290.4" text-anchor="end">0.4</text><text x="312" y="252.6" text-anchor="end">0.5</text></g>
<path d="M361.3 39.3L475.8 45.8M361.3 157.5L475.8 164.5M361.3 39.3L361.3 157.5M475.8 45.8L475.8 164.5" stroke="#1c1c1c" stroke-width="1.5" fill="none"/>
<circle cx="361.3" cy="39.3" r="20.4" fill="url(#gback)" stroke="#808080" stroke-width="0.7"/><path d="M361.0 19.4V34.8" stroke="#777" stroke-width="1.3" opacity="0.85"/>
<circle cx="475.8" cy="45.8" r="20.4" fill="url(#gback)" stroke="#808080" stroke-width="0.7"/><path d="M475.5 25.9V41.3" stroke="#777" stroke-width="1.3" opacity="0.85"/>
<circle cx="361.3" cy="157.5" r="20.4" fill="url(#gback)" stroke="#808080" stroke-width="0.7"/><path d="M361.0 137.6V153.0" stroke="#777" stroke-width="1.3" opacity="0.85"/>
<circle cx="475.8" cy="164.5" r="20.4" fill="url(#gback)" stroke="#808080" stroke-width="0.7"/><path d="M475.5 144.6V160.0" stroke="#777" stroke-width="1.3" opacity="0.85"/>
<path d="M354.7 42.5L323.3 58.0M469.2 49.0L437.5 64.5M354.7 160.8L323.3 176.3M469.2 167.7L437.5 183.3" stroke="#1c1c1c" stroke-width="1.5" fill="none"/>
<circle cx="399.5" cy="111.0" r="22.3" fill="#5f9a62"/>
<path d="M399.5 111.0L399.5 88.7A22.3 22.3 0 0 1 412.0 129.5Z" fill="#88b6e0"/>
<path d="M399.8 112.4L412.0 129.5A22.3 22.3 0 0 1 397.2 133.2Z" fill="#d41c1c"/>
<circle cx="399.5" cy="111.0" r="22.3" fill="url(#gedge)"/>
<circle cx="399.5" cy="111.0" r="22.3" fill="url(#gcen)" stroke="#556" stroke-width="0.5" stroke-opacity="0.4"/>
<path d="M323.3 58.0L437.5 64.5M323.3 176.3L437.5 183.3M323.3 58.0L323.3 176.3M437.5 64.5L437.5 183.3" stroke="#1c1c1c" stroke-width="1.5" fill="none"/>
<circle cx="323.3" cy="58.0" r="20.4" fill="url(#gfront)" stroke="#666" stroke-width="0.7"/><path d="M323.0 38.1V53.5" stroke="#4a4a55" stroke-width="1.3" opacity="0.85"/>
<circle cx="437.5" cy="64.5" r="20.4" fill="url(#gfront)" stroke="#666" stroke-width="0.7"/><path d="M437.2 44.6V60.0" stroke="#4a4a55" stroke-width="1.3" opacity="0.85"/>
<circle cx="323.3" cy="176.3" r="20.4" fill="url(#gfront)" stroke="#666" stroke-width="0.7"/><path d="M323.0 156.4V171.8" stroke="#4a4a55" stroke-width="1.3" opacity="0.85"/>
<circle cx="437.5" cy="183.3" r="20.4" fill="url(#gfront)" stroke="#666" stroke-width="0.7"/><path d="M437.2 163.4V178.8" stroke="#4a4a55" stroke-width="1.3" opacity="0.85"/>
<text x="285.6" y="15" font-size="13.3" fill="#1a1a1a" stroke="#1a1a1a">(b)</text>
<text x="410.5" y="27.2" font-size="19.3" fill="#7d7d7d" stroke="#7d7d7d">Ru</text>
<text x="454.2" y="19.5" font-size="20" fill="#1a1a1a" stroke="#1a1a1a">[1<tspan font-style="italic">a</tspan> site]</text>
<text x="361.2" y="86.8" font-size="20" fill="#1a1a1a" stroke="#1a1a1a">[1<tspan font-style="italic">b</tspan> site]</text>
<text x="324.9" y="117.6" font-size="19.3" fill="#5e9a5e" stroke="#5e9a5e">Nb</text>
<text x="445.9" y="109.5" font-size="19.3" fill="#6a9fd2" stroke="#6a9fd2">Ti</text>
<text x="406.3" y="157.3" font-size="19.8" fill="#c0161e" stroke="#c0161e">Cr</text>
<path d="M441.2 23.0L458.3 33.0" stroke="#111" stroke-width="1.8"/><path d="M463.5 36.0L456.0 35.0L458.9 30.0Z" fill="#111"/>
<path d="M351.3 110.9L371.0 113.3" stroke="#111" stroke-width="1.8"/><path d="M377.0 114.0L369.7 116.0L370.4 110.3Z" fill="#111"/>
<path d="M440.8 103.4L412.5 115.6" stroke="#111" stroke-width="1.8"/><path d="M407.0 118.0L412.3 112.6L414.6 117.9Z" fill="#111"/>
<path d="M404.3 145.8L403.1 137.3" stroke="#111" stroke-width="1.8"/><path d="M402.2 131.4L406.1 137.9L400.3 138.7Z" fill="#111"/>
<path d="M97.30 43.10L97.30 47.90M95.22 44.30L99.38 46.70M95.22 46.70L99.38 44.30M116.50 38.90L116.50 43.70M114.42 40.10L118.58 42.50M114.42 42.50L118.58 40.10M123.50 43.10L123.50 47.90M121.42 44.30L125.58 46.70M121.42 46.70L125.58 44.30M129.00 43.80L129.00 48.60M126.92 45.00L131.08 47.40M126.92 47.40L131.08 45.00M196.80 19.90L196.80 24.70M194.72 21.10L198.88 23.50M194.72 23.50L198.88 21.10M89.20 140.70L92.80 144.30M89.20 144.30L92.80 140.70M97.20 140.70L100.80 144.30M97.20 144.30L100.80 140.70M108.00 138.20L111.60 141.80M108.00 141.80L111.60 138.20M111.30 142.80L114.90 146.40M111.30 146.40L114.90 142.80M194.70 31.70L198.30 35.30M194.70 35.30L198.30 31.70" stroke="#222" stroke-width="1.1" fill="none"/>
<text x="50.7" y="20.7" font-size="12.2" fill="#1a1a1a" stroke="#1a1a1a">(a)</text>
<text x="148.8" y="27.4" font-size="10.3" fill="#c49c66" stroke="#c49c66">Sample A</text>
<text x="148.8" y="78.8" font-size="10.3" fill="#9a3446" stroke="#9a3446">Sample B</text>
<text x="148.8" y="130.5" font-size="10.3" fill="#5669a0" stroke="#5669a0">Sample C</text>
<text x="143.3" y="177.9" font-size="10.3" fill="#222" stroke="#222">CsCl simulation</text>
<text x="199.6" y="24.6" font-size="10.3" fill="#222" stroke="#222">;</text>
<text x="207.9" y="24.6" font-size="10.3" fill="#222" stroke="#222">&#945;-Mn</text>
<text x="201.6" y="35.5" font-size="10.3" fill="#222" stroke="#222">:</text>
<text x="207.9" y="35.5" font-size="10.3" fill="#222" stroke="#222" textLength="15" lengthAdjust="spacingAndGlyphs">C14</text>
<text x="114.6" y="224.5" font-size="13" fill="#1a1a1a" stroke="#1a1a1a">2<tspan font-style="italic" dx="0.8">&#952;</tspan><tspan dx="1.8">(degree)</tspan></text>
<text transform="translate(19.6 102.3) rotate(-90)" text-anchor="middle" font-size="12.7" fill="#222" stroke="#222">Intensity (arb. units)</text>
<text x="52.2" y="263.0" font-size="12.2" fill="#1a1a1a" stroke="#1a1a1a">(c)</text>
<text x="53.5" y="285.4" font-size="10.3" fill="#c49c66" stroke="#c49c66">Sample A</text>
<text x="55.2" y="358.8" font-size="10.3" fill="#9a3446" stroke="#9a3446">Sample B</text>
<text x="56.6" y="406.3" font-size="10.3" fill="#222" stroke="#222">&#945;-Mn</text>
<text x="56.6" y="417.8" font-size="10.3" fill="#222" stroke="#222">simulation</text>
<text x="114.6" y="467.3" font-size="13" fill="#1a1a1a" stroke="#1a1a1a">2<tspan font-style="italic" dx="0.8">&#952;</tspan><tspan dx="1.8">(degree)</tspan></text>
<text transform="translate(10.5 344.0) rotate(-90)" text-anchor="middle" font-size="12.7" fill="#222" stroke="#222">Intensity (arb. units)</text>
<text x="322.5" y="265.7" font-size="12" fill="#1a1a1a" stroke="#1a1a1a">(d)</text>
<text x="426.8" y="296.2" font-size="10.3" fill="#5669a0" stroke="#5669a0">Sample C</text>
<text x="433" y="364.8" font-size="10.3" fill="#222" stroke="#222">C14</text>
<text x="433" y="377.4" font-size="10.3" fill="#222" stroke="#222">simulation</text>
<text x="383.5" y="466.3" font-size="13" fill="#1a1a1a" stroke="#1a1a1a">2<tspan font-style="italic" dx="0.8">&#952;</tspan><tspan dx="1.8">(degree)</tspan></text>
<text transform="translate(286.8 343.2) rotate(-90)" text-anchor="middle" font-size="12.7" fill="#222" stroke="#222">Intensity (arb. units)</text>
</svg>
</body></html>
